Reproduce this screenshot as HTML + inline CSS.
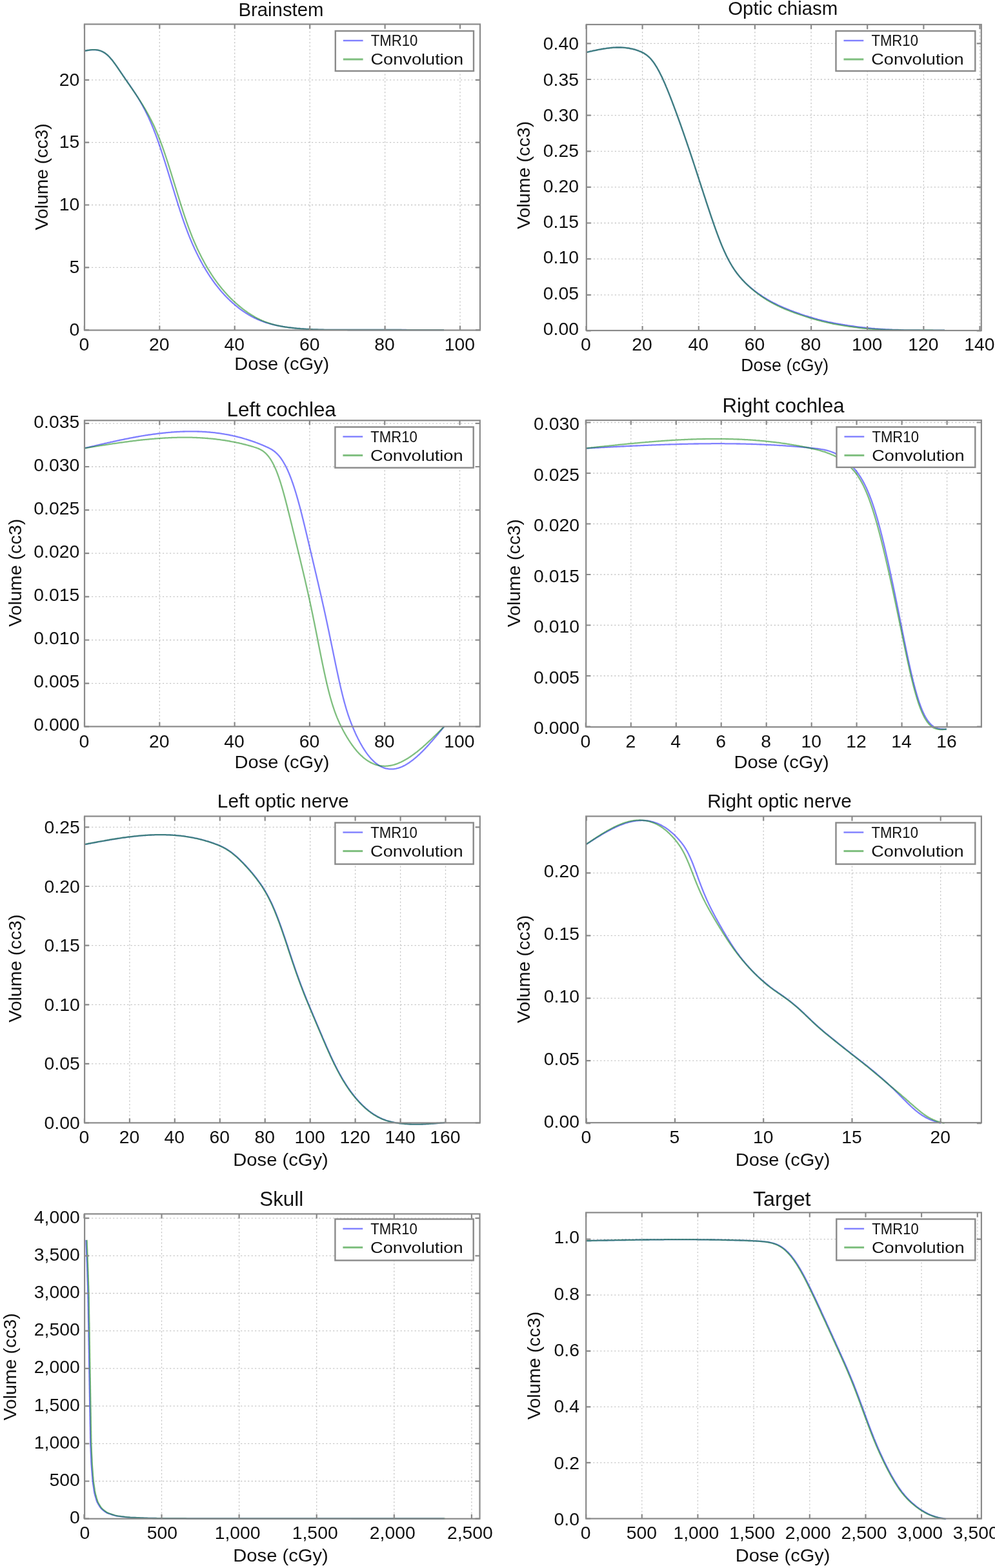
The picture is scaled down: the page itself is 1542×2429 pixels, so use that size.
<!DOCTYPE html><html><head><meta charset="utf-8"><title>DVH comparison</title>
<style>html,body{margin:0;padding:0;background:#fff;}svg{display:block;}text{font-family:"Liberation Sans", Arial, sans-serif;fill:#111;}</style></head><body>
<svg xmlns="http://www.w3.org/2000/svg" width="1542" height="2429" viewBox="0 0 1542 2429">
<rect width="1542" height="2429" fill="#fff"/>
<g><path d="M247.3,37.5V511.5 M363.7,37.5V511.5 M480.2,37.5V511.5 M596.6,37.5V511.5 M713.0,37.5V511.5 M131.0,414.3H744.0 M131.0,317.5H744.0 M131.0,220.7H744.0 M131.0,123.9H744.0" stroke="#c6c6c6" stroke-width="1.30" stroke-dasharray="2.2 3.3" fill="none"/><path d="M130.9,78.8L132.4,78.5L133.9,78.3L135.4,78.0L136.9,77.8L138.4,77.6L139.9,77.4L141.4,77.3L142.9,77.2L144.4,77.1L145.9,77.1L147.4,77.2L148.9,77.3L150.4,77.5L151.9,77.7L153.4,78.1L154.9,78.5L156.4,79.0L157.8,79.6L159.2,80.2L160.6,81.0L161.9,81.8L163.2,82.7L164.5,83.6L165.7,84.6L166.9,85.7L168.0,86.7L169.1,87.8L170.2,89.0L171.3,90.2L172.3,91.4L173.3,92.6L174.3,93.8L175.3,95.1L176.3,96.4L177.2,97.6L178.1,98.8L179.0,100.1L179.9,101.3L180.8,102.6L181.7,103.9L182.6,105.2L183.5,106.5L184.4,107.8L185.3,109.2L186.2,110.5L187.1,111.8L188.0,113.1L188.9,114.4L189.8,115.7L190.7,117.1L191.6,118.4L192.5,119.7L193.4,121.0L194.3,122.3L195.2,123.6L196.1,124.9L197.0,126.2L197.9,127.5L198.8,128.8L199.7,130.1L200.6,131.4L201.5,132.7L202.4,134.0L203.3,135.3L204.2,136.6L205.1,138.0L206.0,139.3L206.9,140.6L207.8,142.0L208.7,143.4L209.6,144.7L210.5,146.1L211.4,147.5L212.3,149.0L213.1,150.2L213.9,151.5L214.7,152.8L215.5,154.2L216.3,155.5L217.1,156.9L217.9,158.2L218.7,159.6L219.5,161.0L220.3,162.5L221.1,163.9L221.9,165.4L222.7,166.9L223.5,168.4L224.2,169.7L224.9,171.1L225.6,172.5L226.3,173.9L227.0,175.3L227.7,176.7L228.4,178.2L229.1,179.6L229.8,181.1L230.5,182.6L231.2,184.2L231.9,185.7L232.6,187.3L233.3,188.9L233.9,190.3L234.5,191.7L235.1,193.1L235.7,194.5L236.3,196.0L236.9,197.5L237.5,198.9L238.1,200.4L238.7,202.0L239.3,203.5L239.9,205.1L240.5,206.6L241.1,208.2L241.7,209.8L242.3,211.4L242.9,213.1L243.5,214.7L244.1,216.4L244.7,218.1L245.3,219.8L245.8,221.2L246.3,222.6L246.8,224.1L247.3,225.5L247.8,227.0L248.3,228.5L248.8,230.0L249.3,231.4L249.8,232.9L250.3,234.5L250.8,236.0L251.3,237.5L251.8,239.0L252.3,240.6L252.8,242.1L253.3,243.7L253.8,245.2L254.3,246.8L254.8,248.4L255.3,249.9L255.8,251.5L256.3,253.1L256.8,254.7L257.3,256.3L257.8,257.9L258.3,259.5L258.8,261.1L259.3,262.7L259.8,264.3L260.3,265.9L260.8,267.6L261.3,269.2L261.8,270.8L262.3,272.4L262.8,274.1L263.3,275.7L263.8,277.3L264.3,279.0L264.8,280.6L265.3,282.2L265.8,283.9L266.3,285.5L266.8,287.1L267.3,288.8L267.8,290.4L268.3,292.0L268.8,293.6L269.3,295.3L269.8,296.9L270.3,298.5L270.8,300.2L271.3,301.8L271.8,303.4L272.3,305.0L272.8,306.6L273.3,308.2L273.8,309.8L274.3,311.4L274.8,313.0L275.3,314.6L275.8,316.2L276.3,317.8L276.8,319.4L277.3,320.9L277.8,322.5L278.3,324.0L278.8,325.6L279.3,327.1L279.8,328.6L280.3,330.2L280.8,331.7L281.3,333.2L281.8,334.7L282.3,336.1L282.8,337.6L283.3,339.1L283.8,340.5L284.3,342.0L284.8,343.4L285.3,344.8L285.9,346.5L286.5,348.2L287.1,349.8L287.7,351.5L288.3,353.1L288.9,354.7L289.5,356.3L290.1,357.9L290.7,359.5L291.3,361.0L291.9,362.6L292.5,364.1L293.1,365.6L293.7,367.1L294.3,368.5L294.9,370.0L295.5,371.4L296.1,372.9L296.7,374.3L297.3,375.7L297.9,377.1L298.6,378.7L299.3,380.2L300.0,381.8L300.7,383.3L301.4,384.9L302.1,386.4L302.8,387.8L303.5,389.3L304.2,390.8L304.9,392.2L305.6,393.6L306.3,395.0L307.0,396.4L307.7,397.8L308.4,399.2L309.1,400.5L309.8,401.9L310.6,403.4L311.4,404.9L312.2,406.3L313.0,407.8L313.8,409.2L314.6,410.7L315.4,412.1L316.2,413.5L317.0,414.8L317.8,416.2L318.6,417.5L319.4,418.8L320.2,420.1L321.0,421.4L321.8,422.7L322.7,424.1L323.6,425.5L324.5,426.9L325.4,428.3L326.3,429.6L327.2,430.9L328.1,432.2L329.0,433.5L329.9,434.8L330.8,436.0L331.7,437.3L332.6,438.5L333.5,439.7L334.5,441.0L335.5,442.3L336.5,443.6L337.5,444.8L338.5,446.1L339.5,447.3L340.5,448.5L341.5,449.7L342.5,450.9L343.5,452.0L344.5,453.2L345.5,454.3L346.6,455.5L347.7,456.7L348.8,457.9L349.9,459.0L351.0,460.2L352.1,461.3L353.2,462.4L354.3,463.5L355.4,464.5L356.5,465.6L357.6,466.6L358.8,467.7L360.0,468.8L361.2,469.9L362.4,470.9L363.6,471.9L364.8,473.0L366.0,473.9L367.2,474.9L368.4,475.9L369.6,476.8L370.8,477.8L372.0,478.7L373.3,479.6L374.6,480.6L375.9,481.5L377.2,482.4L378.5,483.3L379.8,484.1L381.1,485.0L382.4,485.8L383.7,486.6L385.0,487.4L386.3,488.1L387.7,488.9L389.1,489.7L390.5,490.5L391.9,491.2L393.3,491.9L394.7,492.6L396.1,493.3L397.5,493.9L398.9,494.6L400.3,495.2L401.7,495.8L403.1,496.4L404.5,496.9L405.9,497.5L407.4,498.0L408.9,498.6L410.4,499.1L411.9,499.6L413.4,500.1L414.9,500.5L416.4,501.0L417.9,501.4L419.4,501.8L420.9,502.2L422.4,502.6L423.9,503.0L425.4,503.3L426.9,503.7L428.4,504.0L429.9,504.3L431.4,504.6L432.9,504.9L434.4,505.2L435.9,505.5L437.4,505.7L438.9,506.0L440.4,506.2L441.9,506.5L443.4,506.7L444.9,506.9L446.4,507.1L447.9,507.3L449.4,507.5L450.9,507.7L452.4,507.9L453.9,508.0L455.4,508.2L456.9,508.3L458.4,508.5L459.9,508.6L461.4,508.8L462.9,508.9L464.4,509.0L465.9,509.2L467.4,509.3L468.9,509.4L470.4,509.5L471.9,509.6L473.4,509.7L474.9,509.8L476.4,509.9L477.9,510.0L479.4,510.0L480.9,510.1L482.4,510.2L483.9,510.2L485.4,510.3L486.9,510.4L488.4,510.4L489.9,510.5L491.4,510.5L492.9,510.6L494.4,510.6L495.9,510.6L497.4,510.7L498.9,510.7L500.4,510.7L501.9,510.8L503.4,510.8L504.9,510.8L506.4,510.8L507.9,510.8L509.4,510.9L510.9,510.9L512.4,510.9L513.9,510.9L515.4,510.9L516.9,510.9L518.4,510.9L519.9,510.9L521.4,510.9L522.9,510.9L524.4,510.9L525.9,510.9L527.4,510.9L528.9,510.9L530.4,510.9L531.9,510.9L533.4,510.9L534.9,510.9L536.4,510.9L537.9,510.9L539.4,511.0L540.9,511.0L542.4,511.0L543.9,511.0L545.4,511.0L546.9,511.0L548.4,511.0L549.9,511.0L551.4,511.0L552.9,511.0L554.4,511.0L555.9,511.0L557.4,511.0L558.9,511.0L560.4,511.0L561.9,511.0L563.4,511.0L564.9,511.0L566.4,511.0L567.9,511.0L569.4,511.0L570.9,511.0L572.4,511.0L573.9,511.0L575.4,511.0L576.9,511.0L578.4,511.0L579.9,511.0L581.4,511.0L582.9,511.0L584.4,511.0L585.9,511.0L587.4,511.0L588.9,511.0L590.4,511.0L591.9,511.0L593.4,511.0L594.9,511.0L596.4,511.0L597.9,511.0L599.4,511.0L600.9,511.0L602.4,511.0L603.9,511.0L605.4,511.0L606.9,511.0L608.4,511.0L609.9,511.0L611.4,511.0L612.9,511.0L614.4,511.0L615.9,511.0L617.4,511.0L618.9,511.0L620.4,511.0L621.9,511.0L623.4,511.0L624.9,511.0L626.4,511.0L627.9,511.0L629.4,511.0L630.9,511.1L632.4,511.1L633.9,511.1L635.4,511.1L636.9,511.1L638.4,511.1L639.9,511.1L641.4,511.1L642.9,511.1L644.4,511.1L645.9,511.1L647.4,511.1L648.9,511.1L650.4,511.1L651.9,511.1L653.4,511.1L654.9,511.1L656.4,511.1L657.9,511.1L659.4,511.1L660.9,511.1L662.4,511.1L663.9,511.1L665.4,511.1L666.9,511.1L668.4,511.1L669.9,511.1L671.4,511.1L672.9,511.1L674.4,511.1L675.9,511.1L677.4,511.1L678.9,511.1L680.4,511.1L681.9,511.1L683.4,511.1L684.9,511.1L686.4,511.1L687.9,511.1L688.0,511.1" stroke="#0000ff" stroke-opacity="0.5" stroke-width="2.30" fill="none" stroke-linejoin="round" stroke-linecap="butt"/><path d="M130.9,78.8L132.4,78.5L133.9,78.3L135.4,78.0L136.9,77.8L138.4,77.6L139.9,77.4L141.4,77.2L142.9,77.1L144.4,77.1L145.9,77.1L147.4,77.1L148.9,77.2L150.4,77.4L151.9,77.7L153.4,78.0L154.9,78.4L156.4,79.0L157.8,79.5L159.2,80.2L160.6,81.0L161.9,81.8L163.2,82.6L164.5,83.6L165.7,84.6L166.9,85.7L168.0,86.7L169.1,87.8L170.2,89.0L171.3,90.2L172.3,91.4L173.3,92.6L174.3,93.8L175.3,95.1L176.3,96.5L177.2,97.7L178.1,98.9L179.0,100.2L179.9,101.4L180.8,102.7L181.7,104.0L182.6,105.3L183.5,106.7L184.4,108.0L185.3,109.3L186.2,110.6L187.1,112.0L188.0,113.3L188.9,114.6L189.8,116.0L190.7,117.3L191.6,118.6L192.5,119.9L193.4,121.3L194.3,122.6L195.2,123.9L196.1,125.2L197.0,126.5L197.9,127.8L198.8,129.1L199.7,130.4L200.6,131.7L201.5,133.0L202.4,134.3L203.3,135.6L204.2,136.9L205.1,138.2L206.0,139.5L206.9,140.8L207.8,142.1L208.7,143.4L209.6,144.8L210.5,146.1L211.4,147.4L212.3,148.8L213.2,150.1L214.1,151.5L215.0,152.9L215.9,154.3L216.8,155.6L217.7,157.1L218.6,158.5L219.4,159.8L220.2,161.0L221.0,162.3L221.8,163.6L222.6,165.0L223.4,166.3L224.2,167.6L225.0,169.0L225.8,170.4L226.6,171.8L227.4,173.2L228.2,174.6L229.0,176.1L229.8,177.5L230.6,179.0L231.4,180.5L232.1,181.8L232.8,183.2L233.5,184.5L234.2,185.9L234.9,187.3L235.6,188.7L236.3,190.2L237.0,191.6L237.7,193.1L238.4,194.6L239.1,196.1L239.8,197.6L240.5,199.2L241.2,200.8L241.8,202.2L242.4,203.5L243.0,205.0L243.6,206.4L244.2,207.8L244.8,209.3L245.4,210.8L246.0,212.3L246.6,213.8L247.2,215.3L247.8,216.9L248.4,218.4L249.0,220.0L249.6,221.6L250.2,223.2L250.8,224.9L251.4,226.5L252.0,228.2L252.6,229.9L253.1,231.3L253.6,232.7L254.1,234.2L254.6,235.6L255.1,237.1L255.6,238.5L256.1,240.0L256.6,241.5L257.1,243.0L257.6,244.5L258.1,246.0L258.6,247.5L259.1,249.1L259.6,250.6L260.1,252.2L260.6,253.7L261.1,255.3L261.6,256.8L262.1,258.4L262.6,260.0L263.1,261.6L263.6,263.2L264.1,264.8L264.6,266.3L265.1,267.9L265.6,269.6L266.1,271.2L266.6,272.8L267.1,274.4L267.6,276.0L268.1,277.6L268.6,279.2L269.1,280.9L269.6,282.5L270.1,284.1L270.6,285.7L271.1,287.4L271.6,289.0L272.1,290.6L272.6,292.2L273.1,293.9L273.6,295.5L274.1,297.1L274.6,298.7L275.1,300.4L275.6,302.0L276.1,303.6L276.6,305.2L277.1,306.8L277.6,308.4L278.1,310.0L278.6,311.6L279.1,313.2L279.6,314.8L280.1,316.4L280.6,318.0L281.1,319.6L281.6,321.1L282.1,322.7L282.6,324.2L283.1,325.8L283.6,327.3L284.1,328.8L284.6,330.3L285.1,331.8L285.6,333.3L286.1,334.8L286.6,336.3L287.1,337.8L287.6,339.2L288.1,340.7L288.6,342.1L289.1,343.6L289.6,345.0L290.2,346.7L290.8,348.3L291.4,350.0L292.0,351.6L292.6,353.3L293.2,354.9L293.8,356.5L294.4,358.0L295.0,359.6L295.6,361.1L296.2,362.7L296.8,364.2L297.4,365.7L298.0,367.2L298.6,368.6L299.2,370.1L299.8,371.5L300.4,373.0L301.0,374.4L301.6,375.8L302.2,377.1L302.9,378.7L303.6,380.3L304.3,381.8L305.0,383.4L305.7,384.9L306.4,386.4L307.1,387.9L307.8,389.3L308.5,390.8L309.2,392.2L309.9,393.6L310.6,395.0L311.3,396.4L312.0,397.8L312.7,399.2L313.4,400.5L314.1,401.8L314.9,403.3L315.7,404.8L316.5,406.3L317.3,407.7L318.1,409.2L318.9,410.6L319.7,412.0L320.5,413.4L321.3,414.7L322.1,416.1L322.9,417.4L323.7,418.7L324.5,420.0L325.3,421.3L326.2,422.7L327.1,424.1L328.0,425.5L328.9,426.9L329.8,428.2L330.7,429.6L331.6,430.9L332.5,432.2L333.4,433.4L334.3,434.7L335.2,435.9L336.1,437.2L337.0,438.4L338.0,439.7L339.0,441.0L340.0,442.3L341.0,443.6L342.0,444.8L343.0,446.1L344.0,447.3L345.0,448.5L346.0,449.6L347.0,450.8L348.0,452.0L349.0,453.1L350.1,454.3L351.2,455.5L352.3,456.7L353.4,457.9L354.5,459.0L355.6,460.1L356.7,461.3L357.8,462.4L358.9,463.4L360.0,464.5L361.1,465.5L362.2,466.6L363.4,467.7L364.6,468.8L365.8,469.8L367.0,470.9L368.2,471.9L369.4,473.0L370.6,474.0L371.8,475.0L373.0,475.9L374.2,476.9L375.4,477.8L376.6,478.8L377.8,479.7L379.1,480.7L380.4,481.6L381.7,482.5L383.0,483.5L384.3,484.4L385.6,485.2L386.9,486.1L388.2,486.9L389.5,487.7L390.8,488.6L392.1,489.3L393.4,490.1L394.8,490.9L396.2,491.7L397.6,492.4L399.0,493.2L400.4,493.9L401.8,494.6L403.2,495.3L404.6,495.9L406.0,496.6L407.4,497.2L408.8,497.7L410.2,498.3L411.6,498.8L413.1,499.4L414.6,499.9L416.1,500.4L417.6,500.9L419.1,501.4L420.6,501.9L422.1,502.3L423.6,502.7L425.1,503.1L426.6,503.5L428.1,503.8L429.6,504.2L431.1,504.5L432.6,504.8L434.1,505.1L435.6,505.4L437.1,505.7L438.6,506.0L440.1,506.2L441.6,506.5L443.1,506.7L444.6,506.9L446.1,507.1L447.6,507.3L449.1,507.5L450.6,507.7L452.1,507.9L453.6,508.0L455.1,508.2L456.6,508.4L458.1,508.5L459.6,508.7L461.1,508.8L462.6,508.9L464.1,509.0L465.6,509.2L467.1,509.3L468.6,509.4L470.1,509.5L471.6,509.6L473.1,509.7L474.6,509.8L476.1,509.9L477.6,510.0L479.1,510.0L480.6,510.1L482.1,510.2L483.6,510.2L485.1,510.3L486.6,510.4L488.1,510.4L489.6,510.5L491.1,510.5L492.6,510.5L494.1,510.6L495.6,510.6L497.1,510.7L498.6,510.7L500.1,510.7L501.6,510.7L503.1,510.8L504.6,510.8L506.1,510.8L507.6,510.8L509.1,510.8L510.6,510.9L512.1,510.9L513.6,510.9L515.1,510.9L516.6,510.9L518.1,510.9L519.6,510.9L521.1,510.9L522.6,510.9L524.1,510.9L525.6,510.9L527.1,510.9L528.6,510.9L530.1,510.9L531.6,510.9L533.1,510.9L534.6,510.9L536.1,510.9L537.6,510.9L539.1,511.0L540.6,511.0L542.1,511.0L543.6,511.0L545.1,511.0L546.6,511.0L548.1,511.0L549.6,511.0L551.1,511.0L552.6,511.0L554.1,511.0L555.6,511.0L557.1,511.0L558.6,511.0L560.1,511.0L561.6,511.0L563.1,511.0L564.6,511.0L566.1,511.0L567.6,511.0L569.1,511.0L570.6,511.0L572.1,511.0L573.6,511.0L575.1,511.0L576.6,511.0L578.1,511.0L579.6,511.0L581.1,511.0L582.6,511.0L584.1,511.0L585.6,511.0L587.1,511.0L588.6,511.0L590.1,511.0L591.6,511.0L593.1,511.0L594.6,511.0L596.1,511.0L597.6,511.0L599.1,511.0L600.6,511.0L602.1,511.0L603.6,511.0L605.1,511.0L606.6,511.0L608.1,511.0L609.6,511.0L611.1,511.0L612.6,511.0L614.1,511.0L615.6,511.0L617.1,511.0L618.6,511.0L620.1,511.0L621.6,511.0L623.1,511.1L624.6,511.1L626.1,511.1L627.6,511.1L629.1,511.1L630.6,511.1L632.1,511.1L633.6,511.1L635.1,511.1L636.6,511.1L638.1,511.1L639.6,511.1L641.1,511.1L642.6,511.1L644.1,511.1L645.6,511.1L647.1,511.1L648.6,511.1L650.1,511.1L651.6,511.1L653.1,511.1L654.6,511.1L656.1,511.1L657.6,511.1L659.1,511.1L660.6,511.1L662.1,511.1L663.6,511.1L665.1,511.1L666.6,511.1L668.1,511.1L669.6,511.1L671.1,511.1L672.6,511.1L674.1,511.1L675.6,511.1L677.1,511.1L678.6,511.1L680.1,511.1L681.6,511.1L683.1,511.1L684.6,511.1L686.1,511.1L687.6,511.1L688.0,511.1" stroke="#008000" stroke-opacity="0.5" stroke-width="2.30" fill="none" stroke-linejoin="round" stroke-linecap="butt"/><path d="M130.9,511.5V504.5 M130.9,37.5V44.5 M247.3,511.5V504.5 M247.3,37.5V44.5 M363.7,511.5V504.5 M363.7,37.5V44.5 M480.2,511.5V504.5 M480.2,37.5V44.5 M596.6,511.5V504.5 M596.6,37.5V44.5 M713.0,511.5V504.5 M713.0,37.5V44.5 M131.0,511.1H138.0 M744.0,511.1H737.0 M131.0,414.3H138.0 M744.0,414.3H737.0 M131.0,317.5H138.0 M744.0,317.5H737.0 M131.0,220.7H138.0 M744.0,220.7H737.0 M131.0,123.9H138.0 M744.0,123.9H737.0" stroke="#8a8a8a" stroke-width="2.20" fill="none"/><rect x="131.0" y="37.5" width="613.0" height="474.0" fill="none" stroke="#8a8a8a" stroke-width="2.20"/><text x="130.4" y="542.5" font-size="27.0" text-anchor="middle" textLength="15.8" lengthAdjust="spacingAndGlyphs">0</text><text x="246.8" y="542.5" font-size="27.0" text-anchor="middle" textLength="31.5" lengthAdjust="spacingAndGlyphs">20</text><text x="363.2" y="542.5" font-size="27.0" text-anchor="middle" textLength="31.5" lengthAdjust="spacingAndGlyphs">40</text><text x="479.7" y="542.5" font-size="27.0" text-anchor="middle" textLength="31.5" lengthAdjust="spacingAndGlyphs">60</text><text x="596.1" y="542.5" font-size="27.0" text-anchor="middle" textLength="31.5" lengthAdjust="spacingAndGlyphs">80</text><text x="712.5" y="542.5" font-size="27.0" text-anchor="middle" textLength="47.3" lengthAdjust="spacingAndGlyphs">100</text><text x="123.3" y="519.8" font-size="27.0" text-anchor="end" textLength="15.8" lengthAdjust="spacingAndGlyphs">0</text><text x="123.3" y="423.0" font-size="27.0" text-anchor="end" textLength="15.8" lengthAdjust="spacingAndGlyphs">5</text><text x="123.3" y="326.2" font-size="27.0" text-anchor="end" textLength="31.5" lengthAdjust="spacingAndGlyphs">10</text><text x="123.3" y="229.4" font-size="27.0" text-anchor="end" textLength="31.5" lengthAdjust="spacingAndGlyphs">15</text><text x="123.3" y="132.6" font-size="27.0" text-anchor="end" textLength="31.5" lengthAdjust="spacingAndGlyphs">20</text><text x="369.4" y="25.2" font-size="29.7" text-anchor="start" textLength="132.1" lengthAdjust="spacingAndGlyphs">Brainstem</text><text x="363.3" y="573.0" font-size="28.5" text-anchor="start" textLength="147.0" lengthAdjust="spacingAndGlyphs">Dose (cGy)</text><g transform="translate(74.3,356.3) rotate(-90)"><text x="-0.1" y="0.0" font-size="28.5" text-anchor="start" textLength="165.1" lengthAdjust="spacingAndGlyphs">Volume (cc3)</text></g><rect x="519.8" y="48.0" width="214.2" height="62.0" fill="#fff" stroke="#8a8a8a" stroke-width="2.40"/><path d="M531.8,62.9H562.6" stroke="#0000ff" stroke-opacity="0.5" stroke-width="2.4"/><path d="M531.8,91.9H562.6" stroke="#008000" stroke-opacity="0.5" stroke-width="3.0"/><text x="574.7" y="71.4" font-size="24.5" text-anchor="start" textLength="72.6" lengthAdjust="spacingAndGlyphs">TMR10</text><text x="574.5" y="100.2" font-size="24.5" text-anchor="start" textLength="143.5" lengthAdjust="spacingAndGlyphs">Convolution</text></g>
<g><path d="M995.6,38.0V512.0 M1082.8,38.0V512.0 M1169.9,38.0V512.0 M1257.1,38.0V512.0 M1344.2,38.0V512.0 M1431.4,38.0V512.0 M1518.5,38.0V512.0 M908.8,456.8H1520.8 M908.8,401.2H1520.8 M908.8,345.5H1520.8 M908.8,289.9H1520.8 M908.8,234.3H1520.8 M908.8,178.7H1520.8 M908.8,123.0H1520.8 M908.8,67.4H1520.8" stroke="#c6c6c6" stroke-width="1.30" stroke-dasharray="2.2 3.3" fill="none"/><path d="M908.5,81.1L910.0,80.8L911.5,80.4L913.0,80.1L914.5,79.7L916.0,79.4L917.5,79.1L919.0,78.7L920.5,78.4L922.0,78.1L923.5,77.8L925.0,77.5L926.5,77.2L928.0,76.9L929.5,76.6L931.0,76.3L932.5,76.0L934.0,75.8L935.5,75.5L937.0,75.3L938.5,75.1L940.0,74.8L941.5,74.6L943.0,74.5L944.5,74.3L946.0,74.1L947.5,74.0L949.0,73.9L950.5,73.7L952.0,73.6L953.5,73.6L955.0,73.5L956.5,73.5L958.0,73.5L959.5,73.5L961.0,73.5L962.5,73.5L964.0,73.6L965.5,73.7L967.0,73.8L968.5,73.9L970.0,74.1L971.5,74.3L973.0,74.5L974.5,74.7L976.0,75.0L977.5,75.3L979.0,75.6L980.5,75.9L982.0,76.3L983.5,76.7L985.0,77.2L986.5,77.6L988.0,78.2L989.5,78.7L991.0,79.3L992.4,79.8L993.8,80.4L995.2,81.1L996.6,81.8L998.0,82.6L999.3,83.4L1000.6,84.2L1001.9,85.1L1003.1,86.1L1004.3,87.1L1005.5,88.1L1006.6,89.2L1007.7,90.3L1008.8,91.5L1009.8,92.7L1010.8,93.9L1011.8,95.2L1012.7,96.4L1013.6,97.7L1014.5,99.0L1015.4,100.3L1016.3,101.8L1017.1,103.0L1017.9,104.4L1018.7,105.8L1019.5,107.2L1020.3,108.6L1021.1,110.1L1021.9,111.6L1022.6,113.0L1023.3,114.4L1024.0,115.8L1024.7,117.2L1025.4,118.6L1026.1,120.1L1026.8,121.6L1027.5,123.1L1028.2,124.7L1028.9,126.2L1029.6,127.8L1030.3,129.4L1030.9,130.8L1031.5,132.2L1032.1,133.6L1032.7,135.1L1033.3,136.5L1033.9,137.9L1034.5,139.4L1035.1,140.9L1035.7,142.4L1036.3,143.8L1036.9,145.4L1037.5,146.9L1038.1,148.4L1038.7,149.9L1039.3,151.5L1039.9,153.0L1040.5,154.6L1041.1,156.1L1041.7,157.7L1042.3,159.3L1042.9,160.9L1043.5,162.5L1044.1,164.1L1044.7,165.7L1045.3,167.3L1045.9,168.9L1046.5,170.5L1047.1,172.1L1047.7,173.8L1048.3,175.4L1048.9,177.0L1049.5,178.7L1050.1,180.3L1050.7,182.0L1051.3,183.7L1051.9,185.3L1052.5,187.0L1053.1,188.7L1053.7,190.4L1054.3,192.0L1054.9,193.7L1055.5,195.4L1056.1,197.1L1056.6,198.5L1057.1,200.0L1057.6,201.4L1058.1,202.8L1058.6,204.2L1059.1,205.7L1059.6,207.1L1060.1,208.5L1060.6,210.0L1061.1,211.4L1061.6,212.9L1062.1,214.3L1062.6,215.8L1063.1,217.2L1063.6,218.7L1064.1,220.1L1064.6,221.6L1065.1,223.1L1065.6,224.5L1066.1,226.0L1066.6,227.5L1067.1,229.0L1067.6,230.4L1068.1,231.9L1068.6,233.4L1069.1,234.9L1069.6,236.4L1070.1,237.9L1070.6,239.4L1071.1,240.9L1071.6,242.4L1072.1,243.9L1072.6,245.4L1073.1,246.9L1073.6,248.4L1074.1,249.9L1074.6,251.4L1075.1,253.0L1075.6,254.5L1076.1,256.0L1076.6,257.5L1077.1,259.0L1077.6,260.6L1078.1,262.1L1078.6,263.6L1079.1,265.2L1079.6,266.7L1080.1,268.2L1080.6,269.8L1081.1,271.3L1081.6,272.8L1082.1,274.4L1082.6,275.9L1083.1,277.5L1083.6,279.0L1084.1,280.5L1084.6,282.1L1085.1,283.6L1085.6,285.2L1086.1,286.7L1086.6,288.2L1087.1,289.8L1087.6,291.3L1088.1,292.9L1088.6,294.4L1089.1,295.9L1089.6,297.5L1090.1,299.0L1090.6,300.6L1091.1,302.1L1091.6,303.6L1092.1,305.2L1092.6,306.7L1093.1,308.2L1093.6,309.7L1094.1,311.3L1094.6,312.8L1095.1,314.3L1095.6,315.8L1096.1,317.4L1096.6,318.9L1097.1,320.4L1097.6,321.9L1098.1,323.4L1098.6,324.9L1099.1,326.4L1099.6,327.9L1100.1,329.4L1100.6,330.9L1101.1,332.4L1101.6,333.8L1102.1,335.3L1102.6,336.8L1103.1,338.3L1103.6,339.7L1104.1,341.2L1104.6,342.6L1105.1,344.1L1105.6,345.5L1106.1,347.0L1106.6,348.4L1107.1,349.8L1107.6,351.2L1108.2,352.9L1108.8,354.6L1109.4,356.3L1110.0,357.9L1110.6,359.6L1111.2,361.2L1111.8,362.8L1112.4,364.4L1113.0,366.0L1113.6,367.6L1114.2,369.2L1114.8,370.7L1115.4,372.2L1116.0,373.8L1116.6,375.3L1117.2,376.8L1117.8,378.2L1118.4,379.7L1119.0,381.1L1119.6,382.6L1120.2,384.0L1120.8,385.4L1121.5,387.0L1122.2,388.5L1122.9,390.1L1123.6,391.6L1124.3,393.1L1125.0,394.6L1125.7,396.0L1126.4,397.4L1127.1,398.8L1127.8,400.2L1128.5,401.6L1129.3,403.1L1130.1,404.5L1130.9,406.0L1131.7,407.4L1132.5,408.8L1133.3,410.2L1134.1,411.5L1134.9,412.8L1135.7,414.1L1136.6,415.5L1137.5,416.8L1138.4,418.2L1139.3,419.5L1140.2,420.7L1141.1,422.0L1142.0,423.2L1143.0,424.5L1144.0,425.8L1145.0,427.0L1146.0,428.2L1147.0,429.4L1148.0,430.6L1149.0,431.7L1150.1,432.9L1151.2,434.1L1152.3,435.2L1153.4,436.4L1154.5,437.5L1155.6,438.6L1156.7,439.6L1157.8,440.7L1159.0,441.8L1160.2,442.9L1161.4,443.9L1162.6,445.0L1163.8,446.0L1165.0,447.0L1166.2,448.0L1167.4,448.9L1168.6,449.9L1169.8,450.8L1171.0,451.7L1172.3,452.7L1173.6,453.6L1174.9,454.6L1176.2,455.5L1177.5,456.4L1178.8,457.3L1180.1,458.2L1181.4,459.0L1182.7,459.9L1184.0,460.7L1185.3,461.5L1186.6,462.3L1187.9,463.1L1189.2,463.9L1190.5,464.6L1191.9,465.4L1193.3,466.2L1194.7,467.0L1196.1,467.7L1197.5,468.5L1198.9,469.2L1200.3,469.9L1201.7,470.6L1203.1,471.3L1204.5,472.0L1205.9,472.7L1207.3,473.3L1208.7,474.0L1210.1,474.6L1211.5,475.2L1212.9,475.9L1214.3,476.5L1215.7,477.1L1217.1,477.7L1218.5,478.2L1219.9,478.8L1221.3,479.4L1222.7,479.9L1224.1,480.5L1225.5,481.0L1227.0,481.6L1228.5,482.2L1230.0,482.7L1231.5,483.3L1233.0,483.8L1234.5,484.4L1236.0,484.9L1237.5,485.4L1239.0,485.9L1240.5,486.5L1242.0,487.0L1243.5,487.5L1245.0,488.0L1246.5,488.5L1248.0,489.0L1249.5,489.4L1251.0,489.9L1252.5,490.4L1254.0,490.8L1255.5,491.3L1257.0,491.8L1258.5,492.2L1260.0,492.7L1261.5,493.1L1263.0,493.5L1264.5,493.9L1266.0,494.3L1267.5,494.8L1269.0,495.2L1270.5,495.5L1272.0,495.9L1273.5,496.3L1275.0,496.7L1276.5,497.0L1278.0,497.4L1279.5,497.7L1281.0,498.1L1282.5,498.4L1284.0,498.8L1285.5,499.1L1287.0,499.4L1288.5,499.7L1290.0,500.0L1291.5,500.3L1293.0,500.6L1294.5,500.9L1296.0,501.2L1297.5,501.4L1299.0,501.7L1300.5,502.0L1302.0,502.2L1303.5,502.5L1305.0,502.7L1306.5,503.0L1308.0,503.2L1309.5,503.5L1311.0,503.7L1312.5,503.9L1314.0,504.2L1315.5,504.4L1317.0,504.6L1318.5,504.8L1320.0,505.0L1321.5,505.2L1323.0,505.4L1324.5,505.7L1326.0,505.9L1327.5,506.1L1329.0,506.3L1330.5,506.5L1332.0,506.6L1333.5,506.8L1335.0,507.0L1336.5,507.2L1338.0,507.4L1339.5,507.5L1341.0,507.7L1342.5,507.9L1344.0,508.0L1345.5,508.2L1347.0,508.4L1348.5,508.5L1350.0,508.6L1351.5,508.8L1353.0,508.9L1354.5,509.0L1356.0,509.2L1357.5,509.3L1359.0,509.4L1360.5,509.5L1362.0,509.6L1363.5,509.7L1365.0,509.8L1366.5,509.9L1368.0,510.0L1369.5,510.1L1371.0,510.2L1372.5,510.3L1374.0,510.4L1375.5,510.4L1377.0,510.5L1378.5,510.6L1380.0,510.6L1381.5,510.7L1383.0,510.8L1384.5,510.8L1386.0,510.9L1387.5,510.9L1389.0,511.0L1390.5,511.0L1392.0,511.0L1393.5,511.1L1395.0,511.1L1396.5,511.2L1398.0,511.2L1399.5,511.2L1401.0,511.3L1402.5,511.3L1404.0,511.3L1405.5,511.3L1407.0,511.4L1408.5,511.4L1410.0,511.4L1411.5,511.4L1413.0,511.4L1414.5,511.5L1416.0,511.5L1417.5,511.5L1419.0,511.5L1420.5,511.5L1422.0,511.5L1423.5,511.5L1425.0,511.5L1426.5,511.6L1428.0,511.6L1429.5,511.6L1431.0,511.6L1432.5,511.6L1434.0,511.6L1435.5,511.6L1437.0,511.6L1438.5,511.6L1440.0,511.6L1441.5,511.6L1443.0,511.6L1444.5,511.6L1446.0,511.6L1447.5,511.6L1449.0,511.6L1450.5,511.6L1452.0,511.6L1453.5,511.6L1455.0,511.6L1456.5,511.6L1458.0,511.6L1459.5,511.6L1461.0,511.6L1462.5,511.6L1464.0,511.6" stroke="#0000ff" stroke-opacity="0.5" stroke-width="2.30" fill="none" stroke-linejoin="round" stroke-linecap="butt"/><path d="M908.5,81.1L910.0,80.8L911.5,80.4L913.0,80.1L914.5,79.7L916.0,79.4L917.5,79.1L919.0,78.7L920.5,78.4L922.0,78.1L923.5,77.8L925.0,77.5L926.5,77.2L928.0,76.9L929.5,76.6L931.0,76.3L932.5,76.0L934.0,75.8L935.5,75.5L937.0,75.3L938.5,75.1L940.0,74.8L941.5,74.6L943.0,74.5L944.5,74.3L946.0,74.1L947.5,74.0L949.0,73.9L950.5,73.7L952.0,73.6L953.5,73.6L955.0,73.5L956.5,73.5L958.0,73.5L959.5,73.5L961.0,73.5L962.5,73.5L964.0,73.6L965.5,73.7L967.0,73.8L968.5,73.9L970.0,74.1L971.5,74.3L973.0,74.5L974.5,74.7L976.0,75.0L977.5,75.3L979.0,75.6L980.5,75.9L982.0,76.3L983.5,76.7L985.0,77.2L986.5,77.6L988.0,78.2L989.5,78.7L991.0,79.3L992.4,79.8L993.8,80.4L995.2,81.1L996.6,81.8L998.0,82.6L999.3,83.4L1000.6,84.2L1001.9,85.1L1003.1,86.1L1004.3,87.1L1005.5,88.1L1006.6,89.2L1007.7,90.3L1008.8,91.5L1009.8,92.7L1010.8,93.9L1011.8,95.2L1012.7,96.4L1013.6,97.7L1014.5,99.0L1015.4,100.3L1016.3,101.8L1017.1,103.0L1017.9,104.4L1018.7,105.8L1019.5,107.2L1020.3,108.6L1021.1,110.1L1021.9,111.6L1022.6,113.0L1023.3,114.4L1024.0,115.8L1024.7,117.2L1025.4,118.6L1026.1,120.1L1026.8,121.6L1027.5,123.1L1028.2,124.7L1028.9,126.2L1029.6,127.8L1030.3,129.4L1030.9,130.8L1031.5,132.2L1032.1,133.6L1032.7,135.1L1033.3,136.5L1033.9,137.9L1034.5,139.4L1035.1,140.9L1035.7,142.4L1036.3,143.8L1036.9,145.4L1037.5,146.9L1038.1,148.4L1038.7,149.9L1039.3,151.5L1039.9,153.0L1040.5,154.6L1041.1,156.1L1041.7,157.7L1042.3,159.3L1042.9,160.9L1043.5,162.5L1044.1,164.1L1044.7,165.7L1045.3,167.3L1045.9,168.9L1046.5,170.5L1047.1,172.1L1047.7,173.8L1048.3,175.4L1048.9,177.0L1049.5,178.7L1050.1,180.3L1050.7,182.0L1051.3,183.7L1051.9,185.3L1052.5,187.0L1053.1,188.7L1053.7,190.4L1054.3,192.0L1054.9,193.7L1055.5,195.4L1056.1,197.1L1056.6,198.5L1057.1,200.0L1057.6,201.4L1058.1,202.8L1058.6,204.2L1059.1,205.7L1059.6,207.1L1060.1,208.5L1060.6,210.0L1061.1,211.4L1061.6,212.9L1062.1,214.3L1062.6,215.8L1063.1,217.2L1063.6,218.7L1064.1,220.1L1064.6,221.6L1065.1,223.1L1065.6,224.5L1066.1,226.0L1066.6,227.5L1067.1,229.0L1067.6,230.4L1068.1,231.9L1068.6,233.4L1069.1,234.9L1069.6,236.4L1070.1,237.9L1070.6,239.4L1071.1,240.9L1071.6,242.4L1072.1,243.9L1072.6,245.4L1073.1,246.9L1073.6,248.4L1074.1,249.9L1074.6,251.4L1075.1,253.0L1075.6,254.5L1076.1,256.0L1076.6,257.5L1077.1,259.0L1077.6,260.6L1078.1,262.1L1078.6,263.6L1079.1,265.2L1079.6,266.7L1080.1,268.2L1080.6,269.8L1081.1,271.3L1081.6,272.8L1082.1,274.4L1082.6,275.9L1083.1,277.5L1083.6,279.0L1084.1,280.5L1084.6,282.1L1085.1,283.6L1085.6,285.2L1086.1,286.7L1086.6,288.2L1087.1,289.8L1087.6,291.3L1088.1,292.9L1088.6,294.4L1089.1,295.9L1089.6,297.5L1090.1,299.0L1090.6,300.6L1091.1,302.1L1091.6,303.6L1092.1,305.2L1092.6,306.7L1093.1,308.2L1093.6,309.7L1094.1,311.3L1094.6,312.8L1095.1,314.3L1095.6,315.8L1096.1,317.4L1096.6,318.9L1097.1,320.4L1097.6,321.9L1098.1,323.4L1098.6,324.9L1099.1,326.4L1099.6,327.9L1100.1,329.4L1100.6,330.9L1101.1,332.4L1101.6,333.8L1102.1,335.3L1102.6,336.8L1103.1,338.3L1103.6,339.7L1104.1,341.2L1104.6,342.6L1105.1,344.1L1105.6,345.5L1106.1,347.0L1106.6,348.4L1107.1,349.8L1107.6,351.2L1108.2,352.9L1108.8,354.6L1109.4,356.2L1110.0,357.9L1110.6,359.5L1111.2,361.2L1111.8,362.8L1112.4,364.4L1113.0,366.0L1113.6,367.6L1114.2,369.1L1114.8,370.7L1115.4,372.2L1116.0,373.8L1116.6,375.3L1117.2,376.7L1117.8,378.2L1118.4,379.7L1119.0,381.1L1119.6,382.5L1120.2,384.0L1120.8,385.3L1121.5,386.9L1122.2,388.5L1122.9,390.1L1123.6,391.6L1124.3,393.1L1125.0,394.6L1125.7,396.0L1126.4,397.4L1127.1,398.8L1127.8,400.2L1128.5,401.5L1129.3,403.0L1130.1,404.5L1130.9,406.0L1131.7,407.4L1132.5,408.8L1133.3,410.1L1134.1,411.5L1134.9,412.8L1135.7,414.0L1136.6,415.4L1137.5,416.8L1138.4,418.1L1139.3,419.5L1140.2,420.7L1141.1,422.0L1142.0,423.2L1143.0,424.5L1144.0,425.8L1145.0,427.0L1146.0,428.3L1147.0,429.5L1148.0,430.6L1149.0,431.8L1150.0,432.9L1151.1,434.1L1152.2,435.3L1153.3,436.4L1154.4,437.6L1155.5,438.7L1156.6,439.8L1157.7,440.8L1158.8,441.9L1159.9,442.9L1161.1,444.0L1162.3,445.1L1163.5,446.2L1164.7,447.2L1165.9,448.2L1167.1,449.2L1168.3,450.2L1169.5,451.2L1170.7,452.1L1171.9,453.1L1173.1,454.0L1174.3,454.9L1175.6,455.9L1176.9,456.8L1178.2,457.8L1179.5,458.7L1180.8,459.6L1182.1,460.5L1183.4,461.3L1184.7,462.2L1186.0,463.0L1187.3,463.9L1188.6,464.7L1189.9,465.5L1191.2,466.2L1192.5,467.0L1193.9,467.8L1195.3,468.6L1196.7,469.3L1198.1,470.1L1199.5,470.8L1200.9,471.5L1202.3,472.3L1203.7,472.9L1205.1,473.6L1206.5,474.3L1207.9,475.0L1209.3,475.6L1210.7,476.2L1212.1,476.9L1213.5,477.5L1214.9,478.1L1216.3,478.7L1217.7,479.3L1219.1,479.8L1220.5,480.4L1221.9,481.0L1223.3,481.5L1224.7,482.1L1226.2,482.6L1227.7,483.2L1229.2,483.8L1230.7,484.3L1232.2,484.9L1233.7,485.4L1235.2,485.9L1236.7,486.5L1238.2,487.0L1239.7,487.5L1241.2,488.0L1242.7,488.5L1244.2,489.0L1245.7,489.5L1247.2,490.0L1248.7,490.5L1250.2,491.0L1251.7,491.4L1253.2,491.9L1254.7,492.4L1256.2,492.8L1257.7,493.3L1259.2,493.7L1260.7,494.2L1262.2,494.6L1263.7,495.0L1265.2,495.4L1266.7,495.8L1268.2,496.2L1269.7,496.6L1271.2,497.0L1272.7,497.4L1274.2,497.8L1275.7,498.1L1277.2,498.5L1278.7,498.9L1280.2,499.2L1281.7,499.5L1283.2,499.9L1284.7,500.2L1286.2,500.5L1287.7,500.8L1289.2,501.2L1290.7,501.5L1292.2,501.8L1293.7,502.1L1295.2,502.3L1296.7,502.6L1298.2,502.9L1299.7,503.2L1301.2,503.4L1302.7,503.7L1304.2,503.9L1305.7,504.2L1307.2,504.4L1308.7,504.7L1310.2,504.9L1311.7,505.1L1313.2,505.4L1314.7,505.6L1316.2,505.8L1317.7,506.0L1319.2,506.2L1320.7,506.4L1322.2,506.6L1323.7,506.8L1325.2,507.0L1326.7,507.2L1328.2,507.4L1329.7,507.6L1331.2,507.8L1332.7,508.0L1334.2,508.2L1335.7,508.3L1337.2,508.5L1338.7,508.6L1340.2,508.8L1341.7,508.9L1343.2,509.1L1344.7,509.2L1346.2,509.3L1347.7,509.5L1349.2,509.6L1350.7,509.7L1352.2,509.8L1353.7,509.9L1355.2,510.0L1356.7,510.1L1358.2,510.2L1359.7,510.2L1361.2,510.3L1362.7,510.4L1364.2,510.5L1365.7,510.5L1367.2,510.6L1368.7,510.6L1370.2,510.7L1371.7,510.7L1373.2,510.8L1374.7,510.8L1376.2,510.9L1377.7,510.9L1379.2,511.0L1380.7,511.0L1382.2,511.0L1383.7,511.1L1385.2,511.1L1386.7,511.1L1388.2,511.1L1389.7,511.2L1391.2,511.2L1392.7,511.2L1394.2,511.2L1395.7,511.2L1397.2,511.3L1398.7,511.3L1400.2,511.3L1401.7,511.3L1403.2,511.3L1404.7,511.3L1406.2,511.3L1407.7,511.4L1409.2,511.4L1410.7,511.4L1412.2,511.4L1413.7,511.4L1415.2,511.4L1416.7,511.4L1418.2,511.4L1419.7,511.4L1421.2,511.4L1422.7,511.4L1424.2,511.5L1425.7,511.5L1427.2,511.5L1428.7,511.5L1430.2,511.5L1431.7,511.5L1433.2,511.5L1434.7,511.5L1436.2,511.5L1437.7,511.5L1439.2,511.5L1440.7,511.5L1442.2,511.5L1443.7,511.5L1445.2,511.5L1446.7,511.6L1448.2,511.6L1449.7,511.6L1451.2,511.6L1452.7,511.6L1454.2,511.6L1455.7,511.6L1457.2,511.6L1458.7,511.6L1460.2,511.6L1461.7,511.6L1463.2,511.6L1464.0,511.6" stroke="#008000" stroke-opacity="0.5" stroke-width="2.30" fill="none" stroke-linejoin="round" stroke-linecap="butt"/><path d="M908.5,512.0V505.0 M908.5,38.0V45.0 M995.6,512.0V505.0 M995.6,38.0V45.0 M1082.8,512.0V505.0 M1082.8,38.0V45.0 M1169.9,512.0V505.0 M1169.9,38.0V45.0 M1257.1,512.0V505.0 M1257.1,38.0V45.0 M1344.2,512.0V505.0 M1344.2,38.0V45.0 M1431.4,512.0V505.0 M1431.4,38.0V45.0 M1518.5,512.0V505.0 M1518.5,38.0V45.0 M908.8,512.4H915.8 M1520.8,512.4H1513.8 M908.8,456.8H915.8 M1520.8,456.8H1513.8 M908.8,401.2H915.8 M1520.8,401.2H1513.8 M908.8,345.5H915.8 M1520.8,345.5H1513.8 M908.8,289.9H915.8 M1520.8,289.9H1513.8 M908.8,234.3H915.8 M1520.8,234.3H1513.8 M908.8,178.7H915.8 M1520.8,178.7H1513.8 M908.8,123.0H915.8 M1520.8,123.0H1513.8 M908.8,67.4H915.8 M1520.8,67.4H1513.8" stroke="#8a8a8a" stroke-width="2.20" fill="none"/><rect x="908.8" y="38.0" width="612.0" height="474.0" fill="none" stroke="#8a8a8a" stroke-width="2.20"/><text x="908.0" y="542.7" font-size="27.0" text-anchor="middle" textLength="15.8" lengthAdjust="spacingAndGlyphs">0</text><text x="995.1" y="542.7" font-size="27.0" text-anchor="middle" textLength="31.5" lengthAdjust="spacingAndGlyphs">20</text><text x="1082.3" y="542.7" font-size="27.0" text-anchor="middle" textLength="31.5" lengthAdjust="spacingAndGlyphs">40</text><text x="1169.4" y="542.7" font-size="27.0" text-anchor="middle" textLength="31.5" lengthAdjust="spacingAndGlyphs">60</text><text x="1256.6" y="542.7" font-size="27.0" text-anchor="middle" textLength="31.5" lengthAdjust="spacingAndGlyphs">80</text><text x="1343.7" y="542.7" font-size="27.0" text-anchor="middle" textLength="47.3" lengthAdjust="spacingAndGlyphs">100</text><text x="1430.9" y="542.7" font-size="27.0" text-anchor="middle" textLength="47.3" lengthAdjust="spacingAndGlyphs">120</text><text x="1518.0" y="542.7" font-size="27.0" text-anchor="middle" textLength="47.3" lengthAdjust="spacingAndGlyphs">140</text><text x="897.0" y="518.7" font-size="27.0" text-anchor="end" textLength="55.2" lengthAdjust="spacingAndGlyphs">0.00</text><text x="897.0" y="463.5" font-size="27.0" text-anchor="end" textLength="55.2" lengthAdjust="spacingAndGlyphs">0.05</text><text x="897.0" y="408.3" font-size="27.0" text-anchor="end" textLength="55.2" lengthAdjust="spacingAndGlyphs">0.10</text><text x="897.0" y="353.2" font-size="27.0" text-anchor="end" textLength="55.2" lengthAdjust="spacingAndGlyphs">0.15</text><text x="897.0" y="298.0" font-size="27.0" text-anchor="end" textLength="55.2" lengthAdjust="spacingAndGlyphs">0.20</text><text x="897.0" y="242.8" font-size="27.0" text-anchor="end" textLength="55.2" lengthAdjust="spacingAndGlyphs">0.25</text><text x="897.0" y="187.7" font-size="27.0" text-anchor="end" textLength="55.2" lengthAdjust="spacingAndGlyphs">0.30</text><text x="897.0" y="132.5" font-size="27.0" text-anchor="end" textLength="55.2" lengthAdjust="spacingAndGlyphs">0.35</text><text x="897.0" y="77.3" font-size="27.0" text-anchor="end" textLength="55.2" lengthAdjust="spacingAndGlyphs">0.40</text><text x="1128.2" y="23.0" font-size="29.5" text-anchor="start" textLength="170.1" lengthAdjust="spacingAndGlyphs">Optic chiasm</text><text x="1148.2" y="574.7" font-size="27.0" text-anchor="start" textLength="136.0" lengthAdjust="spacingAndGlyphs">Dose (cGy)</text><g transform="translate(820.5,355.0) rotate(-90)"><text x="-0.1" y="0.0" font-size="28.5" text-anchor="start" textLength="167.4" lengthAdjust="spacingAndGlyphs">Volume (cc3)</text></g><rect x="1295.5" y="48.0" width="215.8" height="62.0" fill="#fff" stroke="#8a8a8a" stroke-width="2.40"/><path d="M1307.5,62.9H1338.3" stroke="#0000ff" stroke-opacity="0.5" stroke-width="2.4"/><path d="M1307.5,91.9H1338.3" stroke="#008000" stroke-opacity="0.5" stroke-width="3.0"/><text x="1350.4" y="71.4" font-size="24.5" text-anchor="start" textLength="72.6" lengthAdjust="spacingAndGlyphs">TMR10</text><text x="1350.2" y="100.2" font-size="24.5" text-anchor="start" textLength="143.5" lengthAdjust="spacingAndGlyphs">Convolution</text></g>
<g><path d="M247.3,651.3V1125.5 M363.6,651.3V1125.5 M479.9,651.3V1125.5 M596.2,651.3V1125.5 M712.5,651.3V1125.5 M131.0,1058.6H743.8 M131.0,991.5H743.8 M131.0,924.4H743.8 M131.0,857.2H743.8 M131.0,790.1H743.8 M131.0,723.0H743.8 M131.0,655.9H743.8" stroke="#c6c6c6" stroke-width="1.30" stroke-dasharray="2.2 3.3" fill="none"/><path d="M131.0,694.3L132.5,693.9L134.0,693.6L135.5,693.2L137.0,692.9L138.5,692.5L140.0,692.2L141.5,691.8L143.0,691.5L144.5,691.1L146.0,690.8L147.5,690.4L149.0,690.1L150.5,689.7L152.0,689.4L153.5,689.0L155.0,688.7L156.5,688.3L158.0,688.0L159.5,687.6L161.0,687.3L162.5,686.9L164.0,686.6L165.5,686.3L167.0,685.9L168.5,685.6L170.0,685.3L171.5,684.9L173.0,684.6L174.5,684.3L176.0,683.9L177.5,683.6L179.0,683.3L180.5,683.0L182.0,682.6L183.5,682.3L185.0,682.0L186.5,681.7L188.0,681.4L189.5,681.1L191.0,680.8L192.5,680.5L194.0,680.2L195.5,679.9L197.0,679.6L198.5,679.3L200.0,679.0L201.5,678.7L203.0,678.4L204.5,678.1L206.0,677.8L207.5,677.5L209.0,677.3L210.5,677.0L212.0,676.7L213.5,676.5L215.0,676.2L216.5,675.9L218.0,675.7L219.5,675.4L221.0,675.2L222.5,674.9L224.0,674.7L225.5,674.4L227.0,674.2L228.5,674.0L230.0,673.7L231.5,673.5L233.0,673.3L234.5,673.1L236.0,672.9L237.5,672.7L239.0,672.5L240.5,672.3L242.0,672.1L243.5,671.9L245.0,671.7L246.5,671.5L248.0,671.3L249.5,671.1L251.0,671.0L252.5,670.8L254.0,670.6L255.5,670.5L257.0,670.3L258.5,670.2L260.0,670.1L261.5,669.9L263.0,669.8L264.5,669.7L266.0,669.5L267.5,669.4L269.0,669.3L270.5,669.2L272.0,669.1L273.5,669.0L275.0,668.9L276.5,668.8L278.0,668.8L279.5,668.7L281.0,668.6L282.5,668.6L284.0,668.5L285.5,668.5L287.0,668.4L288.5,668.4L290.0,668.4L291.5,668.3L293.0,668.3L294.5,668.3L296.0,668.3L297.5,668.3L299.0,668.3L300.5,668.3L302.0,668.4L303.5,668.4L305.0,668.4L306.5,668.5L308.0,668.5L309.5,668.6L311.0,668.6L312.5,668.7L314.0,668.8L315.5,668.8L317.0,668.9L318.5,669.0L320.0,669.1L321.5,669.3L323.0,669.4L324.5,669.5L326.0,669.6L327.5,669.8L329.0,669.9L330.5,670.1L332.0,670.2L333.5,670.4L335.0,670.6L336.5,670.8L338.0,671.0L339.5,671.2L341.0,671.4L342.5,671.6L344.0,671.9L345.5,672.1L347.0,672.3L348.5,672.6L350.0,672.8L351.5,673.1L353.0,673.4L354.5,673.7L356.0,674.0L357.5,674.3L359.0,674.6L360.5,674.9L362.0,675.3L363.5,675.6L365.0,675.9L366.5,676.3L368.0,676.7L369.5,677.1L371.0,677.4L372.5,677.8L374.0,678.2L375.5,678.7L377.0,679.1L378.5,679.5L380.0,680.0L381.5,680.4L383.0,680.9L384.5,681.3L386.0,681.8L387.5,682.3L389.0,682.8L390.5,683.3L392.0,683.9L393.5,684.4L395.0,684.9L396.5,685.5L398.0,686.0L399.5,686.6L400.9,687.2L402.3,687.7L403.7,688.3L405.1,688.9L406.5,689.4L407.9,690.0L409.3,690.6L410.7,691.2L412.1,691.9L413.5,692.5L414.9,693.1L416.3,693.8L417.7,694.5L419.1,695.2L420.5,696.0L421.8,696.8L423.1,697.7L424.4,698.6L425.6,699.5L426.8,700.5L428.0,701.6L429.1,702.6L430.2,703.8L431.3,704.9L432.3,706.1L433.3,707.3L434.3,708.5L435.2,709.7L436.1,711.0L437.0,712.3L437.9,713.7L438.7,715.0L439.5,716.3L440.3,717.7L441.1,719.1L441.9,720.5L442.6,721.9L443.3,723.2L444.0,724.7L444.7,726.1L445.4,727.6L446.1,729.1L446.8,730.7L447.4,732.1L448.0,733.5L448.6,735.0L449.2,736.5L449.8,738.0L450.4,739.5L451.0,741.1L451.6,742.7L452.2,744.4L452.8,746.1L453.3,747.5L453.8,748.9L454.3,750.4L454.8,751.9L455.3,753.4L455.8,754.9L456.3,756.5L456.8,758.0L457.3,759.6L457.8,761.2L458.3,762.9L458.8,764.5L459.3,766.2L459.8,767.9L460.3,769.6L460.8,771.4L461.3,773.1L461.8,774.9L462.3,776.7L462.7,778.1L463.1,779.6L463.5,781.1L463.9,782.5L464.3,784.0L464.7,785.5L465.1,787.1L465.5,788.6L465.9,790.1L466.3,791.7L466.7,793.2L467.1,794.8L467.5,796.3L467.9,797.9L468.3,799.5L468.7,801.1L469.1,802.7L469.5,804.3L469.9,805.9L470.3,807.5L470.7,809.2L471.1,810.8L471.5,812.4L471.9,814.1L472.3,815.7L472.7,817.4L473.1,819.0L473.5,820.7L473.9,822.3L474.3,824.0L474.7,825.7L475.1,827.4L475.5,829.0L475.9,830.7L476.3,832.4L476.7,834.1L477.1,835.8L477.5,837.5L477.9,839.2L478.3,840.9L478.7,842.6L479.1,844.2L479.5,845.9L479.9,847.6L480.3,849.3L480.7,851.0L481.1,852.7L481.5,854.4L481.9,856.1L482.3,857.8L482.7,859.5L483.1,861.2L483.5,862.9L483.9,864.6L484.3,866.3L484.7,868.0L485.1,869.7L485.5,871.4L485.9,873.1L486.3,874.8L486.7,876.5L487.1,878.2L487.5,879.9L487.9,881.6L488.3,883.3L488.7,885.0L489.1,886.7L489.5,888.4L489.9,890.1L490.3,891.8L490.7,893.6L491.1,895.3L491.5,897.0L491.9,898.7L492.3,900.4L492.7,902.1L493.1,903.8L493.5,905.5L493.9,907.3L494.3,909.0L494.7,910.7L495.1,912.4L495.5,914.2L495.9,915.9L496.3,917.6L496.7,919.4L497.1,921.1L497.5,922.8L497.9,924.6L498.3,926.3L498.7,928.1L499.1,929.9L499.5,931.6L499.9,933.4L500.3,935.2L500.7,937.0L501.1,938.8L501.5,940.5L501.9,942.3L502.3,944.1L502.7,946.0L503.1,947.8L503.5,949.6L503.9,951.4L504.3,953.3L504.7,955.1L505.1,957.0L505.5,958.8L505.9,960.7L506.3,962.6L506.7,964.4L507.1,966.3L507.5,968.2L507.9,970.1L508.3,972.0L508.7,973.9L509.1,975.8L509.5,977.7L509.9,979.6L510.3,981.5L510.7,983.4L511.1,985.4L511.5,987.3L511.9,989.2L512.3,991.2L512.7,993.1L513.1,995.0L513.5,997.0L513.9,998.9L514.3,1000.8L514.7,1002.8L515.1,1004.7L515.5,1006.7L515.9,1008.6L516.3,1010.6L516.7,1012.5L517.1,1014.4L517.5,1016.4L517.9,1018.3L518.3,1020.2L518.7,1022.2L519.1,1024.1L519.5,1026.0L519.9,1027.9L520.3,1029.9L520.7,1031.8L521.1,1033.7L521.5,1035.6L521.9,1037.5L522.3,1039.3L522.7,1041.2L523.1,1043.1L523.5,1044.9L523.9,1046.8L524.3,1048.6L524.7,1050.5L525.1,1052.3L525.5,1054.1L525.9,1055.9L526.3,1057.7L526.7,1059.4L527.1,1061.2L527.5,1062.9L527.9,1064.7L528.3,1066.4L528.7,1068.1L529.1,1069.8L529.5,1071.4L529.9,1073.1L530.3,1074.7L530.7,1076.3L531.1,1077.9L531.5,1079.5L531.9,1081.1L532.3,1082.6L532.7,1084.1L533.1,1085.6L533.5,1087.1L533.9,1088.6L534.3,1090.0L534.8,1091.8L535.3,1093.6L535.8,1095.3L536.3,1097.0L536.8,1098.7L537.3,1100.3L537.8,1101.9L538.3,1103.5L538.8,1105.0L539.3,1106.6L539.8,1108.1L540.3,1109.5L540.8,1111.0L541.3,1112.4L541.9,1114.1L542.5,1115.7L543.1,1117.3L543.7,1118.9L544.3,1120.5L544.9,1122.0L545.5,1123.5L546.1,1125.0L546.7,1126.4L547.3,1127.8L547.9,1129.2L548.5,1130.6L549.2,1132.2L549.9,1133.8L550.6,1135.4L551.3,1136.9L552.0,1138.4L552.7,1139.9L553.4,1141.3L554.1,1142.7L554.8,1144.2L555.5,1145.5L556.2,1146.9L556.9,1148.2L557.7,1149.7L558.5,1151.2L559.3,1152.6L560.1,1154.0L560.9,1155.4L561.7,1156.8L562.5,1158.1L563.3,1159.4L564.2,1160.8L565.1,1162.2L566.0,1163.5L566.9,1164.9L567.8,1166.1L568.7,1167.4L569.6,1168.6L570.6,1169.9L571.6,1171.1L572.6,1172.4L573.6,1173.5L574.6,1174.7L575.7,1175.9L576.8,1177.0L577.9,1178.1L579.0,1179.2L580.2,1180.3L581.4,1181.3L582.6,1182.3L583.8,1183.3L585.1,1184.2L586.4,1185.1L587.7,1185.9L589.0,1186.7L590.4,1187.4L591.8,1188.1L593.2,1188.7L594.6,1189.3L596.1,1189.8L597.6,1190.3L599.1,1190.6L600.6,1190.9L602.1,1191.2L603.6,1191.3L605.1,1191.4L606.6,1191.4L608.1,1191.4L609.6,1191.3L611.1,1191.1L612.6,1190.9L614.1,1190.6L615.6,1190.2L617.1,1189.8L618.6,1189.3L620.1,1188.8L621.5,1188.3L622.9,1187.7L624.3,1187.1L625.7,1186.4L627.1,1185.7L628.5,1184.9L629.8,1184.1L631.1,1183.4L632.4,1182.5L633.7,1181.7L635.0,1180.8L636.3,1179.9L637.6,1178.9L638.8,1178.0L640.0,1177.1L641.2,1176.1L642.4,1175.2L643.6,1174.2L644.8,1173.1L646.0,1172.1L647.2,1171.0L648.4,1169.9L649.6,1168.8L650.7,1167.8L651.8,1166.7L652.9,1165.7L654.0,1164.6L655.1,1163.5L656.2,1162.4L657.3,1161.2L658.4,1160.1L659.5,1158.9L660.6,1157.8L661.7,1156.6L662.8,1155.4L663.9,1154.2L665.0,1153.0L666.1,1151.8L667.1,1150.6L668.1,1149.5L669.1,1148.4L670.1,1147.2L671.1,1146.1L672.1,1144.9L673.1,1143.8L674.1,1142.6L675.1,1141.4L676.1,1140.3L677.1,1139.1L678.1,1137.9L679.1,1136.7L680.1,1135.5L681.1,1134.3L682.1,1133.1L683.1,1131.9L684.1,1130.7L685.1,1129.5L686.1,1128.3L687.1,1127.1L688.1,1125.9L688.4,1125.6" stroke="#0000ff" stroke-opacity="0.5" stroke-width="2.30" fill="none" stroke-linejoin="round" stroke-linecap="butt"/><path d="M131.0,694.3L132.5,694.0L134.0,693.8L135.5,693.6L137.0,693.3L138.5,693.1L140.0,692.8L141.5,692.6L143.0,692.4L144.5,692.1L146.0,691.9L147.5,691.6L149.0,691.4L150.5,691.2L152.0,690.9L153.5,690.7L155.0,690.4L156.5,690.2L158.0,690.0L159.5,689.7L161.0,689.5L162.5,689.3L164.0,689.0L165.5,688.8L167.0,688.6L168.5,688.3L170.0,688.1L171.5,687.9L173.0,687.7L174.5,687.4L176.0,687.2L177.5,687.0L179.0,686.8L180.5,686.6L182.0,686.3L183.5,686.1L185.0,685.9L186.5,685.7L188.0,685.5L189.5,685.3L191.0,685.1L192.5,684.9L194.0,684.7L195.5,684.5L197.0,684.3L198.5,684.1L200.0,683.9L201.5,683.7L203.0,683.5L204.5,683.3L206.0,683.1L207.5,682.9L209.0,682.8L210.5,682.6L212.0,682.4L213.5,682.2L215.0,682.0L216.5,681.9L218.0,681.7L219.5,681.5L221.0,681.4L222.5,681.2L224.0,681.1L225.5,680.9L227.0,680.8L228.5,680.6L230.0,680.5L231.5,680.3L233.0,680.2L234.5,680.1L236.0,679.9L237.5,679.8L239.0,679.7L240.5,679.5L242.0,679.4L243.5,679.3L245.0,679.2L246.5,679.1L248.0,679.0L249.5,678.9L251.0,678.8L252.5,678.7L254.0,678.6L255.5,678.5L257.0,678.4L258.5,678.3L260.0,678.3L261.5,678.2L263.0,678.1L264.5,678.1L266.0,678.0L267.5,677.9L269.0,677.9L270.5,677.8L272.0,677.8L273.5,677.8L275.0,677.7L276.5,677.7L278.0,677.7L279.5,677.6L281.0,677.6L282.5,677.6L284.0,677.6L285.5,677.6L287.0,677.6L288.5,677.6L290.0,677.6L291.5,677.6L293.0,677.7L294.5,677.7L296.0,677.7L297.5,677.7L299.0,677.8L300.5,677.8L302.0,677.9L303.5,677.9L305.0,678.0L306.5,678.1L308.0,678.1L309.5,678.2L311.0,678.3L312.5,678.4L314.0,678.5L315.5,678.6L317.0,678.7L318.5,678.8L320.0,678.9L321.5,679.0L323.0,679.2L324.5,679.3L326.0,679.4L327.5,679.6L329.0,679.7L330.5,679.9L332.0,680.0L333.5,680.2L335.0,680.4L336.5,680.6L338.0,680.8L339.5,680.9L341.0,681.1L342.5,681.4L344.0,681.6L345.5,681.8L347.0,682.0L348.5,682.2L350.0,682.5L351.5,682.7L353.0,683.0L354.5,683.2L356.0,683.5L357.5,683.8L359.0,684.1L360.5,684.3L362.0,684.6L363.5,684.9L365.0,685.2L366.5,685.6L368.0,685.9L369.5,686.2L371.0,686.5L372.5,686.9L374.0,687.2L375.5,687.6L377.0,688.0L378.5,688.3L380.0,688.7L381.5,689.1L383.0,689.5L384.5,689.9L386.0,690.3L387.5,690.7L389.0,691.2L390.5,691.6L392.0,692.0L393.5,692.5L395.0,693.0L396.5,693.4L398.0,694.0L399.5,694.5L400.9,695.1L402.3,695.8L403.7,696.5L405.1,697.2L406.4,698.0L407.7,698.9L409.0,699.9L410.2,700.9L411.4,701.9L412.5,703.0L413.6,704.1L414.7,705.4L415.7,706.6L416.7,707.8L417.6,709.1L418.5,710.3L419.4,711.7L420.2,713.0L421.0,714.3L421.8,715.7L422.6,717.1L423.4,718.7L424.1,720.0L424.8,721.5L425.5,723.0L426.2,724.5L426.9,726.1L427.5,727.5L428.1,728.9L428.7,730.4L429.3,731.9L429.9,733.5L430.5,735.1L431.1,736.8L431.7,738.4L432.2,739.9L432.7,741.3L433.2,742.8L433.7,744.3L434.2,745.9L434.7,747.4L435.2,749.0L435.7,750.7L436.2,752.3L436.7,754.0L437.2,755.7L437.7,757.4L438.2,759.1L438.7,760.9L439.2,762.7L439.7,764.5L440.1,765.9L440.5,767.4L440.9,768.9L441.3,770.4L441.7,771.9L442.1,773.4L442.5,774.9L442.9,776.4L443.3,778.0L443.7,779.5L444.1,781.1L444.5,782.6L444.9,784.2L445.3,785.8L445.7,787.3L446.1,788.9L446.5,790.5L446.9,792.1L447.3,793.7L447.7,795.3L448.1,796.9L448.5,798.5L448.9,800.1L449.3,801.7L449.7,803.3L450.1,805.0L450.5,806.6L450.9,808.2L451.3,809.8L451.7,811.4L452.1,813.1L452.5,814.7L452.9,816.3L453.3,818.0L453.7,819.6L454.1,821.2L454.5,822.9L454.9,824.5L455.3,826.1L455.7,827.8L456.1,829.4L456.5,831.0L456.9,832.7L457.3,834.3L457.7,835.9L458.1,837.6L458.5,839.2L458.9,840.9L459.3,842.5L459.7,844.1L460.1,845.8L460.5,847.4L460.9,849.1L461.3,850.7L461.7,852.4L462.1,854.0L462.5,855.6L462.9,857.3L463.3,858.9L463.7,860.6L464.1,862.2L464.5,863.9L464.9,865.6L465.3,867.2L465.7,868.9L466.1,870.5L466.5,872.2L466.9,873.9L467.3,875.5L467.7,877.2L468.1,878.9L468.5,880.5L468.9,882.2L469.3,883.9L469.7,885.6L470.1,887.3L470.5,889.0L470.9,890.7L471.3,892.4L471.7,894.1L472.1,895.8L472.5,897.5L472.9,899.2L473.3,901.0L473.7,902.7L474.1,904.4L474.5,906.2L474.9,907.9L475.3,909.7L475.7,911.4L476.1,913.2L476.5,915.0L476.9,916.8L477.3,918.6L477.7,920.4L478.1,922.2L478.5,924.0L478.9,925.8L479.3,927.6L479.7,929.4L480.1,931.3L480.5,933.1L480.9,935.0L481.3,936.9L481.7,938.7L482.1,940.6L482.5,942.5L482.9,944.4L483.3,946.3L483.7,948.2L484.1,950.2L484.5,952.1L484.9,954.0L485.3,956.0L485.7,957.9L486.1,959.9L486.4,961.4L486.7,962.8L487.0,964.3L487.3,965.8L487.6,967.3L487.9,968.8L488.2,970.3L488.5,971.8L488.8,973.3L489.1,974.8L489.4,976.3L489.7,977.8L490.0,979.3L490.3,980.8L490.6,982.3L490.9,983.8L491.2,985.3L491.5,986.8L491.8,988.3L492.1,989.8L492.4,991.3L492.7,992.9L493.0,994.4L493.3,995.9L493.6,997.4L493.9,998.9L494.2,1000.4L494.5,1001.9L494.8,1003.4L495.1,1004.9L495.4,1006.4L495.7,1008.0L496.0,1009.5L496.3,1011.0L496.6,1012.5L496.9,1013.9L497.2,1015.4L497.5,1016.9L497.8,1018.4L498.1,1019.9L498.4,1021.4L498.7,1022.8L499.1,1024.8L499.5,1026.7L499.9,1028.7L500.3,1030.6L500.7,1032.5L501.1,1034.4L501.5,1036.3L501.9,1038.2L502.3,1040.1L502.7,1042.0L503.1,1043.8L503.5,1045.6L503.9,1047.5L504.3,1049.3L504.7,1051.1L505.1,1052.8L505.5,1054.6L505.9,1056.3L506.3,1058.0L506.7,1059.8L507.1,1061.4L507.5,1063.1L507.9,1064.8L508.3,1066.4L508.7,1068.0L509.1,1069.6L509.5,1071.2L509.9,1072.7L510.3,1074.3L510.7,1075.8L511.1,1077.3L511.5,1078.8L511.9,1080.2L512.4,1082.0L512.9,1083.8L513.4,1085.5L513.9,1087.2L514.4,1088.9L514.9,1090.5L515.4,1092.1L515.9,1093.7L516.4,1095.2L516.9,1096.7L517.4,1098.2L517.9,1099.7L518.4,1101.1L519.0,1102.8L519.6,1104.4L520.2,1106.0L520.8,1107.6L521.4,1109.1L522.0,1110.6L522.6,1112.1L523.2,1113.5L523.8,1114.9L524.4,1116.3L525.1,1117.8L525.8,1119.4L526.5,1120.9L527.2,1122.3L527.9,1123.8L528.6,1125.2L529.3,1126.6L530.0,1128.0L530.7,1129.3L531.4,1130.7L532.2,1132.2L533.0,1133.7L533.8,1135.1L534.6,1136.6L535.4,1138.0L536.2,1139.4L537.0,1140.7L537.8,1142.1L538.6,1143.4L539.4,1144.7L540.2,1146.0L541.1,1147.4L542.0,1148.7L542.9,1150.1L543.8,1151.4L544.7,1152.7L545.6,1154.0L546.5,1155.2L547.4,1156.4L548.4,1157.8L549.4,1159.1L550.4,1160.3L551.4,1161.5L552.4,1162.7L553.4,1163.9L554.4,1165.0L555.5,1166.2L556.6,1167.4L557.7,1168.5L558.8,1169.6L559.9,1170.6L561.1,1171.7L562.3,1172.8L563.5,1173.8L564.7,1174.8L565.9,1175.7L567.2,1176.7L568.5,1177.6L569.8,1178.5L571.1,1179.3L572.4,1180.1L573.8,1180.9L575.2,1181.6L576.6,1182.3L578.0,1182.9L579.4,1183.5L580.9,1184.1L582.4,1184.6L583.9,1185.1L585.4,1185.5L586.9,1185.8L588.4,1186.1L589.9,1186.3L591.4,1186.5L592.9,1186.6L594.4,1186.7L595.9,1186.8L597.4,1186.8L598.9,1186.7L600.4,1186.6L601.9,1186.4L603.4,1186.2L604.9,1186.0L606.4,1185.7L607.9,1185.4L609.4,1185.0L610.9,1184.6L612.4,1184.1L613.9,1183.6L615.4,1183.1L616.9,1182.5L618.3,1181.9L619.7,1181.3L621.1,1180.7L622.5,1180.0L623.9,1179.3L625.3,1178.6L626.7,1177.8L628.1,1177.0L629.4,1176.3L630.7,1175.5L632.0,1174.7L633.3,1173.9L634.6,1173.0L635.9,1172.2L637.2,1171.3L638.5,1170.4L639.8,1169.4L641.1,1168.5L642.4,1167.5L643.6,1166.6L644.8,1165.7L646.0,1164.8L647.2,1163.8L648.4,1162.8L649.6,1161.9L650.8,1160.9L652.0,1159.9L653.2,1158.9L654.4,1157.8L655.6,1156.8L656.8,1155.7L658.0,1154.7L659.2,1153.6L660.4,1152.5L661.6,1151.4L662.8,1150.3L664.0,1149.2L665.1,1148.2L666.2,1147.2L667.3,1146.1L668.4,1145.1L669.5,1144.0L670.6,1143.0L671.7,1141.9L672.8,1140.9L673.9,1139.8L675.0,1138.7L676.1,1137.6L677.2,1136.6L678.3,1135.5L679.4,1134.4L680.5,1133.3L681.6,1132.2L682.7,1131.1L683.8,1130.0L684.9,1128.9L686.0,1127.8L687.1,1126.7L688.2,1125.6L688.4,1125.4" stroke="#008000" stroke-opacity="0.5" stroke-width="2.30" fill="none" stroke-linejoin="round" stroke-linecap="butt"/><path d="M131.0,1125.5V1118.5 M131.0,651.3V658.3 M247.3,1125.5V1118.5 M247.3,651.3V658.3 M363.6,1125.5V1118.5 M363.6,651.3V658.3 M479.9,1125.5V1118.5 M479.9,651.3V658.3 M596.2,1125.5V1118.5 M596.2,651.3V658.3 M712.5,1125.5V1118.5 M712.5,651.3V658.3 M131.0,1125.7H138.0 M743.8,1125.7H736.8 M131.0,1058.6H138.0 M743.8,1058.6H736.8 M131.0,991.5H138.0 M743.8,991.5H736.8 M131.0,924.4H138.0 M743.8,924.4H736.8 M131.0,857.2H138.0 M743.8,857.2H736.8 M131.0,790.1H138.0 M743.8,790.1H736.8 M131.0,723.0H138.0 M743.8,723.0H736.8 M131.0,655.9H138.0 M743.8,655.9H736.8" stroke="#8a8a8a" stroke-width="2.20" fill="none"/><rect x="131.0" y="651.3" width="612.8" height="474.2" fill="none" stroke="#8a8a8a" stroke-width="2.20"/><text x="130.5" y="1157.5" font-size="27.0" text-anchor="middle" textLength="15.8" lengthAdjust="spacingAndGlyphs">0</text><text x="246.8" y="1157.5" font-size="27.0" text-anchor="middle" textLength="31.5" lengthAdjust="spacingAndGlyphs">20</text><text x="363.1" y="1157.5" font-size="27.0" text-anchor="middle" textLength="31.5" lengthAdjust="spacingAndGlyphs">40</text><text x="479.4" y="1157.5" font-size="27.0" text-anchor="middle" textLength="31.5" lengthAdjust="spacingAndGlyphs">60</text><text x="595.7" y="1157.5" font-size="27.0" text-anchor="middle" textLength="31.5" lengthAdjust="spacingAndGlyphs">80</text><text x="712.0" y="1157.5" font-size="27.0" text-anchor="middle" textLength="47.3" lengthAdjust="spacingAndGlyphs">100</text><text x="123.2" y="1132.3" font-size="27.0" text-anchor="end" textLength="70.9" lengthAdjust="spacingAndGlyphs">0.000</text><text x="123.2" y="1065.2" font-size="27.0" text-anchor="end" textLength="70.9" lengthAdjust="spacingAndGlyphs">0.005</text><text x="123.2" y="998.1" font-size="27.0" text-anchor="end" textLength="70.9" lengthAdjust="spacingAndGlyphs">0.010</text><text x="123.2" y="931.0" font-size="27.0" text-anchor="end" textLength="70.9" lengthAdjust="spacingAndGlyphs">0.015</text><text x="123.2" y="863.8" font-size="27.0" text-anchor="end" textLength="70.9" lengthAdjust="spacingAndGlyphs">0.020</text><text x="123.2" y="796.7" font-size="27.0" text-anchor="end" textLength="70.9" lengthAdjust="spacingAndGlyphs">0.025</text><text x="123.2" y="729.6" font-size="27.0" text-anchor="end" textLength="70.9" lengthAdjust="spacingAndGlyphs">0.030</text><text x="123.2" y="662.5" font-size="27.0" text-anchor="end" textLength="70.9" lengthAdjust="spacingAndGlyphs">0.035</text><text x="351.5" y="644.7" font-size="31.8" text-anchor="start" textLength="169.3" lengthAdjust="spacingAndGlyphs">Left cochlea</text><text x="363.6" y="1190.0" font-size="28.5" text-anchor="start" textLength="146.8" lengthAdjust="spacingAndGlyphs">Dose (cGy)</text><g transform="translate(33.3,971.0) rotate(-90)"><text x="-0.1" y="0.0" font-size="28.5" text-anchor="start" textLength="167.4" lengthAdjust="spacingAndGlyphs">Volume (cc3)</text></g><rect x="519.4" y="661.5" width="214.3" height="63.1" fill="#fff" stroke="#8a8a8a" stroke-width="2.40"/><path d="M531.4,676.4H562.2" stroke="#0000ff" stroke-opacity="0.5" stroke-width="2.4"/><path d="M531.4,705.4H562.2" stroke="#008000" stroke-opacity="0.5" stroke-width="3.0"/><text x="574.3" y="684.9" font-size="24.5" text-anchor="start" textLength="72.6" lengthAdjust="spacingAndGlyphs">TMR10</text><text x="574.1" y="713.7" font-size="24.5" text-anchor="start" textLength="143.5" lengthAdjust="spacingAndGlyphs">Convolution</text></g>
<g><path d="M977.8,651.0V1126.2 M1047.8,651.0V1126.2 M1117.7,651.0V1126.2 M1187.7,651.0V1126.2 M1257.7,651.0V1126.2 M1327.6,651.0V1126.2 M1397.6,651.0V1126.2 M1467.6,651.0V1126.2 M908.2,1047.0H1520.9 M908.2,968.5H1520.9 M908.2,890.0H1520.9 M908.2,811.5H1520.9 M908.2,733.0H1520.9 M908.2,654.5H1520.9" stroke="#c6c6c6" stroke-width="1.30" stroke-dasharray="2.2 3.3" fill="none"/><path d="M907.8,694.5L909.3,694.4L910.8,694.3L912.3,694.3L913.8,694.2L915.3,694.1L916.8,694.0L918.3,693.9L919.8,693.9L921.3,693.8L922.8,693.7L924.3,693.6L925.8,693.5L927.3,693.5L928.8,693.4L930.3,693.3L931.8,693.2L933.3,693.1L934.8,693.1L936.3,693.0L937.8,692.9L939.3,692.8L940.8,692.8L942.3,692.7L943.8,692.6L945.3,692.5L946.8,692.4L948.3,692.4L949.8,692.3L951.3,692.2L952.8,692.1L954.3,692.1L955.8,692.0L957.3,691.9L958.8,691.8L960.3,691.8L961.8,691.7L963.3,691.6L964.8,691.5L966.3,691.5L967.8,691.4L969.3,691.3L970.8,691.2L972.3,691.2L973.8,691.1L975.3,691.0L976.8,691.0L978.3,690.9L979.8,690.8L981.3,690.7L982.8,690.7L984.3,690.6L985.8,690.5L987.3,690.5L988.8,690.4L990.3,690.3L991.8,690.3L993.3,690.2L994.8,690.1L996.3,690.1L997.8,690.0L999.3,689.9L1000.8,689.9L1002.3,689.8L1003.8,689.8L1005.3,689.7L1006.8,689.6L1008.3,689.6L1009.8,689.5L1011.3,689.4L1012.8,689.4L1014.3,689.3L1015.8,689.3L1017.3,689.2L1018.8,689.2L1020.3,689.1L1021.8,689.0L1023.3,689.0L1024.8,688.9L1026.3,688.9L1027.8,688.8L1029.3,688.8L1030.8,688.7L1032.3,688.7L1033.8,688.6L1035.3,688.6L1036.8,688.5L1038.3,688.5L1039.8,688.4L1041.3,688.4L1042.8,688.3L1044.3,688.3L1045.8,688.3L1047.3,688.2L1048.8,688.2L1050.3,688.1L1051.8,688.1L1053.3,688.0L1054.8,688.0L1056.3,688.0L1057.8,687.9L1059.3,687.9L1060.8,687.9L1062.3,687.8L1063.8,687.8L1065.3,687.8L1066.8,687.7L1068.3,687.7L1069.8,687.7L1071.3,687.6L1072.8,687.6L1074.3,687.6L1075.8,687.5L1077.3,687.5L1078.8,687.5L1080.3,687.5L1081.8,687.5L1083.3,687.4L1084.8,687.4L1086.3,687.4L1087.8,687.4L1089.3,687.4L1090.8,687.3L1092.3,687.3L1093.8,687.3L1095.3,687.3L1096.8,687.3L1098.3,687.3L1099.8,687.3L1101.3,687.3L1102.8,687.2L1104.3,687.2L1105.8,687.2L1107.3,687.2L1108.8,687.2L1110.3,687.2L1111.8,687.2L1113.3,687.2L1114.8,687.2L1116.3,687.2L1117.8,687.2L1119.3,687.2L1120.8,687.2L1122.3,687.2L1123.8,687.3L1125.3,687.3L1126.8,687.3L1128.3,687.3L1129.8,687.3L1131.3,687.3L1132.8,687.3L1134.3,687.4L1135.8,687.4L1137.3,687.4L1138.8,687.4L1140.3,687.4L1141.8,687.5L1143.3,687.5L1144.8,687.5L1146.3,687.5L1147.8,687.6L1149.3,687.6L1150.8,687.6L1152.3,687.7L1153.8,687.7L1155.3,687.7L1156.8,687.8L1158.3,687.8L1159.8,687.9L1161.3,687.9L1162.8,687.9L1164.3,688.0L1165.8,688.0L1167.3,688.1L1168.8,688.1L1170.3,688.2L1171.8,688.2L1173.3,688.3L1174.8,688.3L1176.3,688.4L1177.8,688.5L1179.3,688.5L1180.8,688.6L1182.3,688.6L1183.8,688.7L1185.3,688.8L1186.8,688.8L1188.3,688.9L1189.8,689.0L1191.3,689.1L1192.8,689.1L1194.3,689.2L1195.8,689.3L1197.3,689.4L1198.8,689.4L1200.3,689.5L1201.8,689.6L1203.3,689.7L1204.8,689.8L1206.3,689.9L1207.8,690.0L1209.3,690.1L1210.8,690.2L1212.3,690.2L1213.8,690.3L1215.3,690.4L1216.8,690.5L1218.3,690.7L1219.8,690.8L1221.3,690.9L1222.8,691.0L1224.3,691.1L1225.8,691.2L1227.3,691.3L1228.8,691.4L1230.3,691.5L1231.8,691.7L1233.3,691.8L1234.8,691.9L1236.3,692.0L1237.8,692.2L1239.3,692.3L1240.8,692.4L1242.3,692.6L1243.8,692.7L1245.3,692.8L1246.8,693.0L1248.3,693.1L1249.8,693.2L1251.3,693.4L1252.8,693.5L1254.3,693.7L1255.8,693.8L1257.3,694.0L1258.8,694.1L1260.3,694.3L1261.8,694.5L1263.3,694.6L1264.8,694.8L1266.3,695.0L1267.8,695.2L1269.3,695.4L1270.8,695.6L1272.3,695.9L1273.8,696.1L1275.3,696.4L1276.8,696.7L1278.3,697.0L1279.8,697.3L1281.3,697.7L1282.8,698.1L1284.3,698.5L1285.8,699.0L1287.3,699.5L1288.8,700.0L1290.3,700.6L1291.7,701.1L1293.1,701.7L1294.5,702.4L1295.9,703.1L1297.3,703.8L1298.7,704.6L1300.0,705.3L1301.3,706.1L1302.6,707.0L1303.9,707.9L1305.2,708.8L1306.5,709.7L1307.7,710.6L1308.9,711.6L1310.1,712.5L1311.3,713.5L1312.5,714.6L1313.7,715.6L1314.9,716.7L1316.0,717.8L1317.1,718.8L1318.2,719.9L1319.3,721.0L1320.4,722.2L1321.5,723.3L1322.6,724.5L1323.6,725.7L1324.6,726.8L1325.6,728.0L1326.6,729.2L1327.6,730.5L1328.6,731.8L1329.5,733.0L1330.4,734.3L1331.3,735.6L1332.2,736.9L1333.1,738.3L1334.0,739.7L1334.8,741.0L1335.6,742.4L1336.4,743.7L1337.2,745.1L1338.0,746.6L1338.8,748.1L1339.5,749.4L1340.2,750.8L1340.9,752.2L1341.6,753.7L1342.3,755.1L1343.0,756.6L1343.7,758.2L1344.4,759.8L1345.0,761.2L1345.6,762.6L1346.2,764.0L1346.8,765.5L1347.4,767.0L1348.0,768.5L1348.6,770.1L1349.2,771.6L1349.8,773.2L1350.4,774.9L1351.0,776.5L1351.6,778.2L1352.1,779.7L1352.6,781.1L1353.1,782.6L1353.6,784.1L1354.1,785.6L1354.6,787.2L1355.1,788.7L1355.6,790.3L1356.1,791.9L1356.6,793.5L1357.1,795.2L1357.6,796.8L1358.1,798.5L1358.6,800.2L1359.1,801.9L1359.6,803.6L1360.1,805.4L1360.6,807.2L1361.1,808.9L1361.5,810.4L1361.9,811.9L1362.3,813.3L1362.7,814.8L1363.1,816.3L1363.5,817.8L1363.9,819.3L1364.3,820.8L1364.7,822.4L1365.1,823.9L1365.5,825.5L1365.9,827.1L1366.3,828.6L1366.7,830.2L1367.1,831.8L1367.5,833.4L1367.9,835.1L1368.3,836.7L1368.7,838.3L1369.1,840.0L1369.5,841.6L1369.9,843.3L1370.3,845.0L1370.7,846.6L1371.1,848.3L1371.5,850.0L1371.9,851.7L1372.3,853.5L1372.7,855.2L1373.1,856.9L1373.5,858.7L1373.9,860.4L1374.3,862.2L1374.7,863.9L1375.1,865.7L1375.5,867.5L1375.9,869.2L1376.3,871.0L1376.7,872.8L1377.1,874.6L1377.5,876.4L1377.9,878.3L1378.3,880.1L1378.7,881.9L1379.1,883.7L1379.5,885.6L1379.9,887.4L1380.3,889.3L1380.7,891.1L1381.1,893.0L1381.5,894.9L1381.9,896.8L1382.3,898.6L1382.7,900.5L1383.1,902.4L1383.5,904.3L1383.9,906.2L1384.3,908.1L1384.7,910.0L1385.1,911.9L1385.5,913.8L1385.9,915.8L1386.3,917.7L1386.7,919.6L1387.1,921.6L1387.5,923.5L1387.9,925.5L1388.3,927.4L1388.7,929.4L1389.1,931.3L1389.4,932.8L1389.7,934.3L1390.0,935.7L1390.3,937.2L1390.6,938.7L1390.9,940.2L1391.2,941.6L1391.5,943.1L1391.8,944.6L1392.1,946.1L1392.4,947.6L1392.7,949.1L1393.0,950.6L1393.3,952.0L1393.6,953.5L1393.9,955.0L1394.2,956.5L1394.5,958.0L1394.8,959.5L1395.1,961.0L1395.4,962.5L1395.7,964.0L1396.0,965.5L1396.3,967.0L1396.6,968.4L1396.9,969.9L1397.2,971.4L1397.5,972.9L1397.8,974.4L1398.1,975.9L1398.4,977.4L1398.7,978.9L1399.0,980.4L1399.3,981.9L1399.6,983.3L1399.9,984.8L1400.2,986.3L1400.5,987.8L1400.8,989.3L1401.1,990.7L1401.4,992.2L1401.7,993.7L1402.1,995.6L1402.5,997.6L1402.9,999.5L1403.3,1001.5L1403.7,1003.4L1404.1,1005.3L1404.5,1007.3L1404.9,1009.2L1405.3,1011.1L1405.7,1013.0L1406.1,1014.9L1406.5,1016.8L1406.9,1018.7L1407.3,1020.5L1407.7,1022.4L1408.1,1024.2L1408.5,1026.1L1408.9,1027.9L1409.3,1029.7L1409.7,1031.5L1410.1,1033.3L1410.5,1035.1L1410.9,1036.9L1411.3,1038.6L1411.7,1040.4L1412.1,1042.1L1412.5,1043.8L1412.9,1045.5L1413.3,1047.2L1413.7,1048.9L1414.1,1050.6L1414.5,1052.2L1414.9,1053.8L1415.3,1055.5L1415.7,1057.0L1416.1,1058.6L1416.5,1060.2L1416.9,1061.7L1417.3,1063.3L1417.7,1064.8L1418.1,1066.3L1418.5,1067.7L1418.9,1069.2L1419.4,1071.0L1419.9,1072.8L1420.4,1074.5L1420.9,1076.2L1421.4,1077.9L1421.9,1079.6L1422.4,1081.2L1422.9,1082.8L1423.4,1084.3L1423.9,1085.8L1424.4,1087.3L1424.9,1088.8L1425.4,1090.2L1426.0,1091.9L1426.6,1093.6L1427.2,1095.2L1427.8,1096.7L1428.4,1098.2L1429.0,1099.7L1429.6,1101.1L1430.2,1102.5L1430.9,1104.0L1431.6,1105.5L1432.3,1107.0L1433.0,1108.4L1433.8,1109.9L1434.6,1111.3L1435.4,1112.7L1436.2,1114.0L1437.1,1115.3L1438.0,1116.6L1438.9,1117.8L1439.9,1119.1L1440.9,1120.3L1442.0,1121.4L1443.1,1122.5L1444.3,1123.6L1445.5,1124.5L1446.8,1125.4L1448.1,1126.2L1449.5,1126.9L1450.9,1127.6L1452.4,1128.1L1453.9,1128.6L1455.4,1128.9L1456.9,1129.2L1458.4,1129.4L1459.9,1129.5L1461.4,1129.6L1462.9,1129.6L1464.4,1129.6L1465.9,1129.6L1466.9,1129.6" stroke="#0000ff" stroke-opacity="0.5" stroke-width="2.30" fill="none" stroke-linejoin="round" stroke-linecap="butt"/><path d="M907.8,694.5L909.3,694.3L910.8,694.2L912.3,694.0L913.8,693.8L915.3,693.7L916.8,693.5L918.3,693.3L919.8,693.2L921.3,693.0L922.8,692.9L924.3,692.7L925.8,692.5L927.3,692.4L928.8,692.2L930.3,692.0L931.8,691.9L933.3,691.7L934.8,691.6L936.3,691.4L937.8,691.2L939.3,691.1L940.8,690.9L942.3,690.8L943.8,690.6L945.3,690.4L946.8,690.3L948.3,690.1L949.8,690.0L951.3,689.8L952.8,689.7L954.3,689.5L955.8,689.3L957.3,689.2L958.8,689.0L960.3,688.9L961.8,688.7L963.3,688.6L964.8,688.4L966.3,688.3L967.8,688.1L969.3,688.0L970.8,687.8L972.3,687.7L973.8,687.5L975.3,687.4L976.8,687.2L978.3,687.1L979.8,687.0L981.3,686.8L982.8,686.7L984.3,686.5L985.8,686.4L987.3,686.3L988.8,686.1L990.3,686.0L991.8,685.8L993.3,685.7L994.8,685.6L996.3,685.4L997.8,685.3L999.3,685.2L1000.8,685.0L1002.3,684.9L1003.8,684.8L1005.3,684.7L1006.8,684.5L1008.3,684.4L1009.8,684.3L1011.3,684.2L1012.8,684.1L1014.3,683.9L1015.8,683.8L1017.3,683.7L1018.8,683.6L1020.3,683.5L1021.8,683.4L1023.3,683.3L1024.8,683.1L1026.3,683.0L1027.8,682.9L1029.3,682.8L1030.8,682.7L1032.3,682.6L1033.8,682.5L1035.3,682.4L1036.8,682.3L1038.3,682.2L1039.8,682.1L1041.3,682.0L1042.8,681.9L1044.3,681.9L1045.8,681.8L1047.3,681.7L1048.8,681.6L1050.3,681.5L1051.8,681.4L1053.3,681.4L1054.8,681.3L1056.3,681.2L1057.8,681.1L1059.3,681.1L1060.8,681.0L1062.3,680.9L1063.8,680.8L1065.3,680.8L1066.8,680.7L1068.3,680.7L1069.8,680.6L1071.3,680.5L1072.8,680.5L1074.3,680.4L1075.8,680.4L1077.3,680.3L1078.8,680.3L1080.3,680.2L1081.8,680.2L1083.3,680.2L1084.8,680.1L1086.3,680.1L1087.8,680.1L1089.3,680.0L1090.8,680.0L1092.3,680.0L1093.8,679.9L1095.3,679.9L1096.8,679.9L1098.3,679.9L1099.8,679.9L1101.3,679.8L1102.8,679.8L1104.3,679.8L1105.8,679.8L1107.3,679.8L1108.8,679.8L1110.3,679.8L1111.8,679.8L1113.3,679.8L1114.8,679.8L1116.3,679.8L1117.8,679.9L1119.3,679.9L1120.8,679.9L1122.3,679.9L1123.8,679.9L1125.3,680.0L1126.8,680.0L1128.3,680.0L1129.8,680.1L1131.3,680.1L1132.8,680.1L1134.3,680.2L1135.8,680.2L1137.3,680.3L1138.8,680.3L1140.3,680.4L1141.8,680.4L1143.3,680.5L1144.8,680.5L1146.3,680.6L1147.8,680.7L1149.3,680.7L1150.8,680.8L1152.3,680.9L1153.8,681.0L1155.3,681.1L1156.8,681.1L1158.3,681.2L1159.8,681.3L1161.3,681.4L1162.8,681.5L1164.3,681.6L1165.8,681.7L1167.3,681.8L1168.8,681.9L1170.3,682.0L1171.8,682.2L1173.3,682.3L1174.8,682.4L1176.3,682.5L1177.8,682.7L1179.3,682.8L1180.8,682.9L1182.3,683.1L1183.8,683.2L1185.3,683.3L1186.8,683.5L1188.3,683.7L1189.8,683.8L1191.3,684.0L1192.8,684.1L1194.3,684.3L1195.8,684.5L1197.3,684.6L1198.8,684.8L1200.3,685.0L1201.8,685.2L1203.3,685.4L1204.8,685.6L1206.3,685.7L1207.8,685.9L1209.3,686.1L1210.8,686.4L1212.3,686.6L1213.8,686.8L1215.3,687.0L1216.8,687.2L1218.3,687.4L1219.8,687.7L1221.3,687.9L1222.8,688.1L1224.3,688.4L1225.8,688.6L1227.3,688.9L1228.8,689.1L1230.3,689.4L1231.8,689.6L1233.3,689.9L1234.8,690.2L1236.3,690.4L1237.8,690.7L1239.3,691.0L1240.8,691.3L1242.3,691.5L1243.8,691.8L1245.3,692.1L1246.8,692.4L1248.3,692.7L1249.8,693.0L1251.3,693.3L1252.8,693.7L1254.3,694.0L1255.8,694.3L1257.3,694.6L1258.8,695.0L1260.3,695.3L1261.8,695.6L1263.3,696.0L1264.8,696.4L1266.3,696.7L1267.8,697.1L1269.3,697.5L1270.8,697.9L1272.3,698.4L1273.8,698.8L1275.3,699.3L1276.8,699.7L1278.3,700.2L1279.8,700.7L1281.3,701.3L1282.8,701.8L1284.3,702.4L1285.7,702.9L1287.1,703.5L1288.5,704.1L1289.9,704.7L1291.3,705.3L1292.7,705.9L1294.1,706.6L1295.5,707.3L1296.9,708.1L1298.3,708.9L1299.6,709.6L1300.9,710.4L1302.2,711.2L1303.5,712.0L1304.8,712.9L1306.1,713.8L1307.4,714.7L1308.7,715.7L1309.9,716.6L1311.1,717.5L1312.3,718.5L1313.5,719.5L1314.7,720.6L1315.9,721.7L1317.0,722.7L1318.1,723.7L1319.2,724.8L1320.3,726.0L1321.4,727.2L1322.5,728.4L1323.5,729.5L1324.5,730.7L1325.5,732.0L1326.5,733.3L1327.4,734.5L1328.3,735.7L1329.2,737.0L1330.1,738.4L1331.0,739.8L1331.8,741.1L1332.6,742.4L1333.4,743.7L1334.2,745.1L1335.0,746.6L1335.8,748.0L1336.5,749.4L1337.2,750.7L1337.9,752.1L1338.6,753.6L1339.3,755.0L1340.0,756.5L1340.7,758.1L1341.4,759.6L1342.0,761.0L1342.6,762.4L1343.2,763.8L1343.8,765.3L1344.4,766.8L1345.0,768.3L1345.6,769.8L1346.2,771.4L1346.8,773.0L1347.4,774.6L1348.0,776.3L1348.6,778.0L1349.1,779.4L1349.6,780.8L1350.1,782.3L1350.6,783.8L1351.1,785.3L1351.6,786.8L1352.1,788.3L1352.6,789.9L1353.1,791.5L1353.6,793.1L1354.1,794.7L1354.6,796.3L1355.1,797.9L1355.6,799.6L1356.1,801.3L1356.6,803.0L1357.1,804.7L1357.6,806.5L1358.1,808.2L1358.6,810.0L1359.1,811.8L1359.6,813.6L1360.0,815.0L1360.4,816.5L1360.8,818.0L1361.2,819.5L1361.6,821.0L1362.0,822.5L1362.4,824.0L1362.8,825.5L1363.2,827.0L1363.6,828.6L1364.0,830.1L1364.4,831.7L1364.8,833.3L1365.2,834.8L1365.6,836.4L1366.0,838.0L1366.4,839.6L1366.8,841.2L1367.2,842.9L1367.6,844.5L1368.0,846.1L1368.4,847.8L1368.8,849.4L1369.2,851.1L1369.6,852.7L1370.0,854.4L1370.4,856.1L1370.8,857.7L1371.2,859.4L1371.6,861.1L1372.0,862.8L1372.4,864.5L1372.8,866.2L1373.2,868.0L1373.6,869.7L1374.0,871.4L1374.4,873.2L1374.8,874.9L1375.2,876.6L1375.6,878.4L1376.0,880.2L1376.4,881.9L1376.8,883.7L1377.2,885.5L1377.6,887.2L1378.0,889.0L1378.4,890.8L1378.8,892.6L1379.2,894.4L1379.6,896.2L1380.0,898.0L1380.4,899.8L1380.8,901.6L1381.2,903.5L1381.6,905.3L1382.0,907.1L1382.4,908.9L1382.8,910.8L1383.2,912.6L1383.6,914.5L1384.0,916.3L1384.4,918.2L1384.8,920.0L1385.2,921.9L1385.6,923.8L1386.0,925.7L1386.4,927.5L1386.8,929.4L1387.2,931.3L1387.6,933.2L1388.0,935.1L1388.4,937.0L1388.8,938.9L1389.2,940.8L1389.6,942.7L1390.0,944.6L1390.4,946.5L1390.8,948.5L1391.2,950.4L1391.6,952.3L1392.0,954.2L1392.4,956.1L1392.8,958.1L1393.2,960.0L1393.6,961.9L1394.0,963.9L1394.4,965.8L1394.8,967.8L1395.2,969.7L1395.6,971.6L1396.0,973.6L1396.4,975.5L1396.8,977.5L1397.2,979.4L1397.6,981.3L1398.0,983.3L1398.4,985.2L1398.8,987.1L1399.2,989.1L1399.6,991.0L1400.0,992.9L1400.4,994.9L1400.8,996.8L1401.2,998.7L1401.6,1000.6L1402.0,1002.5L1402.4,1004.5L1402.8,1006.4L1403.2,1008.3L1403.6,1010.2L1404.0,1012.0L1404.4,1013.9L1404.8,1015.8L1405.2,1017.7L1405.6,1019.5L1406.0,1021.4L1406.4,1023.2L1406.8,1025.1L1407.2,1026.9L1407.6,1028.7L1408.0,1030.5L1408.4,1032.3L1408.8,1034.1L1409.2,1035.9L1409.6,1037.7L1410.0,1039.4L1410.4,1041.2L1410.8,1042.9L1411.2,1044.6L1411.6,1046.3L1412.0,1048.0L1412.4,1049.7L1412.8,1051.3L1413.2,1053.0L1413.6,1054.6L1414.0,1056.2L1414.4,1057.8L1414.8,1059.4L1415.2,1061.0L1415.6,1062.6L1416.0,1064.1L1416.4,1065.6L1416.8,1067.1L1417.2,1068.6L1417.6,1070.1L1418.0,1071.5L1418.5,1073.3L1419.0,1075.1L1419.5,1076.8L1420.0,1078.5L1420.5,1080.2L1421.0,1081.8L1421.5,1083.4L1422.0,1085.0L1422.5,1086.6L1423.0,1088.1L1423.5,1089.6L1424.0,1091.0L1424.5,1092.5L1425.1,1094.1L1425.7,1095.8L1426.3,1097.4L1426.9,1098.9L1427.5,1100.4L1428.1,1101.8L1428.7,1103.3L1429.4,1104.8L1430.1,1106.4L1430.8,1107.8L1431.5,1109.2L1432.2,1110.6L1433.0,1112.1L1433.8,1113.5L1434.6,1114.8L1435.5,1116.2L1436.4,1117.5L1437.3,1118.8L1438.3,1120.1L1439.3,1121.2L1440.4,1122.4L1441.5,1123.5L1442.7,1124.6L1443.9,1125.5L1445.2,1126.4L1446.5,1127.2L1447.9,1127.9L1449.3,1128.5L1450.8,1129.0L1452.3,1129.4L1453.8,1129.7L1455.3,1129.9L1456.8,1130.1L1458.3,1130.1L1459.8,1130.1L1461.3,1130.0L1462.8,1129.9L1464.3,1129.8L1465.8,1129.6L1466.9,1129.5" stroke="#008000" stroke-opacity="0.5" stroke-width="2.30" fill="none" stroke-linejoin="round" stroke-linecap="butt"/><path d="M907.8,1126.2V1119.2 M907.8,651.0V658.0 M977.8,1126.2V1119.2 M977.8,651.0V658.0 M1047.8,1126.2V1119.2 M1047.8,651.0V658.0 M1117.7,1126.2V1119.2 M1117.7,651.0V658.0 M1187.7,1126.2V1119.2 M1187.7,651.0V658.0 M1257.7,1126.2V1119.2 M1257.7,651.0V658.0 M1327.6,1126.2V1119.2 M1327.6,651.0V658.0 M1397.6,1126.2V1119.2 M1397.6,651.0V658.0 M1467.6,1126.2V1119.2 M1467.6,651.0V658.0 M908.2,1125.5H915.2 M1520.9,1125.5H1513.9 M908.2,1047.0H915.2 M1520.9,1047.0H1513.9 M908.2,968.5H915.2 M1520.9,968.5H1513.9 M908.2,890.0H915.2 M1520.9,890.0H1513.9 M908.2,811.5H915.2 M1520.9,811.5H1513.9 M908.2,733.0H915.2 M1520.9,733.0H1513.9 M908.2,654.5H915.2 M1520.9,654.5H1513.9" stroke="#8a8a8a" stroke-width="2.20" fill="none"/><rect x="908.2" y="651.0" width="612.7" height="475.2" fill="none" stroke="#8a8a8a" stroke-width="2.20"/><text x="907.3" y="1157.5" font-size="27.0" text-anchor="middle" textLength="15.8" lengthAdjust="spacingAndGlyphs">0</text><text x="977.3" y="1157.5" font-size="27.0" text-anchor="middle" textLength="15.8" lengthAdjust="spacingAndGlyphs">2</text><text x="1047.2" y="1157.5" font-size="27.0" text-anchor="middle" textLength="15.8" lengthAdjust="spacingAndGlyphs">4</text><text x="1117.2" y="1157.5" font-size="27.0" text-anchor="middle" textLength="15.8" lengthAdjust="spacingAndGlyphs">6</text><text x="1187.2" y="1157.5" font-size="27.0" text-anchor="middle" textLength="15.8" lengthAdjust="spacingAndGlyphs">8</text><text x="1257.2" y="1157.5" font-size="27.0" text-anchor="middle" textLength="31.5" lengthAdjust="spacingAndGlyphs">10</text><text x="1327.1" y="1157.5" font-size="27.0" text-anchor="middle" textLength="31.5" lengthAdjust="spacingAndGlyphs">12</text><text x="1397.1" y="1157.5" font-size="27.0" text-anchor="middle" textLength="31.5" lengthAdjust="spacingAndGlyphs">14</text><text x="1467.1" y="1157.5" font-size="27.0" text-anchor="middle" textLength="31.5" lengthAdjust="spacingAndGlyphs">16</text><text x="898.0" y="1137.0" font-size="27.0" text-anchor="end" textLength="70.9" lengthAdjust="spacingAndGlyphs">0.000</text><text x="898.0" y="1058.5" font-size="27.0" text-anchor="end" textLength="70.9" lengthAdjust="spacingAndGlyphs">0.005</text><text x="898.0" y="980.0" font-size="27.0" text-anchor="end" textLength="70.9" lengthAdjust="spacingAndGlyphs">0.010</text><text x="898.0" y="901.5" font-size="27.0" text-anchor="end" textLength="70.9" lengthAdjust="spacingAndGlyphs">0.015</text><text x="898.0" y="823.0" font-size="27.0" text-anchor="end" textLength="70.9" lengthAdjust="spacingAndGlyphs">0.020</text><text x="898.0" y="744.5" font-size="27.0" text-anchor="end" textLength="70.9" lengthAdjust="spacingAndGlyphs">0.025</text><text x="898.0" y="666.0" font-size="27.0" text-anchor="end" textLength="70.9" lengthAdjust="spacingAndGlyphs">0.030</text><text x="1119.5" y="638.6" font-size="31.5" text-anchor="start" textLength="189.2" lengthAdjust="spacingAndGlyphs">Right cochlea</text><text x="1137.5" y="1190.4" font-size="28.5" text-anchor="start" textLength="147.3" lengthAdjust="spacingAndGlyphs">Dose (cGy)</text><g transform="translate(806.2,971.5) rotate(-90)"><text x="-0.1" y="0.0" font-size="28.5" text-anchor="start" textLength="167.4" lengthAdjust="spacingAndGlyphs">Volume (cc3)</text></g><rect x="1296.5" y="661.5" width="214.8" height="62.4" fill="#fff" stroke="#8a8a8a" stroke-width="2.40"/><path d="M1308.5,676.4H1339.3" stroke="#0000ff" stroke-opacity="0.5" stroke-width="2.4"/><path d="M1308.5,705.4H1339.3" stroke="#008000" stroke-opacity="0.5" stroke-width="3.0"/><text x="1351.4" y="684.9" font-size="24.5" text-anchor="start" textLength="72.6" lengthAdjust="spacingAndGlyphs">TMR10</text><text x="1351.2" y="713.7" font-size="24.5" text-anchor="start" textLength="143.5" lengthAdjust="spacingAndGlyphs">Convolution</text></g>
<g><path d="M200.9,1264.5V1739.4 M270.8,1264.5V1739.4 M340.8,1264.5V1739.4 M410.7,1264.5V1739.4 M480.7,1264.5V1739.4 M550.6,1264.5V1739.4 M620.6,1264.5V1739.4 M690.5,1264.5V1739.4 M131.1,1647.9H743.8 M131.1,1556.3H743.8 M131.1,1464.6H743.8 M131.1,1373.0H743.8 M131.1,1281.4H743.8" stroke="#c6c6c6" stroke-width="1.30" stroke-dasharray="2.2 3.3" fill="none"/><path d="M131.0,1308.2L132.5,1307.9L134.0,1307.6L135.5,1307.3L137.0,1307.0L138.5,1306.7L140.0,1306.5L141.5,1306.2L143.0,1305.9L144.5,1305.6L146.0,1305.3L147.5,1305.0L149.0,1304.8L150.5,1304.5L152.0,1304.2L153.5,1303.9L155.0,1303.7L156.5,1303.4L158.0,1303.1L159.5,1302.8L161.0,1302.6L162.5,1302.3L164.0,1302.0L165.5,1301.8L167.0,1301.5L168.5,1301.3L170.0,1301.0L171.5,1300.7L173.0,1300.5L174.5,1300.2L176.0,1300.0L177.5,1299.8L179.0,1299.5L180.5,1299.3L182.0,1299.0L183.5,1298.8L185.0,1298.6L186.5,1298.4L188.0,1298.1L189.5,1297.9L191.0,1297.7L192.5,1297.5L194.0,1297.3L195.5,1297.1L197.0,1296.9L198.5,1296.7L200.0,1296.5L201.5,1296.3L203.0,1296.1L204.5,1296.0L206.0,1295.8L207.5,1295.6L209.0,1295.4L210.5,1295.3L212.0,1295.1L213.5,1295.0L215.0,1294.8L216.5,1294.7L218.0,1294.6L219.5,1294.4L221.0,1294.3L222.5,1294.2L224.0,1294.1L225.5,1294.0L227.0,1293.9L228.5,1293.8L230.0,1293.7L231.5,1293.6L233.0,1293.5L234.5,1293.5L236.0,1293.4L237.5,1293.3L239.0,1293.3L240.5,1293.2L242.0,1293.2L243.5,1293.2L245.0,1293.1L246.5,1293.1L248.0,1293.1L249.5,1293.1L251.0,1293.1L252.5,1293.1L254.0,1293.2L255.5,1293.2L257.0,1293.2L258.5,1293.3L260.0,1293.3L261.5,1293.4L263.0,1293.4L264.5,1293.5L266.0,1293.6L267.5,1293.7L269.0,1293.8L270.5,1293.9L272.0,1294.0L273.5,1294.1L275.0,1294.3L276.5,1294.4L278.0,1294.6L279.5,1294.7L281.0,1294.9L282.5,1295.1L284.0,1295.2L285.5,1295.4L287.0,1295.6L288.5,1295.9L290.0,1296.1L291.5,1296.3L293.0,1296.6L294.5,1296.8L296.0,1297.1L297.5,1297.4L299.0,1297.7L300.5,1297.9L302.0,1298.3L303.5,1298.6L305.0,1298.9L306.5,1299.2L308.0,1299.6L309.5,1299.9L311.0,1300.3L312.5,1300.7L314.0,1301.1L315.5,1301.5L317.0,1301.9L318.5,1302.3L320.0,1302.8L321.5,1303.2L323.0,1303.7L324.5,1304.2L326.0,1304.6L327.5,1305.1L329.0,1305.6L330.5,1306.2L332.0,1306.7L333.5,1307.3L335.0,1307.8L336.5,1308.4L337.9,1308.9L339.3,1309.5L340.7,1310.1L342.1,1310.7L343.5,1311.4L344.9,1312.0L346.3,1312.7L347.7,1313.5L349.1,1314.3L350.5,1315.1L351.8,1315.8L353.1,1316.7L354.4,1317.5L355.7,1318.4L357.0,1319.3L358.3,1320.2L359.6,1321.2L360.8,1322.1L362.0,1323.1L363.2,1324.1L364.4,1325.1L365.6,1326.1L366.8,1327.2L368.0,1328.2L369.2,1329.3L370.3,1330.4L371.4,1331.4L372.5,1332.5L373.6,1333.6L374.7,1334.7L375.8,1335.8L376.9,1336.9L378.0,1338.0L379.1,1339.2L380.2,1340.4L381.3,1341.6L382.4,1342.8L383.5,1344.0L384.6,1345.2L385.6,1346.3L386.6,1347.5L387.6,1348.6L388.6,1349.8L389.6,1351.0L390.6,1352.1L391.6,1353.3L392.6,1354.6L393.6,1355.8L394.6,1357.0L395.6,1358.3L396.6,1359.5L397.6,1360.8L398.6,1362.1L399.6,1363.5L400.5,1364.7L401.4,1365.9L402.3,1367.2L403.2,1368.4L404.1,1369.7L405.0,1371.0L405.9,1372.4L406.8,1373.7L407.7,1375.1L408.6,1376.5L409.4,1377.8L410.2,1379.1L411.0,1380.4L411.8,1381.8L412.6,1383.2L413.4,1384.6L414.2,1386.0L415.0,1387.5L415.8,1389.0L416.5,1390.3L417.2,1391.7L417.9,1393.0L418.6,1394.4L419.3,1395.9L420.0,1397.3L420.7,1398.8L421.4,1400.3L422.1,1401.8L422.8,1403.4L423.5,1405.0L424.2,1406.6L424.8,1408.0L425.4,1409.4L426.0,1410.8L426.6,1412.3L427.2,1413.7L427.8,1415.2L428.4,1416.7L429.0,1418.2L429.6,1419.8L430.2,1421.3L430.8,1422.9L431.4,1424.5L432.0,1426.1L432.6,1427.7L433.2,1429.3L433.8,1430.9L434.4,1432.6L435.0,1434.3L435.6,1436.0L436.2,1437.7L436.7,1439.1L437.2,1440.5L437.7,1442.0L438.2,1443.4L438.7,1444.9L439.2,1446.3L439.7,1447.8L440.2,1449.3L440.7,1450.7L441.2,1452.2L441.7,1453.7L442.2,1455.2L442.7,1456.7L443.2,1458.2L443.7,1459.7L444.2,1461.2L444.7,1462.7L445.2,1464.2L445.7,1465.7L446.2,1467.2L446.7,1468.8L447.2,1470.3L447.7,1471.8L448.2,1473.3L448.7,1474.8L449.2,1476.3L449.7,1477.8L450.2,1479.3L450.7,1480.8L451.2,1482.3L451.7,1483.8L452.2,1485.3L452.7,1486.8L453.2,1488.3L453.7,1489.8L454.2,1491.3L454.7,1492.8L455.2,1494.2L455.7,1495.7L456.2,1497.2L456.7,1498.6L457.2,1500.1L457.7,1501.5L458.2,1503.0L458.7,1504.4L459.2,1505.8L459.7,1507.3L460.2,1508.7L460.8,1510.4L461.4,1512.0L462.0,1513.7L462.6,1515.4L463.2,1517.0L463.8,1518.7L464.4,1520.3L465.0,1521.9L465.6,1523.6L466.2,1525.2L466.8,1526.8L467.4,1528.4L468.0,1529.9L468.6,1531.5L469.2,1533.1L469.8,1534.6L470.4,1536.2L471.0,1537.7L471.6,1539.2L472.2,1540.7L472.8,1542.2L473.4,1543.7L474.0,1545.2L474.6,1546.7L475.2,1548.2L475.8,1549.6L476.4,1551.1L477.0,1552.6L477.6,1554.0L478.2,1555.5L478.8,1556.9L479.4,1558.4L480.0,1559.8L480.6,1561.2L481.2,1562.7L481.8,1564.1L482.4,1565.5L483.0,1567.0L483.6,1568.4L484.2,1569.8L484.8,1571.2L485.4,1572.7L486.0,1574.1L486.6,1575.5L487.2,1576.9L487.8,1578.4L488.4,1579.8L489.0,1581.2L489.6,1582.6L490.2,1584.0L490.8,1585.5L491.4,1586.9L492.0,1588.3L492.6,1589.7L493.2,1591.1L493.8,1592.5L494.4,1594.0L495.0,1595.4L495.6,1596.8L496.2,1598.2L496.8,1599.6L497.4,1601.0L498.0,1602.4L498.6,1603.8L499.2,1605.2L499.8,1606.6L500.4,1608.1L501.0,1609.5L501.6,1610.9L502.2,1612.3L502.8,1613.6L503.4,1615.0L504.0,1616.4L504.6,1617.8L505.2,1619.2L505.8,1620.6L506.5,1622.2L507.2,1623.8L507.9,1625.3L508.6,1626.9L509.3,1628.5L510.0,1630.1L510.7,1631.6L511.4,1633.1L512.1,1634.7L512.8,1636.2L513.5,1637.7L514.2,1639.2L514.9,1640.7L515.6,1642.2L516.3,1643.7L517.0,1645.1L517.7,1646.6L518.4,1648.0L519.1,1649.4L519.8,1650.8L520.5,1652.2L521.2,1653.6L521.9,1655.0L522.6,1656.3L523.3,1657.7L524.0,1659.0L524.8,1660.5L525.6,1662.0L526.4,1663.5L527.2,1664.9L528.0,1666.4L528.8,1667.8L529.6,1669.2L530.4,1670.6L531.2,1672.0L532.0,1673.3L532.8,1674.6L533.6,1675.9L534.4,1677.2L535.2,1678.5L536.1,1679.9L537.0,1681.3L537.9,1682.7L538.8,1684.0L539.7,1685.4L540.6,1686.7L541.5,1688.0L542.4,1689.2L543.3,1690.5L544.2,1691.7L545.1,1692.9L546.1,1694.2L547.1,1695.5L548.1,1696.8L549.1,1698.0L550.1,1699.3L551.1,1700.5L552.1,1701.7L553.1,1702.8L554.1,1704.0L555.1,1705.1L556.2,1706.3L557.3,1707.5L558.4,1708.6L559.5,1709.8L560.6,1710.9L561.7,1712.0L562.8,1713.0L563.9,1714.1L565.1,1715.2L566.3,1716.3L567.5,1717.3L568.7,1718.3L569.9,1719.3L571.1,1720.3L572.3,1721.3L573.5,1722.2L574.8,1723.2L576.1,1724.1L577.4,1725.0L578.7,1725.9L580.0,1726.7L581.3,1727.5L582.6,1728.3L583.9,1729.1L585.3,1729.9L586.7,1730.6L588.1,1731.3L589.5,1732.0L590.9,1732.6L592.3,1733.3L593.7,1733.8L595.1,1734.4L596.6,1734.9L598.1,1735.5L599.6,1736.0L601.1,1736.4L602.6,1736.8L604.1,1737.2L605.6,1737.6L607.1,1738.0L608.6,1738.3L610.1,1738.6L611.6,1738.9L613.1,1739.1L614.6,1739.4L616.1,1739.6L617.6,1739.9L619.1,1740.1L620.6,1740.3L622.1,1740.4L623.6,1740.6L625.1,1740.7L626.6,1740.9L628.1,1741.0L629.6,1741.1L631.1,1741.2L632.6,1741.3L634.1,1741.4L635.6,1741.5L637.1,1741.5L638.6,1741.6L640.1,1741.6L641.6,1741.6L643.1,1741.6L644.6,1741.6L646.1,1741.6L647.6,1741.6L649.1,1741.6L650.6,1741.6L652.1,1741.6L653.6,1741.5L655.1,1741.5L656.6,1741.4L658.1,1741.3L659.6,1741.3L661.1,1741.2L662.6,1741.1L664.1,1741.0L665.6,1740.9L667.1,1740.8L668.6,1740.7L670.1,1740.6L671.6,1740.5L673.1,1740.4L674.6,1740.3L676.1,1740.2L677.6,1740.0L679.1,1739.9L680.6,1739.8L682.1,1739.7L683.6,1739.5L685.1,1739.4L686.6,1739.3L688.1,1739.1L689.6,1739.0" stroke="#0000ff" stroke-opacity="0.5" stroke-width="2.30" fill="none" stroke-linejoin="round" stroke-linecap="butt"/><path d="M130.4,1308.2L131.9,1307.9L133.4,1307.6L134.9,1307.3L136.4,1307.0L137.9,1306.7L139.4,1306.5L140.9,1306.2L142.4,1305.9L143.9,1305.6L145.4,1305.3L146.9,1305.0L148.4,1304.8L149.9,1304.5L151.4,1304.2L152.9,1303.9L154.4,1303.7L155.9,1303.4L157.4,1303.1L158.9,1302.8L160.4,1302.6L161.9,1302.3L163.4,1302.0L164.9,1301.8L166.4,1301.5L167.9,1301.3L169.4,1301.0L170.9,1300.7L172.4,1300.5L173.9,1300.2L175.4,1300.0L176.9,1299.8L178.4,1299.5L179.9,1299.3L181.4,1299.0L182.9,1298.8L184.4,1298.6L185.9,1298.4L187.4,1298.1L188.9,1297.9L190.4,1297.7L191.9,1297.5L193.4,1297.3L194.9,1297.1L196.4,1296.9L197.9,1296.7L199.4,1296.5L200.9,1296.3L202.4,1296.1L203.9,1296.0L205.4,1295.8L206.9,1295.6L208.4,1295.4L209.9,1295.3L211.4,1295.1L212.9,1295.0L214.4,1294.8L215.9,1294.7L217.4,1294.6L218.9,1294.4L220.4,1294.3L221.9,1294.2L223.4,1294.1L224.9,1294.0L226.4,1293.9L227.9,1293.8L229.4,1293.7L230.9,1293.6L232.4,1293.5L233.9,1293.5L235.4,1293.4L236.9,1293.3L238.4,1293.3L239.9,1293.2L241.4,1293.2L242.9,1293.2L244.4,1293.1L245.9,1293.1L247.4,1293.1L248.9,1293.1L250.4,1293.1L251.9,1293.1L253.4,1293.2L254.9,1293.2L256.4,1293.2L257.9,1293.3L259.4,1293.3L260.9,1293.4L262.4,1293.4L263.9,1293.5L265.4,1293.6L266.9,1293.7L268.4,1293.8L269.9,1293.9L271.4,1294.0L272.9,1294.1L274.4,1294.3L275.9,1294.4L277.4,1294.6L278.9,1294.7L280.4,1294.9L281.9,1295.1L283.4,1295.2L284.9,1295.4L286.4,1295.6L287.9,1295.9L289.4,1296.1L290.9,1296.3L292.4,1296.6L293.9,1296.8L295.4,1297.1L296.9,1297.4L298.4,1297.7L299.9,1297.9L301.4,1298.3L302.9,1298.6L304.4,1298.9L305.9,1299.2L307.4,1299.6L308.9,1299.9L310.4,1300.3L311.9,1300.7L313.4,1301.1L314.9,1301.5L316.4,1301.9L317.9,1302.3L319.4,1302.8L320.9,1303.2L322.4,1303.7L323.9,1304.2L325.4,1304.6L326.9,1305.1L328.4,1305.6L329.9,1306.2L331.4,1306.7L332.9,1307.3L334.4,1307.8L335.9,1308.4L337.3,1308.9L338.7,1309.5L340.1,1310.1L341.5,1310.7L342.9,1311.4L344.3,1312.0L345.7,1312.7L347.1,1313.5L348.5,1314.3L349.9,1315.1L351.2,1315.8L352.5,1316.7L353.8,1317.5L355.1,1318.4L356.4,1319.3L357.7,1320.2L359.0,1321.2L360.2,1322.1L361.4,1323.1L362.6,1324.1L363.8,1325.1L365.0,1326.1L366.2,1327.2L367.4,1328.2L368.6,1329.3L369.7,1330.4L370.8,1331.4L371.9,1332.5L373.0,1333.6L374.1,1334.7L375.2,1335.8L376.3,1336.9L377.4,1338.0L378.5,1339.2L379.6,1340.4L380.7,1341.6L381.8,1342.8L382.9,1344.0L384.0,1345.2L385.0,1346.3L386.0,1347.5L387.0,1348.6L388.0,1349.8L389.0,1351.0L390.0,1352.1L391.0,1353.3L392.0,1354.6L393.0,1355.8L394.0,1357.0L395.0,1358.3L396.0,1359.5L397.0,1360.8L398.0,1362.1L399.0,1363.5L399.9,1364.7L400.8,1365.9L401.7,1367.2L402.6,1368.4L403.5,1369.7L404.4,1371.0L405.3,1372.4L406.2,1373.7L407.1,1375.1L408.0,1376.5L408.8,1377.8L409.6,1379.1L410.4,1380.4L411.2,1381.8L412.0,1383.2L412.8,1384.6L413.6,1386.0L414.4,1387.5L415.2,1389.0L415.9,1390.3L416.6,1391.7L417.3,1393.0L418.0,1394.4L418.7,1395.9L419.4,1397.3L420.1,1398.8L420.8,1400.3L421.5,1401.8L422.2,1403.4L422.9,1405.0L423.6,1406.6L424.2,1408.0L424.8,1409.4L425.4,1410.8L426.0,1412.3L426.6,1413.7L427.2,1415.2L427.8,1416.7L428.4,1418.2L429.0,1419.8L429.6,1421.3L430.2,1422.9L430.8,1424.5L431.4,1426.1L432.0,1427.7L432.6,1429.3L433.2,1430.9L433.8,1432.6L434.4,1434.3L435.0,1436.0L435.6,1437.7L436.1,1439.1L436.6,1440.5L437.1,1442.0L437.6,1443.4L438.1,1444.9L438.6,1446.3L439.1,1447.8L439.6,1449.3L440.1,1450.7L440.6,1452.2L441.1,1453.7L441.6,1455.2L442.1,1456.7L442.6,1458.2L443.1,1459.7L443.6,1461.2L444.1,1462.7L444.6,1464.2L445.1,1465.7L445.6,1467.2L446.1,1468.8L446.6,1470.3L447.1,1471.8L447.6,1473.3L448.1,1474.8L448.6,1476.3L449.1,1477.8L449.6,1479.3L450.1,1480.8L450.6,1482.3L451.1,1483.8L451.6,1485.3L452.1,1486.8L452.6,1488.3L453.1,1489.8L453.6,1491.3L454.1,1492.8L454.6,1494.2L455.1,1495.7L455.6,1497.2L456.1,1498.6L456.6,1500.1L457.1,1501.5L457.6,1503.0L458.1,1504.4L458.6,1505.8L459.1,1507.3L459.6,1508.7L460.2,1510.4L460.8,1512.0L461.4,1513.7L462.0,1515.4L462.6,1517.0L463.2,1518.7L463.8,1520.3L464.4,1521.9L465.0,1523.6L465.6,1525.2L466.2,1526.8L466.8,1528.4L467.4,1529.9L468.0,1531.5L468.6,1533.1L469.2,1534.6L469.8,1536.2L470.4,1537.7L471.0,1539.2L471.6,1540.7L472.2,1542.2L472.8,1543.7L473.4,1545.2L474.0,1546.7L474.6,1548.2L475.2,1549.6L475.8,1551.1L476.4,1552.6L477.0,1554.0L477.6,1555.5L478.2,1556.9L478.8,1558.4L479.4,1559.8L480.0,1561.2L480.6,1562.7L481.2,1564.1L481.8,1565.5L482.4,1567.0L483.0,1568.4L483.6,1569.8L484.2,1571.2L484.8,1572.7L485.4,1574.1L486.0,1575.5L486.6,1576.9L487.2,1578.4L487.8,1579.8L488.4,1581.2L489.0,1582.6L489.6,1584.0L490.2,1585.5L490.8,1586.9L491.4,1588.3L492.0,1589.7L492.6,1591.1L493.2,1592.5L493.8,1594.0L494.4,1595.4L495.0,1596.8L495.6,1598.2L496.2,1599.6L496.8,1601.0L497.4,1602.4L498.0,1603.8L498.6,1605.2L499.2,1606.6L499.8,1608.1L500.4,1609.5L501.0,1610.9L501.6,1612.3L502.2,1613.6L502.8,1615.0L503.4,1616.4L504.0,1617.8L504.6,1619.2L505.2,1620.6L505.9,1622.2L506.6,1623.8L507.3,1625.3L508.0,1626.9L508.7,1628.5L509.4,1630.1L510.1,1631.6L510.8,1633.1L511.5,1634.7L512.2,1636.2L512.9,1637.7L513.6,1639.2L514.3,1640.7L515.0,1642.2L515.7,1643.7L516.4,1645.1L517.1,1646.6L517.8,1648.0L518.5,1649.4L519.2,1650.8L519.9,1652.2L520.6,1653.6L521.3,1655.0L522.0,1656.3L522.7,1657.7L523.4,1659.0L524.2,1660.5L525.0,1662.0L525.8,1663.5L526.6,1664.9L527.4,1666.4L528.2,1667.8L529.0,1669.2L529.8,1670.6L530.6,1672.0L531.4,1673.3L532.2,1674.6L533.0,1675.9L533.8,1677.2L534.6,1678.5L535.5,1679.9L536.4,1681.3L537.3,1682.7L538.2,1684.0L539.1,1685.4L540.0,1686.7L540.9,1688.0L541.8,1689.2L542.7,1690.5L543.6,1691.7L544.5,1692.9L545.5,1694.2L546.5,1695.5L547.5,1696.8L548.5,1698.0L549.5,1699.3L550.5,1700.5L551.5,1701.7L552.5,1702.8L553.5,1704.0L554.5,1705.1L555.6,1706.3L556.7,1707.5L557.8,1708.6L558.9,1709.8L560.0,1710.9L561.1,1712.0L562.2,1713.0L563.3,1714.1L564.5,1715.2L565.7,1716.3L566.9,1717.3L568.1,1718.3L569.3,1719.3L570.5,1720.3L571.7,1721.3L572.9,1722.2L574.2,1723.2L575.5,1724.1L576.8,1725.0L578.1,1725.9L579.4,1726.7L580.7,1727.5L582.0,1728.3L583.3,1729.1L584.7,1729.9L586.1,1730.6L587.5,1731.3L588.9,1732.0L590.3,1732.6L591.7,1733.3L593.1,1733.8L594.5,1734.4L596.0,1734.9L597.5,1735.5L599.0,1736.0L600.5,1736.4L602.0,1736.8L603.5,1737.2L605.0,1737.6L606.5,1738.0L608.0,1738.3L609.5,1738.6L611.0,1738.9L612.5,1739.1L614.0,1739.4L615.5,1739.6L617.0,1739.9L618.5,1740.1L620.0,1740.3L621.5,1740.4L623.0,1740.6L624.5,1740.7L626.0,1740.9L627.5,1741.0L629.0,1741.1L630.5,1741.2L632.0,1741.3L633.5,1741.4L635.0,1741.5L636.5,1741.5L638.0,1741.6L639.5,1741.6L641.0,1741.6L642.5,1741.6L644.0,1741.6L645.5,1741.6L647.0,1741.6L648.5,1741.6L650.0,1741.6L651.5,1741.6L653.0,1741.5L654.5,1741.5L656.0,1741.4L657.5,1741.3L659.0,1741.3L660.5,1741.2L662.0,1741.1L663.5,1741.0L665.0,1740.9L666.5,1740.8L668.0,1740.7L669.5,1740.6L671.0,1740.5L672.5,1740.4L674.0,1740.3L675.5,1740.2L677.0,1740.0L678.5,1739.9L680.0,1739.8L681.5,1739.7L683.0,1739.5L684.5,1739.4L686.0,1739.3L687.5,1739.1L689.0,1739.0" stroke="#008000" stroke-opacity="0.5" stroke-width="2.30" fill="none" stroke-linejoin="round" stroke-linecap="butt"/><path d="M130.9,1739.4V1732.4 M130.9,1264.5V1271.5 M200.9,1739.4V1732.4 M200.9,1264.5V1271.5 M270.8,1739.4V1732.4 M270.8,1264.5V1271.5 M340.8,1739.4V1732.4 M340.8,1264.5V1271.5 M410.7,1739.4V1732.4 M410.7,1264.5V1271.5 M480.7,1739.4V1732.4 M480.7,1264.5V1271.5 M550.6,1739.4V1732.4 M550.6,1264.5V1271.5 M620.6,1739.4V1732.4 M620.6,1264.5V1271.5 M690.5,1739.4V1732.4 M690.5,1264.5V1271.5 M131.1,1739.5H138.1 M743.8,1739.5H736.8 M131.1,1647.9H138.1 M743.8,1647.9H736.8 M131.1,1556.3H138.1 M743.8,1556.3H736.8 M131.1,1464.6H138.1 M743.8,1464.6H736.8 M131.1,1373.0H138.1 M743.8,1373.0H736.8 M131.1,1281.4H138.1 M743.8,1281.4H736.8" stroke="#8a8a8a" stroke-width="2.20" fill="none"/><rect x="131.1" y="1264.5" width="612.7" height="474.9" fill="none" stroke="#8a8a8a" stroke-width="2.20"/><text x="130.4" y="1770.5" font-size="27.0" text-anchor="middle" textLength="15.8" lengthAdjust="spacingAndGlyphs">0</text><text x="200.4" y="1770.5" font-size="27.0" text-anchor="middle" textLength="31.5" lengthAdjust="spacingAndGlyphs">20</text><text x="270.3" y="1770.5" font-size="27.0" text-anchor="middle" textLength="31.5" lengthAdjust="spacingAndGlyphs">40</text><text x="340.3" y="1770.5" font-size="27.0" text-anchor="middle" textLength="31.5" lengthAdjust="spacingAndGlyphs">60</text><text x="410.2" y="1770.5" font-size="27.0" text-anchor="middle" textLength="31.5" lengthAdjust="spacingAndGlyphs">80</text><text x="480.2" y="1770.5" font-size="27.0" text-anchor="middle" textLength="47.3" lengthAdjust="spacingAndGlyphs">100</text><text x="550.1" y="1770.5" font-size="27.0" text-anchor="middle" textLength="47.3" lengthAdjust="spacingAndGlyphs">120</text><text x="620.1" y="1770.5" font-size="27.0" text-anchor="middle" textLength="47.3" lengthAdjust="spacingAndGlyphs">140</text><text x="690.0" y="1770.5" font-size="27.0" text-anchor="middle" textLength="47.3" lengthAdjust="spacingAndGlyphs">160</text><text x="123.7" y="1749.0" font-size="27.0" text-anchor="end" textLength="55.2" lengthAdjust="spacingAndGlyphs">0.00</text><text x="123.7" y="1657.4" font-size="27.0" text-anchor="end" textLength="55.2" lengthAdjust="spacingAndGlyphs">0.05</text><text x="123.7" y="1565.8" font-size="27.0" text-anchor="end" textLength="55.2" lengthAdjust="spacingAndGlyphs">0.10</text><text x="123.7" y="1474.1" font-size="27.0" text-anchor="end" textLength="55.2" lengthAdjust="spacingAndGlyphs">0.15</text><text x="123.7" y="1382.5" font-size="27.0" text-anchor="end" textLength="55.2" lengthAdjust="spacingAndGlyphs">0.20</text><text x="123.7" y="1290.9" font-size="27.0" text-anchor="end" textLength="55.2" lengthAdjust="spacingAndGlyphs">0.25</text><text x="336.8" y="1251.0" font-size="29.6" text-anchor="start" textLength="203.9" lengthAdjust="spacingAndGlyphs">Left optic nerve</text><text x="361.3" y="1805.6" font-size="28.5" text-anchor="start" textLength="147.4" lengthAdjust="spacingAndGlyphs">Dose (cGy)</text><g transform="translate(33.0,1584.0) rotate(-90)"><text x="-0.1" y="0.0" font-size="28.5" text-anchor="start" textLength="167.7" lengthAdjust="spacingAndGlyphs">Volume (cc3)</text></g><rect x="519.4" y="1274.5" width="214.3" height="64.1" fill="#fff" stroke="#8a8a8a" stroke-width="2.40"/><path d="M531.4,1289.4H562.2" stroke="#0000ff" stroke-opacity="0.5" stroke-width="2.4"/><path d="M531.4,1318.4H562.2" stroke="#008000" stroke-opacity="0.5" stroke-width="3.0"/><text x="574.3" y="1297.9" font-size="24.5" text-anchor="start" textLength="72.6" lengthAdjust="spacingAndGlyphs">TMR10</text><text x="574.1" y="1326.7" font-size="24.5" text-anchor="start" textLength="143.5" lengthAdjust="spacingAndGlyphs">Convolution</text></g>
<g><path d="M1046.0,1264.5V1739.2 M1183.2,1264.5V1739.2 M1320.5,1264.5V1739.2 M1457.7,1264.5V1739.2 M908.2,1643.2H1520.9 M908.2,1546.3H1520.9 M908.2,1449.3H1520.9 M908.2,1352.4H1520.9" stroke="#c6c6c6" stroke-width="1.30" stroke-dasharray="2.2 3.3" fill="none"/><path d="M908.8,1307.7L910.1,1306.9L911.4,1306.1L912.7,1305.2L914.0,1304.4L915.3,1303.6L916.6,1302.7L917.9,1301.9L919.2,1301.1L920.5,1300.3L921.8,1299.5L923.1,1298.6L924.4,1297.8L925.7,1297.0L927.0,1296.2L928.3,1295.4L929.6,1294.7L930.9,1293.9L932.2,1293.1L933.5,1292.3L934.8,1291.6L936.1,1290.8L937.5,1290.0L938.9,1289.2L940.3,1288.4L941.7,1287.7L943.1,1286.9L944.5,1286.2L945.9,1285.4L947.3,1284.7L948.7,1284.0L950.1,1283.3L951.5,1282.6L952.9,1281.9L954.3,1281.3L955.7,1280.6L957.1,1280.0L958.5,1279.4L959.9,1278.8L961.3,1278.2L962.7,1277.7L964.2,1277.1L965.7,1276.6L967.2,1276.0L968.7,1275.5L970.2,1275.0L971.7,1274.6L973.2,1274.1L974.7,1273.7L976.2,1273.4L977.7,1273.0L979.2,1272.7L980.7,1272.4L982.2,1272.1L983.7,1271.8L985.2,1271.6L986.7,1271.4L988.2,1271.3L989.7,1271.1L991.2,1271.0L992.7,1271.0L994.2,1270.9L995.7,1270.9L997.2,1271.0L998.7,1271.1L1000.2,1271.2L1001.7,1271.3L1003.2,1271.5L1004.7,1271.7L1006.2,1271.9L1007.7,1272.2L1009.2,1272.6L1010.7,1272.9L1012.2,1273.3L1013.7,1273.8L1015.2,1274.3L1016.7,1274.8L1018.2,1275.4L1019.6,1275.9L1021.0,1276.5L1022.4,1277.2L1023.8,1277.9L1025.2,1278.6L1026.6,1279.4L1028.0,1280.2L1029.3,1280.9L1030.6,1281.8L1031.9,1282.6L1033.2,1283.5L1034.5,1284.4L1035.8,1285.4L1037.0,1286.3L1038.2,1287.3L1039.4,1288.3L1040.6,1289.3L1041.8,1290.3L1043.0,1291.4L1044.1,1292.4L1045.2,1293.5L1046.3,1294.6L1047.4,1295.7L1048.5,1296.8L1049.6,1298.0L1050.7,1299.2L1051.8,1300.4L1052.8,1301.5L1053.8,1302.7L1054.8,1303.9L1055.8,1305.1L1056.8,1306.4L1057.8,1307.7L1058.7,1308.9L1059.6,1310.2L1060.5,1311.5L1061.4,1312.9L1062.3,1314.3L1063.1,1315.6L1063.9,1317.0L1064.7,1318.4L1065.5,1319.8L1066.2,1321.2L1066.9,1322.5L1067.6,1324.0L1068.3,1325.4L1069.0,1326.9L1069.7,1328.5L1070.4,1330.1L1071.0,1331.5L1071.6,1332.9L1072.2,1334.3L1072.8,1335.8L1073.4,1337.3L1074.0,1338.8L1074.6,1340.4L1075.2,1342.0L1075.8,1343.5L1076.4,1345.1L1077.0,1346.7L1077.6,1348.4L1078.2,1350.0L1078.8,1351.6L1079.4,1353.3L1080.0,1354.9L1080.6,1356.5L1081.2,1358.2L1081.8,1359.8L1082.4,1361.5L1083.0,1363.1L1083.6,1364.7L1084.2,1366.3L1084.8,1367.9L1085.4,1369.5L1086.0,1371.1L1086.6,1372.6L1087.2,1374.2L1087.8,1375.7L1088.4,1377.2L1089.0,1378.7L1089.6,1380.2L1090.2,1381.7L1090.8,1383.2L1091.4,1384.6L1092.0,1386.0L1092.6,1387.4L1093.2,1388.8L1093.8,1390.2L1094.5,1391.8L1095.2,1393.4L1095.9,1394.9L1096.6,1396.5L1097.3,1398.0L1098.0,1399.5L1098.7,1400.9L1099.4,1402.4L1100.1,1403.8L1100.8,1405.3L1101.5,1406.7L1102.2,1408.1L1102.9,1409.5L1103.6,1410.9L1104.3,1412.2L1105.0,1413.6L1105.7,1414.9L1106.4,1416.2L1107.2,1417.7L1108.0,1419.2L1108.8,1420.7L1109.6,1422.2L1110.4,1423.6L1111.2,1425.1L1112.0,1426.5L1112.8,1428.0L1113.6,1429.4L1114.4,1430.8L1115.2,1432.2L1116.0,1433.6L1116.8,1435.0L1117.6,1436.4L1118.4,1437.8L1119.2,1439.2L1120.0,1440.6L1120.8,1442.0L1121.6,1443.3L1122.4,1444.7L1123.2,1446.0L1124.0,1447.4L1124.8,1448.7L1125.6,1450.1L1126.4,1451.4L1127.2,1452.7L1128.0,1454.0L1128.8,1455.3L1129.6,1456.6L1130.4,1457.9L1131.2,1459.2L1132.1,1460.6L1133.0,1462.0L1133.9,1463.4L1134.8,1464.8L1135.7,1466.2L1136.6,1467.5L1137.5,1468.9L1138.4,1470.2L1139.3,1471.5L1140.2,1472.8L1141.1,1474.1L1142.0,1475.3L1142.9,1476.6L1143.8,1477.8L1144.7,1479.0L1145.6,1480.2L1146.6,1481.6L1147.6,1482.9L1148.6,1484.1L1149.6,1485.4L1150.6,1486.7L1151.6,1487.9L1152.6,1489.1L1153.6,1490.3L1154.6,1491.5L1155.6,1492.7L1156.6,1493.8L1157.6,1495.0L1158.6,1496.1L1159.6,1497.2L1160.7,1498.5L1161.8,1499.7L1162.9,1500.8L1164.0,1502.0L1165.1,1503.2L1166.2,1504.3L1167.3,1505.5L1168.4,1506.6L1169.5,1507.7L1170.6,1508.8L1171.7,1509.8L1172.8,1510.9L1173.9,1512.0L1175.0,1513.0L1176.1,1514.0L1177.3,1515.1L1178.5,1516.2L1179.7,1517.3L1180.9,1518.4L1182.1,1519.4L1183.3,1520.5L1184.5,1521.5L1185.7,1522.5L1186.9,1523.5L1188.1,1524.5L1189.3,1525.5L1190.5,1526.5L1191.7,1527.4L1192.9,1528.3L1194.1,1529.3L1195.3,1530.2L1196.6,1531.2L1197.9,1532.1L1199.2,1533.1L1200.5,1534.0L1201.8,1534.9L1203.1,1535.8L1204.4,1536.7L1205.7,1537.7L1207.0,1538.5L1208.3,1539.4L1209.6,1540.3L1210.9,1541.2L1212.2,1542.1L1213.5,1543.0L1214.8,1544.0L1216.1,1544.9L1217.4,1545.8L1218.7,1546.8L1220.0,1547.7L1221.3,1548.7L1222.5,1549.6L1223.7,1550.5L1224.9,1551.4L1226.1,1552.4L1227.3,1553.3L1228.5,1554.3L1229.7,1555.3L1230.9,1556.3L1232.1,1557.3L1233.3,1558.3L1234.5,1559.3L1235.7,1560.4L1236.9,1561.4L1238.1,1562.5L1239.3,1563.6L1240.5,1564.7L1241.7,1565.8L1242.8,1566.8L1243.9,1567.8L1245.0,1568.9L1246.1,1569.9L1247.2,1571.0L1248.3,1572.0L1249.4,1573.1L1250.5,1574.1L1251.6,1575.2L1252.7,1576.2L1253.8,1577.3L1254.9,1578.3L1256.0,1579.4L1257.1,1580.5L1258.2,1581.5L1259.3,1582.5L1260.4,1583.6L1261.5,1584.6L1262.6,1585.6L1263.8,1586.7L1265.0,1587.8L1266.2,1588.9L1267.4,1590.0L1268.6,1591.1L1269.8,1592.1L1271.0,1593.2L1272.2,1594.2L1273.4,1595.2L1274.6,1596.2L1275.8,1597.3L1277.0,1598.3L1278.2,1599.3L1279.4,1600.3L1280.6,1601.3L1281.8,1602.2L1283.0,1603.2L1284.2,1604.2L1285.4,1605.2L1286.6,1606.2L1287.8,1607.1L1289.0,1608.1L1290.2,1609.1L1291.4,1610.0L1292.6,1611.0L1293.8,1612.0L1295.0,1612.9L1296.2,1613.9L1297.4,1614.8L1298.6,1615.8L1299.8,1616.8L1301.0,1617.7L1302.2,1618.7L1303.4,1619.6L1304.6,1620.6L1305.8,1621.5L1307.0,1622.5L1308.2,1623.5L1309.4,1624.4L1310.6,1625.4L1311.8,1626.3L1313.0,1627.2L1314.2,1628.2L1315.4,1629.1L1316.6,1630.1L1317.8,1631.0L1319.0,1632.0L1320.2,1632.9L1321.4,1633.8L1322.6,1634.8L1323.8,1635.7L1325.0,1636.6L1326.2,1637.6L1327.4,1638.5L1328.6,1639.4L1329.8,1640.3L1331.0,1641.3L1332.2,1642.2L1333.4,1643.1L1334.6,1644.1L1335.8,1645.0L1337.0,1646.0L1338.2,1646.9L1339.4,1647.9L1340.6,1648.8L1341.8,1649.8L1343.0,1650.7L1344.2,1651.7L1345.4,1652.7L1346.6,1653.6L1347.8,1654.6L1349.0,1655.6L1350.2,1656.6L1351.4,1657.6L1352.6,1658.5L1353.8,1659.5L1355.0,1660.5L1356.2,1661.5L1357.4,1662.5L1358.6,1663.5L1359.8,1664.6L1361.0,1665.6L1362.2,1666.6L1363.4,1667.6L1364.6,1668.7L1365.8,1669.7L1367.0,1670.7L1368.2,1671.8L1369.4,1672.9L1370.6,1673.9L1371.8,1675.0L1373.0,1676.1L1374.2,1677.2L1375.4,1678.3L1376.6,1679.4L1377.8,1680.5L1378.9,1681.5L1380.0,1682.5L1381.1,1683.6L1382.2,1684.6L1383.3,1685.7L1384.4,1686.7L1385.5,1687.8L1386.6,1688.9L1387.7,1690.0L1388.8,1691.1L1389.9,1692.2L1391.0,1693.3L1392.1,1694.4L1393.2,1695.5L1394.3,1696.6L1395.4,1697.7L1396.5,1698.8L1397.6,1699.9L1398.7,1701.0L1399.8,1702.1L1400.9,1703.2L1402.0,1704.3L1403.1,1705.4L1404.2,1706.5L1405.3,1707.6L1406.4,1708.7L1407.5,1709.8L1408.6,1710.8L1409.7,1711.9L1410.8,1712.9L1411.9,1714.0L1413.0,1715.0L1414.2,1716.1L1415.4,1717.1L1416.6,1718.2L1417.8,1719.2L1419.0,1720.3L1420.2,1721.2L1421.4,1722.2L1422.6,1723.1L1423.8,1724.0L1425.1,1725.0L1426.4,1725.9L1427.7,1726.8L1429.0,1727.7L1430.3,1728.5L1431.6,1729.3L1432.9,1730.1L1434.3,1730.9L1435.7,1731.6L1437.1,1732.3L1438.5,1733.0L1439.9,1733.6L1441.3,1734.3L1442.7,1734.8L1444.1,1735.4L1445.6,1736.0L1447.1,1736.5L1448.6,1737.0L1450.1,1737.5L1451.6,1738.0L1453.1,1738.4L1454.6,1738.9L1456.1,1739.3L1457.6,1739.7L1458.0,1739.8" stroke="#0000ff" stroke-opacity="0.5" stroke-width="2.30" fill="none" stroke-linejoin="round" stroke-linecap="butt"/><path d="M908.8,1307.7L910.1,1306.8L911.4,1305.9L912.7,1305.1L914.0,1304.2L915.3,1303.3L916.6,1302.4L917.9,1301.6L919.2,1300.7L920.5,1299.8L921.8,1299.0L923.1,1298.1L924.4,1297.3L925.7,1296.4L927.0,1295.6L928.3,1294.8L929.6,1293.9L930.9,1293.1L932.2,1292.3L933.5,1291.5L934.8,1290.7L936.1,1289.9L937.4,1289.1L938.7,1288.4L940.0,1287.6L941.4,1286.8L942.8,1286.0L944.2,1285.2L945.6,1284.5L947.0,1283.7L948.4,1283.0L949.8,1282.3L951.2,1281.6L952.6,1280.9L954.0,1280.2L955.4,1279.5L956.8,1278.9L958.2,1278.3L959.6,1277.7L961.0,1277.1L962.4,1276.6L963.9,1276.0L965.4,1275.4L966.9,1274.9L968.4,1274.4L969.9,1273.9L971.4,1273.5L972.9,1273.1L974.4,1272.7L975.9,1272.3L977.4,1272.0L978.9,1271.7L980.4,1271.5L981.9,1271.2L983.4,1271.0L984.9,1270.9L986.4,1270.7L987.9,1270.6L989.4,1270.6L990.9,1270.5L992.4,1270.5L993.9,1270.6L995.4,1270.7L996.9,1270.8L998.4,1271.0L999.9,1271.2L1001.4,1271.4L1002.9,1271.7L1004.4,1272.0L1005.9,1272.4L1007.4,1272.8L1008.9,1273.3L1010.4,1273.8L1011.9,1274.3L1013.3,1274.9L1014.7,1275.5L1016.1,1276.1L1017.5,1276.8L1018.9,1277.5L1020.3,1278.3L1021.6,1279.0L1022.9,1279.8L1024.2,1280.6L1025.5,1281.5L1026.8,1282.4L1028.1,1283.4L1029.3,1284.3L1030.5,1285.2L1031.7,1286.2L1032.9,1287.2L1034.1,1288.2L1035.3,1289.3L1036.4,1290.3L1037.5,1291.4L1038.6,1292.5L1039.7,1293.6L1040.8,1294.7L1041.9,1295.9L1043.0,1297.1L1044.0,1298.3L1045.0,1299.4L1046.0,1300.6L1047.0,1301.8L1048.0,1303.1L1049.0,1304.3L1050.0,1305.6L1050.9,1306.8L1051.8,1308.1L1052.7,1309.3L1053.6,1310.6L1054.5,1312.0L1055.4,1313.4L1056.2,1314.7L1057.0,1316.1L1057.8,1317.5L1058.6,1318.9L1059.4,1320.4L1060.1,1321.7L1060.8,1323.1L1061.5,1324.5L1062.2,1326.0L1062.9,1327.5L1063.6,1329.0L1064.3,1330.6L1065.0,1332.2L1065.6,1333.5L1066.2,1335.0L1066.8,1336.4L1067.4,1337.8L1068.0,1339.3L1068.6,1340.8L1069.2,1342.3L1069.8,1343.8L1070.4,1345.3L1071.0,1346.9L1071.6,1348.4L1072.2,1349.9L1072.8,1351.5L1073.4,1353.0L1074.0,1354.6L1074.6,1356.1L1075.2,1357.6L1075.8,1359.2L1076.4,1360.7L1077.0,1362.2L1077.6,1363.7L1078.2,1365.2L1078.8,1366.7L1079.4,1368.2L1080.0,1369.7L1080.6,1371.1L1081.2,1372.6L1081.8,1374.0L1082.4,1375.4L1083.0,1376.8L1083.6,1378.2L1084.3,1379.8L1085.0,1381.4L1085.7,1382.9L1086.4,1384.5L1087.1,1386.0L1087.8,1387.5L1088.5,1389.0L1089.2,1390.4L1089.9,1391.9L1090.6,1393.3L1091.3,1394.7L1092.0,1396.1L1092.7,1397.5L1093.4,1398.8L1094.1,1400.2L1094.8,1401.5L1095.6,1403.0L1096.4,1404.5L1097.2,1405.9L1098.0,1407.4L1098.8,1408.9L1099.6,1410.3L1100.4,1411.7L1101.2,1413.1L1102.0,1414.5L1102.8,1415.9L1103.6,1417.3L1104.4,1418.7L1105.2,1420.0L1106.0,1421.4L1106.8,1422.8L1107.6,1424.1L1108.4,1425.5L1109.2,1426.8L1110.0,1428.1L1110.8,1429.5L1111.6,1430.8L1112.4,1432.1L1113.2,1433.4L1114.0,1434.7L1114.8,1436.1L1115.6,1437.4L1116.4,1438.7L1117.2,1440.0L1118.0,1441.2L1118.8,1442.5L1119.6,1443.8L1120.4,1445.1L1121.2,1446.4L1122.1,1447.8L1123.0,1449.2L1123.9,1450.6L1124.8,1452.0L1125.7,1453.4L1126.6,1454.8L1127.5,1456.1L1128.4,1457.5L1129.3,1458.8L1130.2,1460.2L1131.1,1461.5L1132.0,1462.8L1132.9,1464.1L1133.8,1465.4L1134.7,1466.7L1135.6,1468.0L1136.5,1469.2L1137.4,1470.5L1138.3,1471.7L1139.2,1472.9L1140.1,1474.1L1141.1,1475.4L1142.1,1476.8L1143.1,1478.0L1144.1,1479.3L1145.1,1480.6L1146.1,1481.9L1147.1,1483.1L1148.1,1484.3L1149.1,1485.5L1150.1,1486.8L1151.1,1488.0L1152.1,1489.1L1153.1,1490.3L1154.1,1491.5L1155.1,1492.6L1156.1,1493.8L1157.1,1494.9L1158.1,1496.0L1159.2,1497.2L1160.3,1498.4L1161.4,1499.6L1162.5,1500.8L1163.6,1502.0L1164.7,1503.1L1165.8,1504.3L1166.9,1505.4L1168.0,1506.5L1169.1,1507.6L1170.2,1508.7L1171.3,1509.8L1172.4,1510.9L1173.5,1512.0L1174.6,1513.0L1175.7,1514.0L1176.8,1515.1L1178.0,1516.2L1179.2,1517.3L1180.4,1518.4L1181.6,1519.4L1182.8,1520.5L1184.0,1521.5L1185.2,1522.5L1186.4,1523.6L1187.6,1524.6L1188.8,1525.5L1190.0,1526.5L1191.2,1527.5L1192.4,1528.4L1193.6,1529.4L1194.8,1530.3L1196.0,1531.2L1197.3,1532.2L1198.6,1533.1L1199.9,1534.1L1201.2,1535.0L1202.5,1535.9L1203.8,1536.8L1205.1,1537.7L1206.4,1538.6L1207.7,1539.5L1209.0,1540.4L1210.3,1541.3L1211.6,1542.2L1212.9,1543.1L1214.2,1544.0L1215.5,1545.0L1216.8,1545.9L1218.1,1546.8L1219.4,1547.8L1220.7,1548.7L1222.0,1549.7L1223.2,1550.6L1224.4,1551.5L1225.6,1552.5L1226.8,1553.4L1228.0,1554.4L1229.2,1555.4L1230.4,1556.4L1231.6,1557.3L1232.8,1558.4L1234.0,1559.4L1235.2,1560.4L1236.4,1561.5L1237.6,1562.5L1238.8,1563.6L1240.0,1564.7L1241.2,1565.8L1242.3,1566.8L1243.4,1567.9L1244.5,1568.9L1245.6,1569.9L1246.7,1571.0L1247.8,1572.0L1248.9,1573.1L1250.0,1574.1L1251.1,1575.2L1252.2,1576.3L1253.3,1577.3L1254.4,1578.4L1255.5,1579.4L1256.6,1580.5L1257.7,1581.5L1258.8,1582.6L1259.9,1583.6L1261.0,1584.6L1262.1,1585.7L1263.3,1586.8L1264.5,1587.9L1265.7,1589.0L1266.9,1590.0L1268.1,1591.1L1269.3,1592.2L1270.5,1593.2L1271.7,1594.3L1272.9,1595.3L1274.1,1596.3L1275.3,1597.3L1276.5,1598.3L1277.7,1599.4L1278.9,1600.3L1280.1,1601.3L1281.3,1602.3L1282.5,1603.3L1283.7,1604.3L1284.9,1605.3L1286.1,1606.2L1287.3,1607.2L1288.5,1608.2L1289.7,1609.2L1290.9,1610.1L1292.1,1611.1L1293.3,1612.0L1294.5,1613.0L1295.7,1614.0L1296.9,1614.9L1298.1,1615.9L1299.3,1616.8L1300.5,1617.8L1301.7,1618.8L1302.9,1619.7L1304.1,1620.7L1305.3,1621.6L1306.5,1622.6L1307.7,1623.5L1308.9,1624.5L1310.1,1625.4L1311.3,1626.4L1312.5,1627.3L1313.7,1628.3L1314.9,1629.2L1316.1,1630.2L1317.3,1631.1L1318.5,1632.1L1319.7,1633.0L1320.9,1633.9L1322.1,1634.9L1323.3,1635.8L1324.5,1636.7L1325.7,1637.7L1326.9,1638.6L1328.1,1639.6L1329.3,1640.5L1330.5,1641.4L1331.7,1642.4L1332.9,1643.3L1334.1,1644.3L1335.3,1645.2L1336.5,1646.2L1337.7,1647.1L1338.9,1648.1L1340.1,1649.0L1341.3,1650.0L1342.5,1651.0L1343.7,1651.9L1344.9,1652.9L1346.1,1653.9L1347.3,1654.9L1348.5,1655.8L1349.7,1656.8L1350.9,1657.8L1352.1,1658.8L1353.3,1659.8L1354.5,1660.8L1355.7,1661.8L1356.9,1662.8L1358.1,1663.8L1359.3,1664.8L1360.5,1665.8L1361.7,1666.8L1362.9,1667.8L1364.1,1668.9L1365.3,1669.9L1366.5,1670.9L1367.7,1671.9L1368.9,1672.9L1370.1,1674.0L1371.3,1675.0L1372.5,1676.0L1373.7,1677.0L1374.9,1678.0L1376.1,1679.0L1377.3,1680.1L1378.5,1681.1L1379.7,1682.1L1380.9,1683.1L1382.1,1684.1L1383.3,1685.1L1384.5,1686.1L1385.7,1687.2L1386.9,1688.2L1388.1,1689.2L1389.3,1690.2L1390.5,1691.2L1391.7,1692.2L1392.9,1693.2L1394.1,1694.2L1395.3,1695.2L1396.5,1696.2L1397.7,1697.3L1398.9,1698.3L1400.1,1699.3L1401.3,1700.4L1402.5,1701.4L1403.7,1702.5L1404.9,1703.5L1406.1,1704.6L1407.3,1705.6L1408.5,1706.7L1409.7,1707.8L1410.9,1708.8L1412.1,1709.9L1413.3,1710.9L1414.5,1712.0L1415.7,1713.0L1416.9,1714.1L1418.1,1715.1L1419.3,1716.2L1420.5,1717.2L1421.7,1718.2L1422.9,1719.2L1424.1,1720.2L1425.3,1721.2L1426.5,1722.1L1427.7,1723.1L1428.9,1724.0L1430.1,1724.9L1431.4,1725.9L1432.7,1726.8L1434.0,1727.7L1435.3,1728.6L1436.6,1729.4L1437.9,1730.2L1439.2,1731.0L1440.6,1731.8L1442.0,1732.5L1443.4,1733.2L1444.8,1733.9L1446.2,1734.6L1447.6,1735.2L1449.0,1735.7L1450.5,1736.3L1452.0,1736.8L1453.5,1737.3L1455.0,1737.7L1456.5,1738.1L1458.0,1738.5L1459.5,1738.9L1461.0,1739.3L1462.5,1739.7L1463.7,1740.0" stroke="#008000" stroke-opacity="0.5" stroke-width="2.30" fill="none" stroke-linejoin="round" stroke-linecap="butt"/><path d="M908.8,1739.2V1732.2 M908.8,1264.5V1271.5 M1046.0,1739.2V1732.2 M1046.0,1264.5V1271.5 M1183.2,1739.2V1732.2 M1183.2,1264.5V1271.5 M1320.5,1739.2V1732.2 M1320.5,1264.5V1271.5 M1457.7,1739.2V1732.2 M1457.7,1264.5V1271.5 M908.2,1740.1H915.2 M1520.9,1740.1H1513.9 M908.2,1643.2H915.2 M1520.9,1643.2H1513.9 M908.2,1546.3H915.2 M1520.9,1546.3H1513.9 M908.2,1449.3H915.2 M1520.9,1449.3H1513.9 M908.2,1352.4H915.2 M1520.9,1352.4H1513.9" stroke="#8a8a8a" stroke-width="2.20" fill="none"/><rect x="908.2" y="1264.5" width="612.7" height="474.7" fill="none" stroke="#8a8a8a" stroke-width="2.20"/><text x="908.3" y="1770.5" font-size="27.0" text-anchor="middle" textLength="15.8" lengthAdjust="spacingAndGlyphs">0</text><text x="1045.5" y="1770.5" font-size="27.0" text-anchor="middle" textLength="15.8" lengthAdjust="spacingAndGlyphs">5</text><text x="1182.8" y="1770.5" font-size="27.0" text-anchor="middle" textLength="31.5" lengthAdjust="spacingAndGlyphs">10</text><text x="1320.0" y="1770.5" font-size="27.0" text-anchor="middle" textLength="31.5" lengthAdjust="spacingAndGlyphs">15</text><text x="1457.2" y="1770.5" font-size="27.0" text-anchor="middle" textLength="31.5" lengthAdjust="spacingAndGlyphs">20</text><text x="898.0" y="1746.9" font-size="27.0" text-anchor="end" textLength="55.2" lengthAdjust="spacingAndGlyphs">0.00</text><text x="898.0" y="1650.0" font-size="27.0" text-anchor="end" textLength="55.2" lengthAdjust="spacingAndGlyphs">0.05</text><text x="898.0" y="1553.1" font-size="27.0" text-anchor="end" textLength="55.2" lengthAdjust="spacingAndGlyphs">0.10</text><text x="898.0" y="1456.1" font-size="27.0" text-anchor="end" textLength="55.2" lengthAdjust="spacingAndGlyphs">0.15</text><text x="898.0" y="1359.2" font-size="27.0" text-anchor="end" textLength="55.2" lengthAdjust="spacingAndGlyphs">0.20</text><text x="1096.3" y="1251.0" font-size="29.7" text-anchor="start" textLength="223.6" lengthAdjust="spacingAndGlyphs">Right optic nerve</text><text x="1139.7" y="1805.6" font-size="28.5" text-anchor="start" textLength="146.8" lengthAdjust="spacingAndGlyphs">Dose (cGy)</text><g transform="translate(821.0,1585.0) rotate(-90)"><text x="-0.1" y="0.0" font-size="28.5" text-anchor="start" textLength="167.5" lengthAdjust="spacingAndGlyphs">Volume (cc3)</text></g><rect x="1295.5" y="1274.5" width="215.8" height="64.1" fill="#fff" stroke="#8a8a8a" stroke-width="2.40"/><path d="M1307.5,1289.4H1338.3" stroke="#0000ff" stroke-opacity="0.5" stroke-width="2.4"/><path d="M1307.5,1318.4H1338.3" stroke="#008000" stroke-opacity="0.5" stroke-width="3.0"/><text x="1350.4" y="1297.9" font-size="24.5" text-anchor="start" textLength="72.6" lengthAdjust="spacingAndGlyphs">TMR10</text><text x="1350.2" y="1326.7" font-size="24.5" text-anchor="start" textLength="143.5" lengthAdjust="spacingAndGlyphs">Convolution</text></g>
<g><path d="M250.5,1880.5V2352.7 M370.6,1880.5V2352.7 M490.7,1880.5V2352.7 M610.8,1880.5V2352.7 M730.9,1880.5V2352.7 M131.1,2294.5H743.5 M131.1,2236.3H743.5 M131.1,2178.1H743.5 M131.1,2119.9H743.5 M131.1,2061.7H743.5 M131.1,2003.5H743.5 M131.1,1945.3H743.5 M131.1,1887.1H743.5" stroke="#c6c6c6" stroke-width="1.30" stroke-dasharray="2.2 3.3" fill="none"/><path d="M133.3,1920.9L133.4,1922.9L133.5,1924.9L133.5,1926.9L133.6,1928.9L133.7,1930.9L133.8,1932.9L133.9,1934.9L134.0,1936.9L134.0,1938.9L134.1,1940.9L134.2,1942.9L134.3,1944.9L134.4,1946.9L134.5,1948.9L134.5,1950.9L134.6,1952.9L134.7,1954.9L134.8,1956.9L134.9,1958.9L134.9,1960.9L135.0,1962.9L135.1,1964.9L135.1,1966.9L135.2,1968.9L135.3,1970.9L135.3,1972.9L135.4,1974.9L135.4,1976.9L135.5,1978.9L135.6,1980.9L135.6,1982.9L135.7,1984.9L135.8,1986.9L135.8,1988.9L135.9,1990.9L136.0,1992.9L136.0,1994.9L136.1,1996.9L136.1,1998.9L136.2,2000.9L136.3,2002.9L136.3,2004.9L136.4,2006.9L136.4,2008.9L136.4,2010.9L136.5,2012.9L136.5,2014.9L136.5,2016.9L136.6,2018.9L136.6,2020.9L136.6,2022.9L136.7,2024.9L136.7,2026.9L136.7,2028.9L136.8,2030.9L136.8,2032.9L136.8,2034.9L136.9,2036.9L136.9,2038.9L136.9,2040.9L137.0,2042.9L137.0,2044.9L137.0,2046.9L137.1,2048.9L137.1,2050.9L137.2,2052.9L137.2,2054.9L137.2,2056.9L137.3,2058.9L137.3,2060.9L137.3,2062.9L137.4,2064.9L137.4,2066.9L137.4,2068.9L137.4,2071.0L137.5,2073.0L137.5,2075.0L137.5,2077.0L137.6,2079.0L137.6,2081.0L137.6,2083.0L137.7,2085.0L137.7,2087.0L137.7,2089.0L137.8,2091.0L137.8,2093.0L137.8,2095.0L137.9,2097.0L137.9,2099.0L137.9,2101.0L137.9,2103.0L138.0,2105.0L138.0,2107.0L138.0,2109.0L138.1,2111.0L138.1,2113.0L138.1,2115.0L138.2,2117.0L138.2,2119.0L138.2,2121.0L138.3,2123.0L138.3,2125.0L138.3,2127.0L138.4,2129.0L138.4,2131.0L138.4,2133.0L138.5,2135.0L138.5,2137.0L138.5,2139.0L138.6,2141.0L138.6,2143.0L138.6,2145.0L138.7,2147.0L138.7,2149.0L138.7,2151.0L138.8,2153.0L138.8,2155.0L138.8,2157.0L138.9,2159.0L138.9,2161.0L138.9,2163.0L139.0,2165.0L139.0,2167.0L139.0,2169.0L139.1,2171.0L139.1,2173.0L139.1,2175.0L139.2,2177.0L139.2,2179.0L139.2,2181.0L139.3,2183.0L139.3,2185.0L139.3,2187.0L139.4,2189.0L139.4,2191.0L139.4,2193.0L139.5,2195.0L139.5,2197.0L139.5,2199.0L139.6,2201.0L139.6,2203.0L139.6,2205.0L139.7,2207.0L139.7,2209.0L139.8,2211.0L139.8,2213.0L139.8,2215.0L139.9,2217.0L139.9,2219.0L139.9,2221.0L140.0,2223.0L140.0,2225.0L140.0,2227.0L140.1,2229.1L140.1,2231.1L140.1,2233.1L140.2,2235.1L140.2,2237.1L140.3,2239.1L140.4,2241.1L140.5,2243.1L140.6,2245.1L140.6,2247.1L140.7,2249.1L140.8,2251.1L140.9,2253.1L141.0,2255.1L141.1,2257.1L141.2,2259.1L141.3,2261.1L141.3,2263.1L141.4,2265.1L141.5,2267.0L141.6,2269.0L141.8,2271.0L141.9,2273.0L142.1,2275.0L142.2,2277.0L142.4,2279.0L142.5,2281.0L142.7,2283.0L142.8,2285.0L143.0,2287.0L143.2,2289.0L143.3,2291.0L143.5,2293.0L143.7,2295.0L143.9,2297.0L144.2,2299.0L144.5,2300.9L144.8,2302.9L145.1,2304.9L145.4,2306.9L145.6,2308.9L146.0,2310.8L146.3,2312.8L146.8,2314.7L147.3,2316.7L147.9,2318.6L148.4,2320.5L149.0,2322.4L149.6,2324.3L150.2,2326.2L151.1,2328.0L152.1,2329.8L153.1,2331.5L154.1,2333.2L155.2,2334.9L156.4,2336.4L157.8,2337.8L159.4,2339.1L160.9,2340.3L162.5,2341.5L164.1,2342.7L165.9,2343.6L167.7,2344.4L169.6,2345.0L171.5,2345.7L173.4,2346.3L175.3,2346.9L177.2,2347.5L179.1,2348.0L181.1,2348.4L183.1,2348.7L185.0,2348.9L187.0,2349.2L189.0,2349.4L191.0,2349.6L193.0,2349.9L195.0,2350.1L197.0,2350.3L199.0,2350.5L201.0,2350.7L203.0,2350.8L205.0,2350.8L207.0,2350.9L209.0,2351.0L211.0,2351.1L213.0,2351.2L215.0,2351.2L217.0,2351.3L219.0,2351.4L221.0,2351.5L223.0,2351.6L225.0,2351.6L227.0,2351.7L229.0,2351.8L231.0,2351.8L233.0,2351.9L235.0,2351.9L237.0,2352.0L239.0,2352.0L241.0,2352.0L243.0,2352.1L245.0,2352.1L247.0,2352.1L249.0,2352.2L251.0,2352.2L253.0,2352.2L255.0,2352.2L257.0,2352.2L259.0,2352.2L261.0,2352.2L263.0,2352.2L265.0,2352.2L267.0,2352.2L269.0,2352.2L271.0,2352.2L273.0,2352.2L275.0,2352.2L277.0,2352.2L279.0,2352.2L281.0,2352.2L283.0,2352.2L285.0,2352.2L287.0,2352.2L289.0,2352.3L291.0,2352.3L293.0,2352.3L295.0,2352.3L297.0,2352.3L299.0,2352.3L301.0,2352.3L303.0,2352.3L305.0,2352.3L307.0,2352.3L309.0,2352.3L311.0,2352.3L313.0,2352.3L315.0,2352.3L317.0,2352.3L319.0,2352.3L321.0,2352.3L323.0,2352.3L325.0,2352.3L327.0,2352.3L329.0,2352.3L331.0,2352.3L333.0,2352.3L335.0,2352.3L337.0,2352.3L339.0,2352.3L341.0,2352.3L343.0,2352.3L345.0,2352.3L347.0,2352.3L349.0,2352.3L351.0,2352.3L353.0,2352.3L355.0,2352.3L357.0,2352.3L359.0,2352.3L361.0,2352.3L363.0,2352.4L365.1,2352.4L367.1,2352.4L369.1,2352.4L371.1,2352.4L373.1,2352.4L375.1,2352.4L377.1,2352.4L379.1,2352.4L381.1,2352.4L383.1,2352.4L385.1,2352.4L387.1,2352.4L389.1,2352.4L391.1,2352.4L393.1,2352.4L395.1,2352.4L397.1,2352.4L399.1,2352.4L401.1,2352.4L403.1,2352.4L405.1,2352.4L407.1,2352.4L409.1,2352.4L411.1,2352.4L413.1,2352.4L415.1,2352.4L417.1,2352.4L419.1,2352.4L421.1,2352.4L423.1,2352.4L425.1,2352.4L427.1,2352.4L429.1,2352.4L431.1,2352.4L433.1,2352.4L435.1,2352.4L437.1,2352.4L439.1,2352.4L441.1,2352.4L443.1,2352.4L445.1,2352.4L447.1,2352.4L449.1,2352.4L451.1,2352.4L453.1,2352.4L455.1,2352.4L457.1,2352.4L459.1,2352.4L461.1,2352.4L463.1,2352.4L465.1,2352.4L467.1,2352.4L469.1,2352.4L471.1,2352.4L473.1,2352.4L475.1,2352.4L477.1,2352.4L479.1,2352.4L481.1,2352.4L483.1,2352.4L485.1,2352.4L487.1,2352.4L489.1,2352.4L491.1,2352.4L493.1,2352.4L495.2,2352.4L497.2,2352.4L499.2,2352.4L501.2,2352.4L503.2,2352.4L505.2,2352.4L507.2,2352.4L509.2,2352.4L511.2,2352.4L513.2,2352.4L515.2,2352.4L517.2,2352.4L519.2,2352.4L521.2,2352.4L523.2,2352.4L525.2,2352.4L527.2,2352.4L529.2,2352.4L531.2,2352.4L533.2,2352.4L535.2,2352.4L537.2,2352.4L539.2,2352.4L541.2,2352.4L543.2,2352.4L545.2,2352.5L547.2,2352.5L549.2,2352.5L551.2,2352.5L553.2,2352.5L555.2,2352.5L557.2,2352.5L559.2,2352.5L561.2,2352.5L563.2,2352.5L565.2,2352.5L567.2,2352.5L569.2,2352.5L571.2,2352.5L573.2,2352.5L575.2,2352.5L577.2,2352.5L579.2,2352.5L581.2,2352.5L583.2,2352.5L585.2,2352.5L587.2,2352.5L589.2,2352.5L591.2,2352.5L593.2,2352.5L595.2,2352.5L597.2,2352.5L599.2,2352.5L601.2,2352.5L603.2,2352.5L605.2,2352.5L607.2,2352.5L609.2,2352.5L611.2,2352.5L613.2,2352.5L615.2,2352.5L617.2,2352.5L619.2,2352.5L621.2,2352.5L623.2,2352.5L625.3,2352.5L627.3,2352.5L629.3,2352.5L631.3,2352.5L633.3,2352.5L635.3,2352.5L637.3,2352.5L639.3,2352.5L641.3,2352.5L643.3,2352.5L645.3,2352.5L647.3,2352.5L649.3,2352.5L651.3,2352.5L653.3,2352.5L655.3,2352.5L657.3,2352.5L659.3,2352.5L661.3,2352.5L663.3,2352.5L665.3,2352.5L667.3,2352.5L669.3,2352.5L671.3,2352.5L673.3,2352.5L675.3,2352.5L677.3,2352.5L679.3,2352.5L681.3,2352.5L683.3,2352.5L685.3,2352.5L687.3,2352.5L688.3,2352.5" stroke="#0000ff" stroke-opacity="0.5" stroke-width="2.30" fill="none" stroke-linejoin="round" stroke-linecap="butt"/><path d="M134.6,1920.9L134.7,1922.9L134.8,1924.9L134.8,1926.9L134.9,1928.9L135.0,1930.9L135.1,1932.9L135.2,1934.9L135.3,1936.9L135.3,1938.9L135.4,1940.9L135.5,1942.9L135.6,1944.9L135.7,1946.9L135.8,1948.9L135.8,1950.9L135.9,1952.9L136.0,1954.9L136.1,1956.9L136.2,1958.9L136.2,1960.9L136.3,1962.9L136.4,1964.9L136.4,1966.9L136.5,1968.9L136.6,1970.9L136.6,1972.9L136.7,1974.9L136.7,1976.9L136.8,1978.9L136.9,1980.9L136.9,1982.9L137.0,1984.9L137.1,1986.9L137.1,1988.9L137.2,1990.9L137.3,1992.9L137.3,1994.9L137.4,1996.9L137.4,1998.9L137.5,2000.9L137.6,2002.9L137.6,2004.9L137.7,2006.9L137.7,2008.9L137.7,2010.9L137.8,2012.9L137.8,2014.9L137.8,2016.9L137.9,2018.9L137.9,2020.9L137.9,2022.9L138.0,2024.9L138.0,2026.9L138.0,2028.9L138.1,2030.9L138.1,2032.9L138.1,2034.9L138.2,2036.9L138.2,2038.9L138.2,2040.9L138.3,2042.9L138.3,2044.9L138.3,2046.9L138.4,2048.9L138.4,2050.9L138.5,2052.9L138.5,2054.9L138.5,2056.9L138.6,2058.9L138.6,2060.9L138.6,2062.9L138.7,2064.9L138.7,2066.9L138.7,2068.9L138.7,2071.0L138.8,2073.0L138.8,2075.0L138.8,2077.0L138.9,2079.0L138.9,2081.0L138.9,2083.0L139.0,2085.0L139.0,2087.0L139.0,2089.0L139.1,2091.0L139.1,2093.0L139.1,2095.0L139.2,2097.0L139.2,2099.0L139.2,2101.0L139.2,2103.0L139.3,2105.0L139.3,2107.0L139.3,2109.0L139.4,2111.0L139.4,2113.0L139.4,2115.0L139.5,2117.0L139.5,2119.0L139.5,2121.0L139.6,2123.0L139.6,2125.0L139.6,2127.0L139.7,2129.0L139.7,2131.0L139.7,2133.0L139.8,2135.0L139.8,2137.0L139.8,2139.0L139.9,2141.0L139.9,2143.0L139.9,2145.0L140.0,2147.0L140.0,2149.0L140.0,2151.0L140.1,2153.0L140.1,2155.0L140.1,2157.0L140.2,2159.0L140.2,2161.0L140.2,2163.0L140.3,2165.0L140.3,2167.0L140.3,2169.0L140.4,2171.0L140.4,2173.0L140.4,2175.0L140.5,2177.0L140.5,2179.0L140.5,2181.0L140.6,2183.0L140.6,2185.0L140.6,2187.0L140.7,2189.0L140.7,2191.0L140.7,2193.0L140.8,2195.0L140.8,2197.0L140.8,2199.0L140.9,2201.0L140.9,2203.0L140.9,2205.0L141.0,2207.0L141.0,2209.0L141.1,2211.0L141.1,2213.0L141.1,2215.0L141.2,2217.0L141.2,2219.0L141.2,2221.0L141.3,2223.0L141.3,2225.0L141.3,2227.0L141.4,2229.1L141.4,2231.1L141.4,2233.1L141.5,2235.1L141.5,2237.1L141.6,2239.1L141.7,2241.1L141.8,2243.1L141.9,2245.1L141.9,2247.1L142.0,2249.1L142.1,2251.1L142.2,2253.1L142.3,2255.1L142.4,2257.1L142.5,2259.1L142.6,2261.1L142.6,2263.1L142.7,2265.1L142.8,2267.0L142.9,2269.0L143.1,2271.0L143.2,2273.0L143.4,2275.0L143.5,2277.0L143.7,2279.0L143.8,2281.0L144.0,2283.0L144.1,2285.0L144.3,2287.0L144.5,2289.0L144.6,2291.0L144.8,2293.0L145.0,2295.0L145.2,2297.0L145.5,2299.0L145.8,2300.9L146.1,2302.9L146.4,2304.9L146.7,2306.9L146.9,2308.9L147.3,2310.8L147.6,2312.8L148.1,2314.7L148.6,2316.7L149.2,2318.6L149.7,2320.5L150.3,2322.4L150.9,2324.3L151.5,2326.2L152.4,2328.0L153.4,2329.8L154.4,2331.5L155.4,2333.2L156.5,2334.9L157.7,2336.4L159.1,2337.8L160.7,2339.1L162.2,2340.3L163.8,2341.5L165.4,2342.7L167.2,2343.6L169.0,2344.4L170.9,2345.0L172.8,2345.7L174.7,2346.3L176.6,2346.9L178.5,2347.5L180.4,2348.0L182.4,2348.4L184.4,2348.7L186.3,2348.9L188.3,2349.2L190.3,2349.4L192.3,2349.6L194.3,2349.9L196.3,2350.1L198.3,2350.3L200.3,2350.5L202.3,2350.7L204.3,2350.8L206.3,2350.8L208.3,2350.9L210.3,2351.0L212.3,2351.1L214.3,2351.2L216.3,2351.2L218.3,2351.3L220.3,2351.4L222.3,2351.5L224.3,2351.6L226.3,2351.6L228.3,2351.7L230.3,2351.8L232.3,2351.8L234.3,2351.9L236.3,2351.9L238.3,2352.0L240.3,2352.0L242.3,2352.0L244.3,2352.1L246.3,2352.1L248.3,2352.1L250.3,2352.2L252.3,2352.2L254.3,2352.2L256.3,2352.2L258.3,2352.2L260.3,2352.2L262.3,2352.2L264.3,2352.2L266.3,2352.2L268.3,2352.2L270.3,2352.2L272.3,2352.2L274.3,2352.2L276.3,2352.2L278.3,2352.2L280.3,2352.2L282.3,2352.2L284.3,2352.2L286.3,2352.2L288.3,2352.2L290.3,2352.3L292.3,2352.3L294.3,2352.3L296.3,2352.3L298.3,2352.3L300.3,2352.3L302.3,2352.3L304.3,2352.3L306.3,2352.3L308.3,2352.3L310.3,2352.3L312.3,2352.3L314.3,2352.3L316.3,2352.3L318.3,2352.3L320.3,2352.3L322.3,2352.3L324.3,2352.3L326.3,2352.3L328.3,2352.3L330.3,2352.3L332.3,2352.3L334.3,2352.3L336.3,2352.3L338.3,2352.3L340.3,2352.3L342.3,2352.3L344.3,2352.3L346.3,2352.3L348.3,2352.3L350.3,2352.3L352.3,2352.3L354.3,2352.3L356.3,2352.3L358.3,2352.3L360.3,2352.3L362.3,2352.3L364.3,2352.4L366.4,2352.4L368.4,2352.4L370.4,2352.4L372.4,2352.4L374.4,2352.4L376.4,2352.4L378.4,2352.4L380.4,2352.4L382.4,2352.4L384.4,2352.4L386.4,2352.4L388.4,2352.4L390.4,2352.4L392.4,2352.4L394.4,2352.4L396.4,2352.4L398.4,2352.4L400.4,2352.4L402.4,2352.4L404.4,2352.4L406.4,2352.4L408.4,2352.4L410.4,2352.4L412.4,2352.4L414.4,2352.4L416.4,2352.4L418.4,2352.4L420.4,2352.4L422.4,2352.4L424.4,2352.4L426.4,2352.4L428.4,2352.4L430.4,2352.4L432.4,2352.4L434.4,2352.4L436.4,2352.4L438.4,2352.4L440.4,2352.4L442.4,2352.4L444.4,2352.4L446.4,2352.4L448.4,2352.4L450.4,2352.4L452.4,2352.4L454.4,2352.4L456.4,2352.4L458.4,2352.4L460.4,2352.4L462.4,2352.4L464.4,2352.4L466.4,2352.4L468.4,2352.4L470.4,2352.4L472.4,2352.4L474.4,2352.4L476.4,2352.4L478.4,2352.4L480.4,2352.4L482.4,2352.4L484.4,2352.4L486.4,2352.4L488.4,2352.4L490.4,2352.4L492.4,2352.4L494.4,2352.4L496.5,2352.4L498.5,2352.4L500.5,2352.4L502.5,2352.4L504.5,2352.4L506.5,2352.4L508.5,2352.4L510.5,2352.4L512.5,2352.4L514.5,2352.4L516.5,2352.4L518.5,2352.4L520.5,2352.4L522.5,2352.4L524.5,2352.4L526.5,2352.4L528.5,2352.4L530.5,2352.4L532.5,2352.4L534.5,2352.4L536.5,2352.4L538.5,2352.4L540.5,2352.4L542.5,2352.4L544.5,2352.4L546.5,2352.5L548.5,2352.5L550.5,2352.5L552.5,2352.5L554.5,2352.5L556.5,2352.5L558.5,2352.5L560.5,2352.5L562.5,2352.5L564.5,2352.5L566.5,2352.5L568.5,2352.5L570.5,2352.5L572.5,2352.5L574.5,2352.5L576.5,2352.5L578.5,2352.5L580.5,2352.5L582.5,2352.5L584.5,2352.5L586.5,2352.5L588.5,2352.5L590.5,2352.5L592.5,2352.5L594.5,2352.5L596.5,2352.5L598.5,2352.5L600.5,2352.5L602.5,2352.5L604.5,2352.5L606.5,2352.5L608.5,2352.5L610.5,2352.5L612.5,2352.5L614.5,2352.5L616.5,2352.5L618.5,2352.5L620.5,2352.5L622.5,2352.5L624.5,2352.5L626.6,2352.5L628.6,2352.5L630.6,2352.5L632.6,2352.5L634.6,2352.5L636.6,2352.5L638.6,2352.5L640.6,2352.5L642.6,2352.5L644.6,2352.5L646.6,2352.5L648.6,2352.5L650.6,2352.5L652.6,2352.5L654.6,2352.5L656.6,2352.5L658.6,2352.5L660.6,2352.5L662.6,2352.5L664.6,2352.5L666.6,2352.5L668.6,2352.5L670.6,2352.5L672.6,2352.5L674.6,2352.5L676.6,2352.5L678.6,2352.5L680.6,2352.5L682.6,2352.5L684.6,2352.5L686.6,2352.5L688.6,2352.5L689.6,2352.5" stroke="#008000" stroke-opacity="0.5" stroke-width="2.30" fill="none" stroke-linejoin="round" stroke-linecap="butt"/><path d="M130.4,2352.7V2345.7 M130.4,1880.5V1887.5 M250.5,2352.7V2345.7 M250.5,1880.5V1887.5 M370.6,2352.7V2345.7 M370.6,1880.5V1887.5 M490.7,2352.7V2345.7 M490.7,1880.5V1887.5 M610.8,2352.7V2345.7 M610.8,1880.5V1887.5 M730.9,2352.7V2345.7 M730.9,1880.5V1887.5 M131.1,2352.7H138.1 M743.5,2352.7H736.5 M131.1,2294.5H138.1 M743.5,2294.5H736.5 M131.1,2236.3H138.1 M743.5,2236.3H736.5 M131.1,2178.1H138.1 M743.5,2178.1H736.5 M131.1,2119.9H138.1 M743.5,2119.9H736.5 M131.1,2061.7H138.1 M743.5,2061.7H736.5 M131.1,2003.5H138.1 M743.5,2003.5H736.5 M131.1,1945.3H138.1 M743.5,1945.3H736.5 M131.1,1887.1H138.1 M743.5,1887.1H736.5" stroke="#8a8a8a" stroke-width="2.20" fill="none"/><rect x="131.1" y="1880.5" width="612.4" height="472.2" fill="none" stroke="#8a8a8a" stroke-width="2.20"/><text x="131.4" y="2384.2" font-size="27.0" text-anchor="middle" textLength="15.8" lengthAdjust="spacingAndGlyphs">0</text><text x="251.5" y="2384.2" font-size="27.0" text-anchor="middle" textLength="47.3" lengthAdjust="spacingAndGlyphs">500</text><text x="368.1" y="2384.2" font-size="27.0" text-anchor="middle" textLength="70.9" lengthAdjust="spacingAndGlyphs">1,000</text><text x="488.2" y="2384.2" font-size="27.0" text-anchor="middle" textLength="70.9" lengthAdjust="spacingAndGlyphs">1,500</text><text x="608.3" y="2384.2" font-size="27.0" text-anchor="middle" textLength="70.9" lengthAdjust="spacingAndGlyphs">2,000</text><text x="728.4" y="2384.2" font-size="27.0" text-anchor="middle" textLength="70.9" lengthAdjust="spacingAndGlyphs">2,500</text><text x="123.7" y="2360.2" font-size="27.0" text-anchor="end" textLength="15.8" lengthAdjust="spacingAndGlyphs">0</text><text x="123.7" y="2302.0" font-size="27.0" text-anchor="end" textLength="47.3" lengthAdjust="spacingAndGlyphs">500</text><text x="123.7" y="2243.8" font-size="27.0" text-anchor="end" textLength="70.9" lengthAdjust="spacingAndGlyphs">1,000</text><text x="123.7" y="2185.6" font-size="27.0" text-anchor="end" textLength="70.9" lengthAdjust="spacingAndGlyphs">1,500</text><text x="123.7" y="2127.4" font-size="27.0" text-anchor="end" textLength="70.9" lengthAdjust="spacingAndGlyphs">2,000</text><text x="123.7" y="2069.2" font-size="27.0" text-anchor="end" textLength="70.9" lengthAdjust="spacingAndGlyphs">2,500</text><text x="123.7" y="2011.0" font-size="27.0" text-anchor="end" textLength="70.9" lengthAdjust="spacingAndGlyphs">3,000</text><text x="123.7" y="1952.8" font-size="27.0" text-anchor="end" textLength="70.9" lengthAdjust="spacingAndGlyphs">3,500</text><text x="123.7" y="1894.6" font-size="27.0" text-anchor="end" textLength="70.9" lengthAdjust="spacingAndGlyphs">4,000</text><text x="402.2" y="1867.5" font-size="31.5" text-anchor="start" textLength="68.1" lengthAdjust="spacingAndGlyphs">Skull</text><text x="361.3" y="2418.9" font-size="28.5" text-anchor="start" textLength="147.4" lengthAdjust="spacingAndGlyphs">Dose (cGy)</text><g transform="translate(25.3,2200.5) rotate(-90)"><text x="-0.1" y="0.0" font-size="28.5" text-anchor="start" textLength="166.4" lengthAdjust="spacingAndGlyphs">Volume (cc3)</text></g><rect x="519.4" y="1888.5" width="214.3" height="64.0" fill="#fff" stroke="#8a8a8a" stroke-width="2.40"/><path d="M531.4,1903.4H562.2" stroke="#0000ff" stroke-opacity="0.5" stroke-width="2.4"/><path d="M531.4,1932.4H562.2" stroke="#008000" stroke-opacity="0.5" stroke-width="3.0"/><text x="574.3" y="1911.9" font-size="24.5" text-anchor="start" textLength="72.6" lengthAdjust="spacingAndGlyphs">TMR10</text><text x="574.1" y="1940.7" font-size="24.5" text-anchor="start" textLength="143.5" lengthAdjust="spacingAndGlyphs">Convolution</text></g>
<g><path d="M994.8,1878.4V2352.5 M1081.4,1878.4V2352.5 M1168.1,1878.4V2352.5 M1254.8,1878.4V2352.5 M1341.5,1878.4V2352.5 M1428.1,1878.4V2352.5 M1514.8,1878.4V2352.5 M908.2,2265.9H1520.9 M908.2,2179.3H1520.9 M908.2,2092.8H1520.9 M908.2,2006.2H1520.9 M908.2,1919.6H1520.9" stroke="#c6c6c6" stroke-width="1.30" stroke-dasharray="2.2 3.3" fill="none"/><path d="M908.7,1922.1L910.2,1922.1L911.7,1922.0L913.2,1922.0L914.7,1922.0L916.2,1922.0L917.7,1921.9L919.2,1921.9L920.7,1921.9L922.2,1921.8L923.7,1921.8L925.2,1921.8L926.7,1921.7L928.2,1921.7L929.7,1921.7L931.2,1921.7L932.7,1921.6L934.2,1921.6L935.7,1921.6L937.2,1921.5L938.7,1921.5L940.2,1921.5L941.7,1921.5L943.2,1921.4L944.7,1921.4L946.2,1921.4L947.7,1921.3L949.2,1921.3L950.7,1921.3L952.2,1921.3L953.7,1921.2L955.2,1921.2L956.7,1921.2L958.2,1921.2L959.7,1921.1L961.2,1921.1L962.7,1921.1L964.2,1921.1L965.7,1921.0L967.2,1921.0L968.7,1921.0L970.2,1921.0L971.7,1920.9L973.2,1920.9L974.7,1920.9L976.2,1920.9L977.7,1920.8L979.2,1920.8L980.7,1920.8L982.2,1920.8L983.7,1920.8L985.2,1920.7L986.7,1920.7L988.2,1920.7L989.7,1920.7L991.2,1920.6L992.7,1920.6L994.2,1920.6L995.7,1920.6L997.2,1920.6L998.7,1920.5L1000.2,1920.5L1001.7,1920.5L1003.2,1920.5L1004.7,1920.5L1006.2,1920.5L1007.7,1920.4L1009.2,1920.4L1010.7,1920.4L1012.2,1920.4L1013.7,1920.4L1015.2,1920.4L1016.7,1920.4L1018.2,1920.3L1019.7,1920.3L1021.2,1920.3L1022.7,1920.3L1024.2,1920.3L1025.7,1920.3L1027.2,1920.3L1028.7,1920.3L1030.2,1920.2L1031.7,1920.2L1033.2,1920.2L1034.7,1920.2L1036.2,1920.2L1037.7,1920.2L1039.2,1920.2L1040.7,1920.2L1042.2,1920.2L1043.7,1920.2L1045.2,1920.2L1046.7,1920.2L1048.2,1920.2L1049.7,1920.2L1051.2,1920.2L1052.7,1920.2L1054.2,1920.2L1055.7,1920.2L1057.2,1920.2L1058.7,1920.2L1060.2,1920.2L1061.7,1920.2L1063.2,1920.2L1064.7,1920.2L1066.2,1920.2L1067.7,1920.2L1069.2,1920.2L1070.7,1920.2L1072.2,1920.2L1073.7,1920.2L1075.2,1920.2L1076.7,1920.2L1078.2,1920.2L1079.7,1920.2L1081.2,1920.3L1082.7,1920.3L1084.2,1920.3L1085.7,1920.3L1087.2,1920.3L1088.7,1920.3L1090.2,1920.3L1091.7,1920.3L1093.2,1920.4L1094.7,1920.4L1096.2,1920.4L1097.7,1920.4L1099.2,1920.4L1100.7,1920.5L1102.2,1920.5L1103.7,1920.5L1105.2,1920.5L1106.7,1920.5L1108.2,1920.6L1109.7,1920.6L1111.2,1920.6L1112.7,1920.6L1114.2,1920.7L1115.7,1920.7L1117.2,1920.7L1118.7,1920.8L1120.2,1920.8L1121.7,1920.8L1123.2,1920.8L1124.7,1920.9L1126.2,1920.9L1127.7,1921.0L1129.2,1921.0L1130.7,1921.0L1132.2,1921.1L1133.7,1921.1L1135.2,1921.1L1136.7,1921.2L1138.2,1921.2L1139.7,1921.3L1141.2,1921.3L1142.7,1921.4L1144.2,1921.4L1145.7,1921.4L1147.2,1921.5L1148.7,1921.5L1150.2,1921.6L1151.7,1921.6L1153.2,1921.7L1154.7,1921.7L1156.2,1921.8L1157.7,1921.8L1159.2,1921.9L1160.7,1922.0L1162.2,1922.0L1163.7,1922.1L1165.2,1922.1L1166.7,1922.2L1168.2,1922.3L1169.7,1922.3L1171.2,1922.4L1172.7,1922.5L1174.2,1922.6L1175.7,1922.7L1177.2,1922.8L1178.7,1922.9L1180.2,1923.0L1181.7,1923.1L1183.2,1923.3L1184.7,1923.4L1186.2,1923.6L1187.7,1923.8L1189.2,1924.0L1190.7,1924.2L1192.2,1924.5L1193.7,1924.8L1195.2,1925.1L1196.7,1925.5L1198.2,1925.9L1199.7,1926.3L1201.2,1926.8L1202.7,1927.4L1204.1,1927.9L1205.5,1928.5L1206.9,1929.2L1208.3,1929.9L1209.7,1930.7L1211.0,1931.5L1212.3,1932.4L1213.6,1933.3L1214.8,1934.2L1216.0,1935.2L1217.2,1936.2L1218.4,1937.2L1219.5,1938.3L1220.6,1939.3L1221.7,1940.4L1222.8,1941.6L1223.9,1942.8L1224.9,1944.0L1225.9,1945.1L1226.9,1946.3L1227.9,1947.6L1228.9,1948.9L1229.9,1950.2L1230.8,1951.4L1231.7,1952.7L1232.6,1954.0L1233.5,1955.3L1234.4,1956.6L1235.3,1958.0L1236.2,1959.4L1237.0,1960.7L1237.8,1962.0L1238.6,1963.3L1239.4,1964.6L1240.2,1966.0L1241.0,1967.4L1241.8,1968.8L1242.6,1970.2L1243.4,1971.6L1244.2,1973.1L1245.0,1974.5L1245.8,1976.0L1246.6,1977.5L1247.4,1979.0L1248.1,1980.3L1248.8,1981.7L1249.5,1983.0L1250.2,1984.4L1250.9,1985.8L1251.6,1987.2L1252.3,1988.6L1253.0,1990.0L1253.7,1991.4L1254.4,1992.8L1255.1,1994.2L1255.8,1995.7L1256.5,1997.1L1257.2,1998.6L1257.9,2000.0L1258.6,2001.5L1259.3,2003.0L1260.0,2004.4L1260.7,2005.9L1261.4,2007.4L1262.1,2008.8L1262.8,2010.3L1263.5,2011.8L1264.2,2013.3L1264.9,2014.8L1265.6,2016.3L1266.3,2017.8L1267.0,2019.3L1267.7,2020.8L1268.4,2022.3L1269.1,2023.8L1269.8,2025.3L1270.5,2026.8L1271.2,2028.3L1271.9,2029.8L1272.6,2031.3L1273.3,2032.9L1274.0,2034.4L1274.7,2035.9L1275.4,2037.4L1276.1,2038.9L1276.8,2040.5L1277.5,2042.0L1278.2,2043.5L1278.9,2045.0L1279.6,2046.6L1280.3,2048.1L1281.0,2049.6L1281.7,2051.2L1282.4,2052.7L1283.1,2054.2L1283.8,2055.8L1284.5,2057.3L1285.2,2058.8L1285.9,2060.4L1286.6,2061.9L1287.3,2063.4L1288.0,2065.0L1288.7,2066.5L1289.4,2068.0L1290.1,2069.6L1290.8,2071.1L1291.5,2072.7L1292.2,2074.2L1292.9,2075.7L1293.6,2077.3L1294.3,2078.8L1295.0,2080.3L1295.7,2081.9L1296.4,2083.4L1297.1,2084.9L1297.8,2086.5L1298.5,2088.0L1299.2,2089.6L1299.9,2091.1L1300.6,2092.6L1301.3,2094.2L1302.0,2095.7L1302.7,2097.3L1303.4,2098.8L1304.1,2100.4L1304.8,2101.9L1305.5,2103.5L1306.2,2105.0L1306.9,2106.6L1307.6,2108.2L1308.3,2109.7L1309.0,2111.3L1309.7,2112.9L1310.4,2114.5L1311.1,2116.1L1311.7,2117.4L1312.3,2118.8L1312.9,2120.2L1313.5,2121.6L1314.1,2123.0L1314.7,2124.4L1315.3,2125.8L1315.9,2127.2L1316.5,2128.7L1317.1,2130.1L1317.7,2131.5L1318.3,2133.0L1318.9,2134.4L1319.5,2135.9L1320.1,2137.4L1320.7,2138.8L1321.3,2140.3L1321.9,2141.8L1322.5,2143.3L1323.1,2144.8L1323.7,2146.3L1324.3,2147.9L1324.9,2149.4L1325.5,2150.9L1326.1,2152.5L1326.7,2154.0L1327.3,2155.6L1327.9,2157.2L1328.5,2158.7L1329.1,2160.3L1329.7,2161.9L1330.3,2163.5L1330.9,2165.1L1331.5,2166.7L1332.1,2168.4L1332.7,2170.0L1333.3,2171.6L1333.9,2173.2L1334.5,2174.8L1335.1,2176.5L1335.7,2178.1L1336.3,2179.7L1336.9,2181.4L1337.5,2183.0L1338.1,2184.7L1338.7,2186.3L1339.3,2187.9L1339.9,2189.6L1340.5,2191.2L1341.1,2192.8L1341.7,2194.5L1342.3,2196.1L1342.9,2197.7L1343.5,2199.3L1344.1,2200.9L1344.7,2202.6L1345.3,2204.2L1345.9,2205.8L1346.5,2207.4L1347.1,2209.0L1347.7,2210.6L1348.3,2212.1L1348.9,2213.7L1349.5,2215.3L1350.1,2216.9L1350.7,2218.4L1351.3,2220.0L1351.9,2221.5L1352.5,2223.0L1353.1,2224.5L1353.7,2226.1L1354.3,2227.6L1354.9,2229.1L1355.5,2230.5L1356.1,2232.0L1356.7,2233.5L1357.3,2234.9L1357.9,2236.3L1358.5,2237.8L1359.1,2239.2L1359.7,2240.6L1360.3,2242.0L1360.9,2243.4L1361.5,2244.8L1362.2,2246.3L1362.9,2247.9L1363.6,2249.5L1364.3,2251.0L1365.0,2252.6L1365.7,2254.1L1366.4,2255.6L1367.1,2257.1L1367.8,2258.6L1368.5,2260.1L1369.2,2261.5L1369.9,2263.0L1370.6,2264.4L1371.3,2265.9L1372.0,2267.3L1372.7,2268.7L1373.4,2270.1L1374.1,2271.5L1374.8,2272.9L1375.5,2274.2L1376.2,2275.6L1376.9,2276.9L1377.6,2278.3L1378.4,2279.8L1379.2,2281.3L1380.0,2282.7L1380.8,2284.2L1381.6,2285.7L1382.4,2287.1L1383.2,2288.5L1384.0,2289.9L1384.8,2291.3L1385.6,2292.7L1386.4,2294.0L1387.2,2295.4L1388.0,2296.7L1388.8,2298.0L1389.6,2299.2L1390.5,2300.6L1391.4,2302.0L1392.3,2303.4L1393.2,2304.7L1394.1,2306.0L1395.0,2307.3L1395.9,2308.5L1396.8,2309.7L1397.8,2311.1L1398.8,2312.4L1399.8,2313.6L1400.8,2314.8L1401.8,2316.0L1402.8,2317.2L1403.8,2318.3L1404.9,2319.5L1406.0,2320.7L1407.1,2321.9L1408.2,2323.0L1409.3,2324.1L1410.4,2325.1L1411.5,2326.2L1412.7,2327.3L1413.9,2328.3L1415.1,2329.4L1416.3,2330.4L1417.5,2331.4L1418.7,2332.4L1419.9,2333.3L1421.1,2334.3L1422.3,2335.2L1423.6,2336.1L1424.9,2337.1L1426.2,2338.0L1427.5,2338.8L1428.8,2339.7L1430.1,2340.5L1431.4,2341.3L1432.7,2342.1L1434.1,2342.9L1435.5,2343.6L1436.9,2344.4L1438.3,2345.1L1439.7,2345.7L1441.1,2346.4L1442.5,2347.0L1443.9,2347.5L1445.4,2348.1L1446.9,2348.6L1448.4,2349.1L1449.9,2349.6L1451.4,2350.0L1452.9,2350.4L1454.4,2350.8L1455.9,2351.1L1457.4,2351.5L1458.9,2351.8L1460.4,2352.0L1461.9,2352.3L1463.4,2352.6L1464.9,2352.8L1466.3,2353.1" stroke="#0000ff" stroke-opacity="0.5" stroke-width="2.30" fill="none" stroke-linejoin="round" stroke-linecap="butt"/><path d="M907.5,1922.1L909.0,1922.1L910.5,1922.0L912.0,1922.0L913.5,1922.0L915.0,1922.0L916.5,1921.9L918.0,1921.9L919.5,1921.9L921.0,1921.8L922.5,1921.8L924.0,1921.8L925.5,1921.7L927.0,1921.7L928.5,1921.7L930.0,1921.7L931.5,1921.6L933.0,1921.6L934.5,1921.6L936.0,1921.5L937.5,1921.5L939.0,1921.5L940.5,1921.5L942.0,1921.4L943.5,1921.4L945.0,1921.4L946.5,1921.3L948.0,1921.3L949.5,1921.3L951.0,1921.3L952.5,1921.2L954.0,1921.2L955.5,1921.2L957.0,1921.2L958.5,1921.1L960.0,1921.1L961.5,1921.1L963.0,1921.1L964.5,1921.0L966.0,1921.0L967.5,1921.0L969.0,1921.0L970.5,1920.9L972.0,1920.9L973.5,1920.9L975.0,1920.9L976.5,1920.8L978.0,1920.8L979.5,1920.8L981.0,1920.8L982.5,1920.8L984.0,1920.7L985.5,1920.7L987.0,1920.7L988.5,1920.7L990.0,1920.6L991.5,1920.6L993.0,1920.6L994.5,1920.6L996.0,1920.6L997.5,1920.5L999.0,1920.5L1000.5,1920.5L1002.0,1920.5L1003.5,1920.5L1005.0,1920.5L1006.5,1920.4L1008.0,1920.4L1009.5,1920.4L1011.0,1920.4L1012.5,1920.4L1014.0,1920.4L1015.5,1920.4L1017.0,1920.3L1018.5,1920.3L1020.0,1920.3L1021.5,1920.3L1023.0,1920.3L1024.5,1920.3L1026.0,1920.3L1027.5,1920.3L1029.0,1920.2L1030.5,1920.2L1032.0,1920.2L1033.5,1920.2L1035.0,1920.2L1036.5,1920.2L1038.0,1920.2L1039.5,1920.2L1041.0,1920.2L1042.5,1920.2L1044.0,1920.2L1045.5,1920.2L1047.0,1920.2L1048.5,1920.2L1050.0,1920.2L1051.5,1920.2L1053.0,1920.2L1054.5,1920.2L1056.0,1920.2L1057.5,1920.2L1059.0,1920.2L1060.5,1920.2L1062.0,1920.2L1063.5,1920.2L1065.0,1920.2L1066.5,1920.2L1068.0,1920.2L1069.5,1920.2L1071.0,1920.2L1072.5,1920.2L1074.0,1920.2L1075.5,1920.2L1077.0,1920.2L1078.5,1920.2L1080.0,1920.3L1081.5,1920.3L1083.0,1920.3L1084.5,1920.3L1086.0,1920.3L1087.5,1920.3L1089.0,1920.3L1090.5,1920.3L1092.0,1920.4L1093.5,1920.4L1095.0,1920.4L1096.5,1920.4L1098.0,1920.4L1099.5,1920.5L1101.0,1920.5L1102.5,1920.5L1104.0,1920.5L1105.5,1920.5L1107.0,1920.6L1108.5,1920.6L1110.0,1920.6L1111.5,1920.6L1113.0,1920.7L1114.5,1920.7L1116.0,1920.7L1117.5,1920.8L1119.0,1920.8L1120.5,1920.8L1122.0,1920.8L1123.5,1920.9L1125.0,1920.9L1126.5,1921.0L1128.0,1921.0L1129.5,1921.0L1131.0,1921.1L1132.5,1921.1L1134.0,1921.1L1135.5,1921.2L1137.0,1921.2L1138.5,1921.3L1140.0,1921.3L1141.5,1921.4L1143.0,1921.4L1144.5,1921.4L1146.0,1921.5L1147.5,1921.5L1149.0,1921.6L1150.5,1921.6L1152.0,1921.7L1153.5,1921.7L1155.0,1921.8L1156.5,1921.8L1158.0,1921.9L1159.5,1922.0L1161.0,1922.0L1162.5,1922.1L1164.0,1922.1L1165.5,1922.2L1167.0,1922.3L1168.5,1922.3L1170.0,1922.4L1171.5,1922.5L1173.0,1922.6L1174.5,1922.7L1176.0,1922.8L1177.5,1922.9L1179.0,1923.0L1180.5,1923.1L1182.0,1923.3L1183.5,1923.4L1185.0,1923.6L1186.5,1923.8L1188.0,1924.0L1189.5,1924.2L1191.0,1924.5L1192.5,1924.8L1194.0,1925.1L1195.5,1925.5L1197.0,1925.9L1198.5,1926.3L1200.0,1926.8L1201.5,1927.4L1202.9,1927.9L1204.3,1928.5L1205.7,1929.2L1207.1,1929.9L1208.5,1930.7L1209.8,1931.5L1211.1,1932.4L1212.4,1933.3L1213.6,1934.2L1214.8,1935.2L1216.0,1936.2L1217.2,1937.2L1218.3,1938.3L1219.4,1939.3L1220.5,1940.4L1221.6,1941.6L1222.7,1942.8L1223.7,1944.0L1224.7,1945.1L1225.7,1946.3L1226.7,1947.6L1227.7,1948.9L1228.7,1950.2L1229.6,1951.4L1230.5,1952.7L1231.4,1954.0L1232.3,1955.3L1233.2,1956.6L1234.1,1958.0L1235.0,1959.4L1235.8,1960.7L1236.6,1962.0L1237.4,1963.3L1238.2,1964.6L1239.0,1966.0L1239.8,1967.4L1240.6,1968.8L1241.4,1970.2L1242.2,1971.6L1243.0,1973.1L1243.8,1974.5L1244.6,1976.0L1245.4,1977.5L1246.2,1979.0L1246.9,1980.3L1247.6,1981.7L1248.3,1983.0L1249.0,1984.4L1249.7,1985.8L1250.4,1987.2L1251.1,1988.6L1251.8,1990.0L1252.5,1991.4L1253.2,1992.8L1253.9,1994.2L1254.6,1995.7L1255.3,1997.1L1256.0,1998.6L1256.7,2000.0L1257.4,2001.5L1258.1,2003.0L1258.8,2004.4L1259.5,2005.9L1260.2,2007.4L1260.9,2008.8L1261.6,2010.3L1262.3,2011.8L1263.0,2013.3L1263.7,2014.8L1264.4,2016.3L1265.1,2017.8L1265.8,2019.3L1266.5,2020.8L1267.2,2022.3L1267.9,2023.8L1268.6,2025.3L1269.3,2026.8L1270.0,2028.3L1270.7,2029.8L1271.4,2031.3L1272.1,2032.9L1272.8,2034.4L1273.5,2035.9L1274.2,2037.4L1274.9,2038.9L1275.6,2040.5L1276.3,2042.0L1277.0,2043.5L1277.7,2045.0L1278.4,2046.6L1279.1,2048.1L1279.8,2049.6L1280.5,2051.2L1281.2,2052.7L1281.9,2054.2L1282.6,2055.8L1283.3,2057.3L1284.0,2058.8L1284.7,2060.4L1285.4,2061.9L1286.1,2063.4L1286.8,2065.0L1287.5,2066.5L1288.2,2068.0L1288.9,2069.6L1289.6,2071.1L1290.3,2072.7L1291.0,2074.2L1291.7,2075.7L1292.4,2077.3L1293.1,2078.8L1293.8,2080.3L1294.5,2081.9L1295.2,2083.4L1295.9,2084.9L1296.6,2086.5L1297.3,2088.0L1298.0,2089.6L1298.7,2091.1L1299.4,2092.6L1300.1,2094.2L1300.8,2095.7L1301.5,2097.3L1302.2,2098.8L1302.9,2100.4L1303.6,2101.9L1304.3,2103.5L1305.0,2105.0L1305.7,2106.6L1306.4,2108.2L1307.1,2109.7L1307.8,2111.3L1308.5,2112.9L1309.2,2114.5L1309.9,2116.1L1310.5,2117.4L1311.1,2118.8L1311.7,2120.2L1312.3,2121.6L1312.9,2123.0L1313.5,2124.4L1314.1,2125.8L1314.7,2127.2L1315.3,2128.7L1315.9,2130.1L1316.5,2131.5L1317.1,2133.0L1317.7,2134.4L1318.3,2135.9L1318.9,2137.4L1319.5,2138.8L1320.1,2140.3L1320.7,2141.8L1321.3,2143.3L1321.9,2144.8L1322.5,2146.3L1323.1,2147.9L1323.7,2149.4L1324.3,2150.9L1324.9,2152.5L1325.5,2154.0L1326.1,2155.6L1326.7,2157.2L1327.3,2158.7L1327.9,2160.3L1328.5,2161.9L1329.1,2163.5L1329.7,2165.1L1330.3,2166.7L1330.9,2168.4L1331.5,2170.0L1332.1,2171.6L1332.7,2173.2L1333.3,2174.8L1333.9,2176.5L1334.5,2178.1L1335.1,2179.7L1335.7,2181.4L1336.3,2183.0L1336.9,2184.7L1337.5,2186.3L1338.1,2187.9L1338.7,2189.6L1339.3,2191.2L1339.9,2192.8L1340.5,2194.5L1341.1,2196.1L1341.7,2197.7L1342.3,2199.3L1342.9,2200.9L1343.5,2202.6L1344.1,2204.2L1344.7,2205.8L1345.3,2207.4L1345.9,2209.0L1346.5,2210.6L1347.1,2212.1L1347.7,2213.7L1348.3,2215.3L1348.9,2216.9L1349.5,2218.4L1350.1,2220.0L1350.7,2221.5L1351.3,2223.0L1351.9,2224.5L1352.5,2226.1L1353.1,2227.6L1353.7,2229.1L1354.3,2230.5L1354.9,2232.0L1355.5,2233.5L1356.1,2234.9L1356.7,2236.3L1357.3,2237.8L1357.9,2239.2L1358.5,2240.6L1359.1,2242.0L1359.7,2243.4L1360.3,2244.8L1361.0,2246.3L1361.7,2247.9L1362.4,2249.5L1363.1,2251.0L1363.8,2252.6L1364.5,2254.1L1365.2,2255.6L1365.9,2257.1L1366.6,2258.6L1367.3,2260.1L1368.0,2261.5L1368.7,2263.0L1369.4,2264.4L1370.1,2265.9L1370.8,2267.3L1371.5,2268.7L1372.2,2270.1L1372.9,2271.5L1373.6,2272.9L1374.3,2274.2L1375.0,2275.6L1375.7,2276.9L1376.4,2278.3L1377.2,2279.8L1378.0,2281.3L1378.8,2282.7L1379.6,2284.2L1380.4,2285.7L1381.2,2287.1L1382.0,2288.5L1382.8,2289.9L1383.6,2291.3L1384.4,2292.7L1385.2,2294.0L1386.0,2295.4L1386.8,2296.7L1387.6,2298.0L1388.4,2299.2L1389.3,2300.6L1390.2,2302.0L1391.1,2303.4L1392.0,2304.7L1392.9,2306.0L1393.8,2307.3L1394.7,2308.5L1395.6,2309.7L1396.6,2311.1L1397.6,2312.4L1398.6,2313.6L1399.6,2314.8L1400.6,2316.0L1401.6,2317.2L1402.6,2318.3L1403.7,2319.5L1404.8,2320.7L1405.9,2321.9L1407.0,2323.0L1408.1,2324.1L1409.2,2325.1L1410.3,2326.2L1411.5,2327.3L1412.7,2328.3L1413.9,2329.4L1415.1,2330.4L1416.3,2331.4L1417.5,2332.4L1418.7,2333.3L1419.9,2334.3L1421.1,2335.2L1422.4,2336.1L1423.7,2337.1L1425.0,2338.0L1426.3,2338.8L1427.6,2339.7L1428.9,2340.5L1430.2,2341.3L1431.5,2342.1L1432.9,2342.9L1434.3,2343.6L1435.7,2344.4L1437.1,2345.1L1438.5,2345.7L1439.9,2346.4L1441.3,2347.0L1442.7,2347.5L1444.2,2348.1L1445.7,2348.6L1447.2,2349.1L1448.7,2349.6L1450.2,2350.0L1451.7,2350.4L1453.2,2350.8L1454.7,2351.1L1456.2,2351.5L1457.7,2351.8L1459.2,2352.0L1460.7,2352.3L1462.2,2352.6L1463.7,2352.8L1465.1,2353.1" stroke="#008000" stroke-opacity="0.5" stroke-width="2.30" fill="none" stroke-linejoin="round" stroke-linecap="butt"/><path d="M908.1,2352.5V2345.5 M908.1,1878.4V1885.4 M994.8,2352.5V2345.5 M994.8,1878.4V1885.4 M1081.4,2352.5V2345.5 M1081.4,1878.4V1885.4 M1168.1,2352.5V2345.5 M1168.1,1878.4V1885.4 M1254.8,2352.5V2345.5 M1254.8,1878.4V1885.4 M1341.5,2352.5V2345.5 M1341.5,1878.4V1885.4 M1428.1,2352.5V2345.5 M1428.1,1878.4V1885.4 M1514.8,2352.5V2345.5 M1514.8,1878.4V1885.4 M908.2,2352.5H915.2 M1520.9,2352.5H1513.9 M908.2,2265.9H915.2 M1520.9,2265.9H1513.9 M908.2,2179.3H915.2 M1520.9,2179.3H1513.9 M908.2,2092.8H915.2 M1520.9,2092.8H1513.9 M908.2,2006.2H915.2 M1520.9,2006.2H1513.9 M908.2,1919.6H915.2 M1520.9,1919.6H1513.9" stroke="#8a8a8a" stroke-width="2.20" fill="none"/><rect x="908.2" y="1878.4" width="612.7" height="474.1" fill="none" stroke="#8a8a8a" stroke-width="2.20"/><text x="907.6" y="2384.2" font-size="27.0" text-anchor="middle" textLength="15.8" lengthAdjust="spacingAndGlyphs">0</text><text x="994.3" y="2384.2" font-size="27.0" text-anchor="middle" textLength="47.3" lengthAdjust="spacingAndGlyphs">500</text><text x="1078.9" y="2384.2" font-size="27.0" text-anchor="middle" textLength="70.9" lengthAdjust="spacingAndGlyphs">1,000</text><text x="1165.6" y="2384.2" font-size="27.0" text-anchor="middle" textLength="70.9" lengthAdjust="spacingAndGlyphs">1,500</text><text x="1252.3" y="2384.2" font-size="27.0" text-anchor="middle" textLength="70.9" lengthAdjust="spacingAndGlyphs">2,000</text><text x="1339.0" y="2384.2" font-size="27.0" text-anchor="middle" textLength="70.9" lengthAdjust="spacingAndGlyphs">2,500</text><text x="1425.6" y="2384.2" font-size="27.0" text-anchor="middle" textLength="70.9" lengthAdjust="spacingAndGlyphs">3,000</text><text x="1512.3" y="2384.2" font-size="27.0" text-anchor="middle" textLength="70.9" lengthAdjust="spacingAndGlyphs">3,500</text><text x="898.0" y="2363.1" font-size="27.0" text-anchor="end" textLength="39.4" lengthAdjust="spacingAndGlyphs">0.0</text><text x="898.0" y="2275.7" font-size="27.0" text-anchor="end" textLength="39.4" lengthAdjust="spacingAndGlyphs">0.2</text><text x="898.0" y="2188.3" font-size="27.0" text-anchor="end" textLength="39.4" lengthAdjust="spacingAndGlyphs">0.4</text><text x="898.0" y="2100.9" font-size="27.0" text-anchor="end" textLength="39.4" lengthAdjust="spacingAndGlyphs">0.6</text><text x="898.0" y="2013.5" font-size="27.0" text-anchor="end" textLength="39.4" lengthAdjust="spacingAndGlyphs">0.8</text><text x="898.0" y="1926.1" font-size="27.0" text-anchor="end" textLength="39.4" lengthAdjust="spacingAndGlyphs">1.0</text><text x="1166.9" y="1867.5" font-size="31.5" text-anchor="start" textLength="89.7" lengthAdjust="spacingAndGlyphs">Target</text><text x="1139.7" y="2418.9" font-size="28.5" text-anchor="start" textLength="146.8" lengthAdjust="spacingAndGlyphs">Dose (cGy)</text><g transform="translate(836.5,2199.2) rotate(-90)"><text x="-0.1" y="0.0" font-size="28.5" text-anchor="start" textLength="167.7" lengthAdjust="spacingAndGlyphs">Volume (cc3)</text></g><rect x="1296.3" y="1888.5" width="215.0" height="63.8" fill="#fff" stroke="#8a8a8a" stroke-width="2.40"/><path d="M1308.3,1903.4H1339.1" stroke="#0000ff" stroke-opacity="0.5" stroke-width="2.4"/><path d="M1308.3,1932.4H1339.1" stroke="#008000" stroke-opacity="0.5" stroke-width="3.0"/><text x="1351.2" y="1911.9" font-size="24.5" text-anchor="start" textLength="72.6" lengthAdjust="spacingAndGlyphs">TMR10</text><text x="1351.0" y="1940.7" font-size="24.5" text-anchor="start" textLength="143.5" lengthAdjust="spacingAndGlyphs">Convolution</text></g>
</svg></body></html>
